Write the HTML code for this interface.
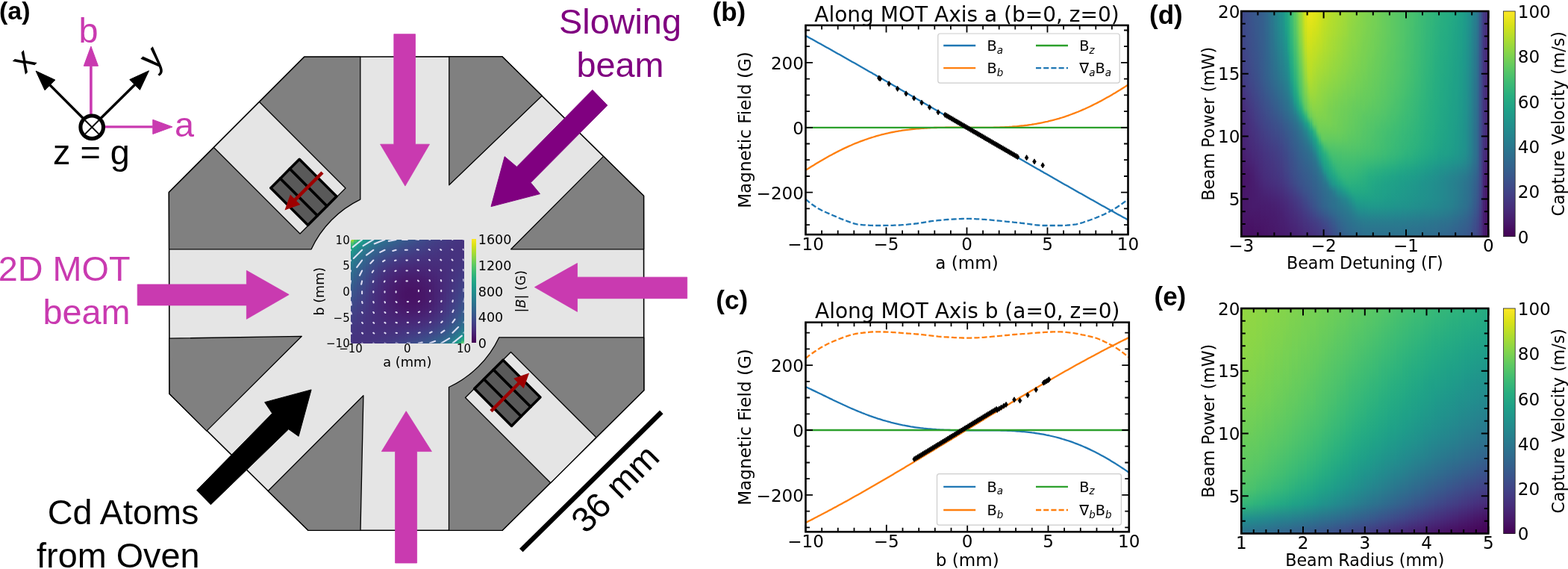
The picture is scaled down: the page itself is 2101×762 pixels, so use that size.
<!DOCTYPE html>
<html><head><meta charset="utf-8"><title>figure</title><style>
html,body{margin:0;padding:0;background:#fff;}
#w{position:relative;width:2101px;height:762px;overflow:hidden;background:#fff;}
svg.L{position:absolute;left:0;top:0;}
.hm{position:absolute;overflow:hidden;}
.hm i{position:absolute;top:0;height:100%;}
</style></head><body><div id="w">
<svg class="L" width="2101" height="762" viewBox="0 0 2101 762">
<polygon points="407.7,76.2 672.8,75.8 862.5,262.4 862.8,522.7 673.1,710.3 412.9,710.3 227.1,527.5 226.4,257.6" fill="#e5e5e5" stroke="#000" stroke-width="1.6" stroke-linejoin="round"/>
<path d="M226.4,257.6 L226.6,333.8 L417.1,333.8 A139.0,139.0 0 0 1 482.8,267.1 L482.8,76.1 L407.7,76.2 Z" fill="#808080" stroke="#000" stroke-width="1.3" stroke-linejoin="round"/>
<path d="M668.8,451.8 L862.7,451.8 L862.8,522.7 L673.1,710.3 L601.5,710.3 L601.5,518.5 A139.0,139.0 0 0 0 668.8,451.8 Z" fill="#808080" stroke="#000" stroke-width="1.3" stroke-linejoin="round"/>
<polygon points="601.8,75.8 672.8,75.8 726.2,128.2 601.8,247.8" fill="#808080" stroke="#000" stroke-width="1.3" stroke-linejoin="round"/>
<polygon points="808.6,209.4 862.5,262.4 862.6,333.8 684.6,333.8" fill="#808080" stroke="#000" stroke-width="1.3" stroke-linejoin="round"/>
<polygon points="226.8,453.2 404.3,450.3 276.9,577.1 227.1,527.5" fill="#808080" stroke="#000" stroke-width="1.3" stroke-linejoin="round"/>
<polygon points="486.9,529.8 483,710.3 412.9,710.3 359.2,657.5" fill="#808080" stroke="#000" stroke-width="1.3" stroke-linejoin="round"/>
<polygon points="347.5,136.5 463,252 402,313 286.5,197.5" fill="#e5e5e5" stroke="#000" stroke-width="1.3" stroke-linejoin="round"/>
<polygon points="798.8,585.8 684.5,471.5 623.5,532.5 737.8,646.8" fill="#e5e5e5" stroke="#000" stroke-width="1.3" stroke-linejoin="round"/>
<polygon points="362.8,251.7 412.6,301.5 425.4,288.7 375.6,238.9" fill="#595959" stroke="#000" stroke-width="3.5" stroke-linejoin="round"/>
<polygon points="375.6,238.9 425.4,288.7 438.2,275.9 388.4,226.1" fill="#595959" stroke="#000" stroke-width="3.5" stroke-linejoin="round"/>
<polygon points="388.4,226.1 438.2,275.9 451,263.1 401.2,213.3" fill="#595959" stroke="#000" stroke-width="3.5" stroke-linejoin="round"/>
<polygon points="635.7,520.6 685.5,570.4 698.3,557.6 648.5,507.8" fill="#595959" stroke="#000" stroke-width="3.5" stroke-linejoin="round"/>
<polygon points="648.5,507.8 698.3,557.6 711.1,544.8 661.3,495" fill="#595959" stroke="#000" stroke-width="3.5" stroke-linejoin="round"/>
<polygon points="661.3,495 711.1,544.8 723.9,532 674.1,482.2" fill="#595959" stroke="#000" stroke-width="3.5" stroke-linejoin="round"/>
<polygon points="430.4,229.4 394.1,265.8 388.9,260.6 381.5,281.5 402.4,274.1 397.2,268.9 433.6,232.6" fill="#9e0000"/>
<polygon points="659.5,552.2 696.5,515.1 701.7,520.3 709.1,499.4 688.2,506.8 693.4,512 656.3,549" fill="#9e0000"/>
<polygon points="527.8,45.7 556.5,45.7 556.5,193.2 575.5,193.2 542.9,249.1 509.6,193.2 527.8,193.2" fill="#c93ab0" stroke="#c93ab0" stroke-width="0.8" stroke-linejoin="round"/>
<polygon points="529.6,754 558.6,754 558.6,604.6 578.4,604.6 544.2,550.7 511.3,604.6 529.6,604.6" fill="#c93ab0" stroke="#c93ab0" stroke-width="0.8" stroke-linejoin="round"/>
<polygon points="184.2,380.9 330.4,380.9 330.4,362.3 387.2,394.5 330.4,427.3 330.4,408.9 184.2,408.9" fill="#c93ab0" stroke="#c93ab0" stroke-width="0.8" stroke-linejoin="round"/>
<polygon points="920.7,371.2 773.5,371.2 773.5,352.5 716.4,384.6 773.5,417.4 773.5,399.7 920.7,399.7" fill="#c93ab0" stroke="#c93ab0" stroke-width="0.8" stroke-linejoin="round"/>
<polygon points="793.9,120.4 813.8,141.1 711.1,244.6 723.5,259.6 658,276.6 676.2,209.7 692.4,223.4" fill="#800080" stroke="#800080" stroke-width="1" stroke-linejoin="round"/>
<polygon points="263.7,656.6 364.7,553.6 354.7,538.7 417.1,521.9 400.1,584.3 386.7,574.8 282.4,675.8" fill="#000" stroke="#000" stroke-width="1" stroke-linejoin="round"/>
<line x1="698.3" y1="737" x2="886.3" y2="551.9" stroke="#000" stroke-width="6.5"/>
<line x1="121.9" y1="155.3" x2="121.9" y2="88.3" stroke="#c93ab0" stroke-width="3.6"/><polygon points="131.5,88.3 121.9,62.1 112.3,88.3" fill="#c93ab0" stroke="#c93ab0" stroke-width="1" stroke-linejoin="round"/>
<line x1="138.2" y1="169.9" x2="204.8" y2="169.9" stroke="#c93ab0" stroke-width="3.4"/><polygon points="204.8,179.5 231,169.9 204.8,160.3" fill="#c93ab0" stroke="#c93ab0" stroke-width="1" stroke-linejoin="round"/>
<line x1="113.2" y1="160.3" x2="66.9" y2="113.9" stroke="#000" stroke-width="3.4"/><polygon points="73.8,107.1 48.1,95.1 60,120.8" fill="#000" stroke="#000" stroke-width="1" stroke-linejoin="round"/>
<line x1="133.2" y1="160.3" x2="180.6" y2="113.5" stroke="#000" stroke-width="3.4"/><polygon points="187.4,120.4 199.5,94.8 173.8,106.6" fill="#000" stroke="#000" stroke-width="1" stroke-linejoin="round"/>
<circle cx="123.2" cy="170.3" r="15.3" fill="#fff" stroke="#000" stroke-width="5.1"/>
<path d="M114.10000000000001,161.20000000000002 L132.3,179.4 M114.10000000000001,179.4 L132.3,161.20000000000002" stroke="#000" stroke-width="2"/>
<text x="-1" y="25.7" font-family="Liberation Sans, Arial, sans-serif" font-size="34" font-weight="bold">(a)</text>
<text x="118.5" y="57" font-family="Liberation Sans, Arial, sans-serif" font-size="46.8" fill="#c93ab0" text-anchor="middle">b</text>
<text x="247" y="183" font-family="Liberation Sans, Arial, sans-serif" font-size="46.8" fill="#c93ab0" text-anchor="middle">a</text>
<text x="122.5" y="220" font-family="Liberation Sans, Arial, sans-serif" font-size="46.8" text-anchor="middle">z = g</text>
<text transform="translate(33.3,83.6) rotate(-45)" font-family="Liberation Sans, Arial, sans-serif" font-size="46.8" text-anchor="middle" y="11.8">x</text>
<text transform="translate(209,83) rotate(-45)" font-family="Liberation Sans, Arial, sans-serif" font-size="46.8" text-anchor="middle" y="7">y</text>
<text font-family="Liberation Sans, Arial, sans-serif" font-size="46.8" fill="#800080" text-anchor="middle"><tspan x="831" y="44.9">Slowing</tspan><tspan x="831" y="103.1">beam</tspan></text>
<text font-family="Liberation Sans, Arial, sans-serif" font-size="46.8" fill="#c93ab0" text-anchor="end"><tspan x="174.5" y="375.7">2D MOT</tspan><tspan x="174.5" y="434">beam</tspan></text>
<text font-family="Liberation Sans, Arial, sans-serif" font-size="46.8" text-anchor="end"><tspan x="266.5" y="702.2">Cd Atoms</tspan><tspan x="267.5" y="760.2">from Oven</tspan></text>
<text transform="translate(835.5,665.5) rotate(-45)" font-family="Liberation Sans, Arial, sans-serif" font-size="46.8" text-anchor="middle">36 mm</text>
</svg>
<div class="hm" style="left:470px;top:320.9px;width:151.5px;height:138.7px">
<i style="left:0px;width:4.6px;background:linear-gradient(#a8db34 0%,#4ec36b 3.4%,#26ad81 6.9%,#1e9c89 10.3%,#21908d 13.8%,#25858e 17.2%,#277e8e 20.7%,#2a778e 24.1%,#2c718e 27.6%,#2e6d8e 31%,#31688e 34.5%,#32648e 37.9%,#34608d 41.4%,#365c8d 44.8%,#38588c 48.3%,#3a548c 51.7%,#3b518b 55.2%,#3d4e8a 58.6%,#3e4a89 62.1%,#3f4788 65.5%,#414487 69%,#424186 72.4%,#423f85 75.9%,#433d84 79.3%,#443a83 82.8%,#453882 86.2%,#453781 89.7%,#453581 93.1%,#463480 96.6%,#463480 100%)"></i>
<i style="left:4px;width:4.6px;background:linear-gradient(#5ec962 0%,#2cb17e 3.4%,#1f9f88 6.9%,#21918c 10.3%,#24868e 13.8%,#277e8e 17.2%,#2a768e 20.7%,#2d718e 24.1%,#2f6b8e 27.6%,#31668e 31%,#33628d 34.5%,#355e8d 37.9%,#375a8c 41.4%,#39568c 44.8%,#3a538b 48.3%,#3c508b 51.7%,#3d4d8a 55.2%,#3e4989 58.6%,#404688 62.1%,#414487 65.5%,#424186 69%,#423f85 72.4%,#433d84 75.9%,#443a83 79.3%,#453882 82.8%,#453781 86.2%,#453581 89.7%,#463480 93.1%,#463480 96.6%,#46337f 100%)"></i>
<i style="left:8px;width:4.6px;background:linear-gradient(#35b779 0%,#1fa287 3.4%,#20938c 6.9%,#24878e 10.3%,#277e8e 13.8%,#2a768e 17.2%,#2d708e 20.7%,#306a8e 24.1%,#32658e 27.6%,#34608d 31%,#365c8d 34.5%,#38598c 37.9%,#3a548c 41.4%,#3b518b 44.8%,#3d4e8a 48.3%,#3e4a89 51.7%,#3f4889 55.2%,#404588 58.6%,#414287 62.1%,#424086 65.5%,#433e85 69%,#443b84 72.4%,#443a83 75.9%,#453882 79.3%,#453781 82.8%,#453581 86.2%,#463480 89.7%,#463480 93.1%,#46337f 96.6%,#46337f 100%)"></i>
<i style="left:12px;width:4.6px;background:linear-gradient(#22a884 0%,#1f978b 3.4%,#238a8d 6.9%,#27808e 10.3%,#2a778e 13.8%,#2d708e 17.2%,#306a8e 20.7%,#32648e 24.1%,#355f8d 27.6%,#375b8d 31%,#39568c 34.5%,#3b528b 37.9%,#3c4f8a 41.4%,#3e4c8a 44.8%,#3e4989 48.3%,#404688 51.7%,#414487 55.2%,#424186 58.6%,#423f85 62.1%,#433d84 65.5%,#443b84 69%,#443983 72.4%,#453882 75.9%,#453781 79.3%,#453581 82.8%,#463480 86.2%,#46337f 89.7%,#46337f 93.1%,#46337f 96.6%,#46337f 100%)"></i>
<i style="left:15.9px;width:4.6px;background:linear-gradient(#1e9c89 0%,#218e8d 3.4%,#26828e 6.9%,#29798e 10.3%,#2d718e 13.8%,#306a8e 17.2%,#32648e 20.7%,#355e8d 24.1%,#38598c 27.6%,#3a548c 31%,#3c508b 34.5%,#3d4d8a 37.9%,#3e4989 41.4%,#3f4788 44.8%,#414487 48.3%,#424186 51.7%,#423f85 55.2%,#433e85 58.6%,#443b84 62.1%,#443a83 65.5%,#453882 69%,#453781 72.4%,#453581 75.9%,#463480 79.3%,#463480 82.8%,#46337f 86.2%,#46337f 89.7%,#46337f 93.1%,#46337f 96.6%,#46337f 100%)"></i>
<i style="left:19.9px;width:4.6px;background:linear-gradient(#20928c 0%,#25858e 3.4%,#287c8e 6.9%,#2c728e 10.3%,#2f6b8e 13.8%,#32648e 17.2%,#355e8d 20.7%,#38598c 24.1%,#3a538b 27.6%,#3c4f8a 31%,#3e4a89 34.5%,#3f4788 37.9%,#404588 41.4%,#424186 44.8%,#423f85 48.3%,#433d84 51.7%,#443b84 55.2%,#443983 58.6%,#453882 62.1%,#453781 65.5%,#453581 69%,#463480 72.4%,#46337f 75.9%,#46337f 79.3%,#46327e 82.8%,#46327e 86.2%,#46327e 89.7%,#46337f 93.1%,#46337f 96.6%,#463480 100%)"></i>
<i style="left:23.9px;width:4.6px;background:linear-gradient(#238a8d 0%,#277f8e 3.4%,#2b758e 6.9%,#2e6e8e 10.3%,#31668e 13.8%,#355f8d 17.2%,#38598c 20.7%,#3a538b 24.1%,#3d4e8a 27.6%,#3e4989 31%,#404688 34.5%,#414287 37.9%,#423f85 41.4%,#433d84 44.8%,#443a83 48.3%,#453882 51.7%,#453781 55.2%,#453581 58.6%,#463480 62.1%,#46337f 65.5%,#46337f 69%,#46327e 72.4%,#46327e 75.9%,#46327e 79.3%,#46327e 82.8%,#46327e 86.2%,#46327e 89.7%,#46337f 93.1%,#46337f 96.6%,#463480 100%)"></i>
<i style="left:27.9px;width:4.6px;background:linear-gradient(#25838e 0%,#29798e 3.4%,#2d718e 6.9%,#30698e 10.3%,#34618d 13.8%,#375a8c 17.2%,#3a538b 20.7%,#3d4e8a 24.1%,#3f4889 27.6%,#414487 31%,#424086 34.5%,#433d84 37.9%,#443a83 41.4%,#453882 44.8%,#453581 48.3%,#463480 51.7%,#46337f 55.2%,#46327e 58.6%,#46307e 62.1%,#46307e 65.5%,#46307e 69%,#472f7d 72.4%,#472f7d 75.9%,#472f7d 79.3%,#46307e 82.8%,#46307e 86.2%,#46327e 89.7%,#46337f 93.1%,#463480 96.6%,#453581 100%)"></i>
<i style="left:31.9px;width:4.6px;background:linear-gradient(#277e8e 0%,#2b748e 3.4%,#2f6c8e 6.9%,#32648e 10.3%,#365d8d 13.8%,#39558c 17.2%,#3c4f8a 20.7%,#3e4989 24.1%,#414487 27.6%,#423f85 31%,#443b84 34.5%,#453882 37.9%,#453581 41.4%,#46337f 44.8%,#46307e 48.3%,#472f7d 51.7%,#472e7c 55.2%,#472e7c 58.6%,#472e7c 62.1%,#472d7b 65.5%,#472d7b 69%,#472e7c 72.4%,#472e7c 75.9%,#472e7c 79.3%,#472f7d 82.8%,#46307e 86.2%,#46327e 89.7%,#46337f 93.1%,#463480 96.6%,#453781 100%)"></i>
<i style="left:35.9px;width:4.6px;background:linear-gradient(#29798e 0%,#2d718e 3.4%,#31688e 6.9%,#34608d 10.3%,#38598c 13.8%,#3b518b 17.2%,#3e4a89 20.7%,#404588 24.1%,#423f85 27.6%,#443a83 31%,#453781 34.5%,#46337f 37.9%,#46307e 41.4%,#472e7c 44.8%,#472d7b 48.3%,#472c7a 51.7%,#472a7a 55.2%,#472a7a 58.6%,#472a7a 62.1%,#472a7a 65.5%,#472c7a 69%,#472c7a 72.4%,#472d7b 75.9%,#472d7b 79.3%,#472e7c 82.8%,#46307e 86.2%,#46327e 89.7%,#46337f 93.1%,#453581 96.6%,#453882 100%)"></i>
<i style="left:39.9px;width:4.6px;background:linear-gradient(#2b748e 0%,#2f6c8e 3.4%,#32648e 6.9%,#365c8d 10.3%,#3a548c 13.8%,#3d4e8a 17.2%,#3f4788 20.7%,#424186 24.1%,#443b84 27.6%,#453781 31%,#46327e 34.5%,#472f7d 37.9%,#472c7a 41.4%,#472a7a 44.8%,#482979 48.3%,#482878 51.7%,#482677 55.2%,#482677 58.6%,#482878 62.1%,#482878 65.5%,#482979 69%,#482979 72.4%,#472a7a 75.9%,#472d7b 79.3%,#472e7c 82.8%,#472f7d 86.2%,#46327e 89.7%,#463480 93.1%,#453781 96.6%,#443983 100%)"></i>
<i style="left:43.9px;width:4.6px;background:linear-gradient(#2d718e 0%,#30698e 3.4%,#34618d 6.9%,#38598c 10.3%,#3b518b 13.8%,#3e4a89 17.2%,#414487 20.7%,#433d84 24.1%,#453882 27.6%,#46337f 31%,#472e7c 34.5%,#472a7a 37.9%,#482878 41.4%,#482677 44.8%,#482475 48.3%,#482475 51.7%,#482475 55.2%,#482475 58.6%,#482475 62.1%,#482576 65.5%,#482677 69%,#482878 72.4%,#482979 75.9%,#472c7a 79.3%,#472d7b 82.8%,#472f7d 86.2%,#46327e 89.7%,#463480 93.1%,#453781 96.6%,#443a83 100%)"></i>
<i style="left:47.8px;width:4.6px;background:linear-gradient(#2e6d8e 0%,#32658e 3.4%,#365d8d 6.9%,#39558c 10.3%,#3d4e8a 13.8%,#3f4788 17.2%,#424086 20.7%,#443a83 24.1%,#463480 27.6%,#472f7d 31%,#472a7a 34.5%,#482878 37.9%,#482475 41.4%,#482374 44.8%,#482173 48.3%,#482071 51.7%,#482071 55.2%,#482071 58.6%,#482173 62.1%,#482374 65.5%,#482475 69%,#482677 72.4%,#482878 75.9%,#472a7a 79.3%,#472d7b 82.8%,#472f7d 86.2%,#46327e 89.7%,#453581 93.1%,#453882 96.6%,#443b84 100%)"></i>
<i style="left:51.8px;width:4.6px;background:linear-gradient(#306a8e 0%,#33628d 3.4%,#375a8c 6.9%,#3b528b 10.3%,#3e4c8a 13.8%,#414487 17.2%,#433e85 20.7%,#453781 24.1%,#46327e 27.6%,#472c7a 31%,#482878 34.5%,#482475 37.9%,#482173 41.4%,#481f70 44.8%,#481d6f 48.3%,#481d6f 51.7%,#481d6f 55.2%,#481d6f 58.6%,#481f70 62.1%,#482071 65.5%,#482374 69%,#482475 72.4%,#482677 75.9%,#472a7a 79.3%,#472d7b 82.8%,#472f7d 86.2%,#46337f 89.7%,#453781 93.1%,#443983 96.6%,#433d84 100%)"></i>
<i style="left:55.8px;width:4.6px;background:linear-gradient(#31668e 0%,#355f8d 3.4%,#38588c 6.9%,#3c508b 10.3%,#3f4889 13.8%,#424186 17.2%,#443a83 20.7%,#463480 24.1%,#472f7d 27.6%,#482979 31%,#482576 34.5%,#482173 37.9%,#481f70 41.4%,#481c6e 44.8%,#481b6d 48.3%,#481b6d 51.7%,#481b6d 55.2%,#481b6d 58.6%,#481c6e 62.1%,#481f70 65.5%,#482071 69%,#482374 72.4%,#482677 75.9%,#482979 79.3%,#472d7b 82.8%,#472f7d 86.2%,#46337f 89.7%,#453781 93.1%,#443b84 96.6%,#423f85 100%)"></i>
<i style="left:59.8px;width:4.6px;background:linear-gradient(#33638d 0%,#365c8d 3.4%,#3a548c 6.9%,#3d4e8a 10.3%,#404688 13.8%,#423f85 17.2%,#443983 20.7%,#46327e 24.1%,#472d7b 27.6%,#482878 31%,#482374 34.5%,#481f70 37.9%,#481c6e 41.4%,#481a6c 44.8%,#48186a 48.3%,#48186a 51.7%,#48186a 55.2%,#481a6c 58.6%,#481b6d 62.1%,#481c6e 65.5%,#481f70 69%,#482173 72.4%,#482576 75.9%,#482979 79.3%,#472c7a 82.8%,#46307e 86.2%,#463480 89.7%,#453882 93.1%,#433d84 96.6%,#424086 100%)"></i>
<i style="left:63.8px;width:4.6px;background:linear-gradient(#34608d 0%,#38598c 3.4%,#3b528b 6.9%,#3e4a89 10.3%,#414487 13.8%,#433d84 17.2%,#453781 20.7%,#46307e 24.1%,#472a7a 27.6%,#482576 31%,#482173 34.5%,#481d6f 37.9%,#481b6d 41.4%,#48186a 44.8%,#481769 48.3%,#481668 51.7%,#481668 55.2%,#481769 58.6%,#48186a 62.1%,#481b6d 65.5%,#481d6f 69%,#482173 72.4%,#482475 75.9%,#482878 79.3%,#472c7a 82.8%,#46307e 86.2%,#463480 89.7%,#443983 93.1%,#433e85 96.6%,#414287 100%)"></i>
<i style="left:67.8px;width:4.6px;background:linear-gradient(#365d8d 0%,#39568c 3.4%,#3c4f8a 6.9%,#3f4889 10.3%,#414287 13.8%,#443b84 17.2%,#453581 20.7%,#472f7d 24.1%,#482979 27.6%,#482475 31%,#482071 34.5%,#481c6e 37.9%,#48186a 41.4%,#481769 44.8%,#481668 48.3%,#481467 51.7%,#481467 55.2%,#481668 58.6%,#481769 62.1%,#481a6c 65.5%,#481c6e 69%,#482071 72.4%,#482475 75.9%,#482878 79.3%,#472d7b 82.8%,#46307e 86.2%,#453581 89.7%,#443a83 93.1%,#423f85 96.6%,#404588 100%)"></i>
<i style="left:71.8px;width:4.6px;background:linear-gradient(#375a8c 0%,#3a538b 3.4%,#3d4d8a 6.9%,#3f4788 10.3%,#424086 13.8%,#443a83 17.2%,#463480 20.7%,#472e7c 24.1%,#482878 27.6%,#482475 31%,#481f70 34.5%,#481b6d 37.9%,#48186a 41.4%,#481668 44.8%,#481467 48.3%,#471365 51.7%,#471365 55.2%,#481467 58.6%,#481668 62.1%,#48186a 65.5%,#481c6e 69%,#481f70 72.4%,#482475 75.9%,#482878 79.3%,#472d7b 82.8%,#46327e 86.2%,#453781 89.7%,#443b84 93.1%,#424186 96.6%,#3f4788 100%)"></i>
<i style="left:75.8px;width:4.6px;background:linear-gradient(#38588c 0%,#3b518b 3.4%,#3e4a89 6.9%,#404588 10.3%,#423f85 13.8%,#453882 17.2%,#46337f 20.7%,#472d7b 24.1%,#482878 27.6%,#482374 31%,#481f70 34.5%,#481b6d 37.9%,#481769 41.4%,#481668 44.8%,#471365 48.3%,#471365 51.7%,#471365 55.2%,#481467 58.6%,#481668 62.1%,#48186a 65.5%,#481b6d 69%,#481f70 72.4%,#482374 75.9%,#482878 79.3%,#472d7b 82.8%,#46327e 86.2%,#453882 89.7%,#433e85 93.1%,#414487 96.6%,#3e4989 100%)"></i>
<i style="left:79.7px;width:4.6px;background:linear-gradient(#3a548c 0%,#3c4f8a 3.4%,#3f4889 6.9%,#414287 10.3%,#433d84 13.8%,#453781 17.2%,#46327e 20.7%,#472d7b 24.1%,#482878 27.6%,#482374 31%,#481f70 34.5%,#481b6d 37.9%,#481769 41.4%,#481668 44.8%,#471365 48.3%,#471365 51.7%,#471365 55.2%,#481467 58.6%,#481668 62.1%,#48186a 65.5%,#481b6d 69%,#481f70 72.4%,#482475 75.9%,#482878 79.3%,#472e7c 82.8%,#46337f 86.2%,#443983 89.7%,#423f85 93.1%,#404588 96.6%,#3e4c8a 100%)"></i>
<i style="left:83.7px;width:4.6px;background:linear-gradient(#3b518b 0%,#3e4c8a 3.4%,#404688 6.9%,#424186 10.3%,#443b84 13.8%,#453781 17.2%,#46307e 20.7%,#472c7a 24.1%,#482677 27.6%,#482374 31%,#481f70 34.5%,#481b6d 37.9%,#48186a 41.4%,#481668 44.8%,#481467 48.3%,#471365 51.7%,#471365 55.2%,#481467 58.6%,#481668 62.1%,#48186a 65.5%,#481b6d 69%,#482071 72.4%,#482475 75.9%,#482979 79.3%,#472e7c 82.8%,#463480 86.2%,#443a83 89.7%,#424086 93.1%,#3f4788 96.6%,#3d4e8a 100%)"></i>
<i style="left:87.7px;width:4.6px;background:linear-gradient(#3c4f8a 0%,#3e4989 3.4%,#404588 6.9%,#423f85 10.3%,#443a83 13.8%,#453581 17.2%,#46307e 20.7%,#472c7a 24.1%,#482677 27.6%,#482374 31%,#481f70 34.5%,#481c6e 37.9%,#48186a 41.4%,#481769 44.8%,#481467 48.3%,#481467 51.7%,#481467 55.2%,#481467 58.6%,#481769 62.1%,#481a6c 65.5%,#481c6e 69%,#482071 72.4%,#482576 75.9%,#472a7a 79.3%,#472f7d 82.8%,#453581 86.2%,#433d84 89.7%,#414287 93.1%,#3e4989 96.6%,#3c508b 100%)"></i>
<i style="left:91.7px;width:4.6px;background:linear-gradient(#3d4d8a 0%,#3f4788 3.4%,#414287 6.9%,#433e85 10.3%,#443983 13.8%,#463480 17.2%,#472f7d 20.7%,#472c7a 24.1%,#482878 27.6%,#482475 31%,#482071 34.5%,#481c6e 37.9%,#481a6c 41.4%,#48186a 44.8%,#481668 48.3%,#481668 51.7%,#481668 55.2%,#481668 58.6%,#48186a 62.1%,#481a6c 65.5%,#481d6f 69%,#482173 72.4%,#482677 75.9%,#472c7a 79.3%,#46307e 82.8%,#453882 86.2%,#433e85 89.7%,#404588 93.1%,#3e4c8a 96.6%,#3b528b 100%)"></i>
<i style="left:95.7px;width:4.6px;background:linear-gradient(#3e4989 0%,#404588 3.4%,#424086 6.9%,#433d84 10.3%,#453882 13.8%,#46337f 17.2%,#472f7d 20.7%,#472c7a 24.1%,#482878 27.6%,#482475 31%,#482173 34.5%,#481d6f 37.9%,#481b6d 41.4%,#481a6c 44.8%,#48186a 48.3%,#481769 51.7%,#481769 55.2%,#48186a 58.6%,#481a6c 62.1%,#481c6e 65.5%,#481f70 69%,#482374 72.4%,#482878 75.9%,#472d7b 79.3%,#46337f 82.8%,#443983 86.2%,#424086 89.7%,#3f4788 93.1%,#3d4e8a 96.6%,#39558c 100%)"></i>
<i style="left:99.7px;width:4.6px;background:linear-gradient(#3f4788 0%,#414287 3.4%,#423f85 6.9%,#443a83 10.3%,#453781 13.8%,#46337f 17.2%,#472f7d 20.7%,#472c7a 24.1%,#482878 27.6%,#482576 31%,#482374 34.5%,#481f70 37.9%,#481d6f 41.4%,#481b6d 44.8%,#481a6c 48.3%,#481a6c 51.7%,#481a6c 55.2%,#481a6c 58.6%,#481c6e 62.1%,#481d6f 65.5%,#482173 69%,#482576 72.4%,#482979 75.9%,#472f7d 79.3%,#453581 82.8%,#443b84 86.2%,#414287 89.7%,#3e4989 93.1%,#3b518b 96.6%,#38598c 100%)"></i>
<i style="left:103.7px;width:4.6px;background:linear-gradient(#404588 0%,#424186 3.4%,#433d84 6.9%,#443983 10.3%,#453581 13.8%,#46327e 17.2%,#472f7d 20.7%,#472c7a 24.1%,#482979 27.6%,#482677 31%,#482475 34.5%,#482173 37.9%,#481f70 41.4%,#481d6f 44.8%,#481c6e 48.3%,#481c6e 51.7%,#481c6e 55.2%,#481d6f 58.6%,#481f70 62.1%,#482071 65.5%,#482475 69%,#482878 72.4%,#472c7a 75.9%,#46327e 79.3%,#453882 82.8%,#433e85 86.2%,#404588 89.7%,#3e4c8a 93.1%,#3a538b 96.6%,#365c8d 100%)"></i>
<i style="left:107.6px;width:4.6px;background:linear-gradient(#414287 0%,#423f85 3.4%,#443b84 6.9%,#453882 10.3%,#453581 13.8%,#46327e 17.2%,#472f7d 20.7%,#472d7b 24.1%,#472a7a 27.6%,#482878 31%,#482576 34.5%,#482374 37.9%,#482173 41.4%,#482071 44.8%,#481f70 48.3%,#481f70 51.7%,#481f70 55.2%,#482071 58.6%,#482173 62.1%,#482475 65.5%,#482677 69%,#472a7a 72.4%,#472f7d 75.9%,#463480 79.3%,#443a83 82.8%,#424086 86.2%,#3f4788 89.7%,#3c4f8a 93.1%,#39568c 96.6%,#355f8d 100%)"></i>
<i style="left:111.6px;width:4.6px;background:linear-gradient(#424086 0%,#433d84 3.4%,#443a83 6.9%,#453781 10.3%,#463480 13.8%,#46327e 17.2%,#472f7d 20.7%,#472d7b 24.1%,#472a7a 27.6%,#482979 31%,#482677 34.5%,#482576 37.9%,#482475 41.4%,#482374 44.8%,#482374 48.3%,#482374 51.7%,#482374 55.2%,#482475 58.6%,#482576 62.1%,#482878 65.5%,#472a7a 69%,#472e7c 72.4%,#46327e 75.9%,#453882 79.3%,#433d84 82.8%,#414487 86.2%,#3e4a89 89.7%,#3b528b 93.1%,#375b8d 96.6%,#33638d 100%)"></i>
<i style="left:115.6px;width:4.6px;background:linear-gradient(#423f85 0%,#443b84 3.4%,#443983 6.9%,#453581 10.3%,#46337f 13.8%,#46327e 17.2%,#472f7d 20.7%,#472d7b 24.1%,#472c7a 27.6%,#472a7a 31%,#482979 34.5%,#482878 37.9%,#482677 41.4%,#482677 44.8%,#482576 48.3%,#482576 51.7%,#482677 55.2%,#482878 58.6%,#482979 62.1%,#472c7a 65.5%,#472e7c 69%,#46327e 72.4%,#453581 75.9%,#443b84 79.3%,#424186 82.8%,#3f4788 86.2%,#3d4e8a 89.7%,#39568c 93.1%,#355e8d 96.6%,#31678e 100%)"></i>
<i style="left:119.6px;width:4.6px;background:linear-gradient(#433d84 0%,#443a83 3.4%,#453882 6.9%,#453581 10.3%,#46337f 13.8%,#46327e 17.2%,#472f7d 20.7%,#472e7c 24.1%,#472d7b 27.6%,#472c7a 31%,#472a7a 34.5%,#472a7a 37.9%,#482979 41.4%,#482979 44.8%,#482979 48.3%,#482979 51.7%,#472a7a 55.2%,#472c7a 58.6%,#472d7b 62.1%,#472f7d 65.5%,#46327e 69%,#453581 72.4%,#443a83 75.9%,#423f85 79.3%,#404588 82.8%,#3e4c8a 86.2%,#3b528b 89.7%,#375a8c 93.1%,#33638d 96.6%,#2e6d8e 100%)"></i>
<i style="left:123.6px;width:4.6px;background:linear-gradient(#443b84 0%,#443983 3.4%,#453781 6.9%,#463480 10.3%,#46337f 13.8%,#46327e 17.2%,#46307e 20.7%,#472f7d 24.1%,#472e7c 27.6%,#472d7b 31%,#472d7b 34.5%,#472d7b 37.9%,#472d7b 41.4%,#472d7b 44.8%,#472d7b 48.3%,#472d7b 51.7%,#472e7c 55.2%,#472f7d 58.6%,#46327e 62.1%,#463480 65.5%,#453781 69%,#443a83 72.4%,#423f85 75.9%,#414487 79.3%,#3e4989 82.8%,#3c508b 86.2%,#39568c 89.7%,#355f8d 93.1%,#31688e 96.6%,#2c728e 100%)"></i>
<i style="left:127.6px;width:4.6px;background:linear-gradient(#443983 0%,#453781 3.4%,#453581 6.9%,#463480 10.3%,#46337f 13.8%,#46327e 17.2%,#46307e 20.7%,#472f7d 24.1%,#472f7d 27.6%,#472f7d 31%,#472f7d 34.5%,#472f7d 37.9%,#472f7d 41.4%,#472f7d 44.8%,#46307e 48.3%,#46327e 51.7%,#46337f 55.2%,#463480 58.6%,#453781 62.1%,#443983 65.5%,#443b84 69%,#423f85 72.4%,#414487 75.9%,#3f4889 79.3%,#3d4e8a 82.8%,#3a548c 86.2%,#365c8d 89.7%,#32648e 93.1%,#2e6e8e 96.6%,#29798e 100%)"></i>
<i style="left:131.6px;width:4.6px;background:linear-gradient(#453882 0%,#453781 3.4%,#463480 6.9%,#46337f 10.3%,#46327e 13.8%,#46327e 17.2%,#46307e 20.7%,#46307e 24.1%,#46307e 27.6%,#46307e 31%,#46327e 34.5%,#46327e 37.9%,#46327e 41.4%,#46337f 44.8%,#463480 48.3%,#453581 51.7%,#453781 55.2%,#443983 58.6%,#443b84 62.1%,#433e85 65.5%,#424186 69%,#404588 72.4%,#3f4889 75.9%,#3d4e8a 79.3%,#3a538b 82.8%,#375a8c 86.2%,#33628d 89.7%,#2f6b8e 93.1%,#2b758e 96.6%,#26828e 100%)"></i>
<i style="left:135.6px;width:4.6px;background:linear-gradient(#453781 0%,#453581 3.4%,#463480 6.9%,#46337f 10.3%,#46337f 13.8%,#46327e 17.2%,#46327e 20.7%,#46327e 24.1%,#46327e 27.6%,#46337f 31%,#46337f 34.5%,#463480 37.9%,#453581 41.4%,#453781 44.8%,#453882 48.3%,#443a83 51.7%,#443b84 55.2%,#433e85 58.6%,#424086 62.1%,#414287 65.5%,#404688 69%,#3e4a89 72.4%,#3d4e8a 75.9%,#3a538b 79.3%,#375a8c 82.8%,#34608d 86.2%,#31688e 89.7%,#2c718e 93.1%,#277e8e 96.6%,#218e8d 100%)"></i>
<i style="left:139.5px;width:4.6px;background:linear-gradient(#453581 0%,#463480 3.4%,#46337f 6.9%,#46337f 10.3%,#46337f 13.8%,#46337f 17.2%,#46337f 20.7%,#46337f 24.1%,#463480 27.6%,#453581 31%,#453581 34.5%,#453882 37.9%,#443983 41.4%,#443a83 44.8%,#433d84 48.3%,#433e85 51.7%,#424086 55.2%,#414287 58.6%,#404688 62.1%,#3f4889 65.5%,#3e4c8a 69%,#3c508b 72.4%,#3a548c 75.9%,#375a8c 79.3%,#34608d 82.8%,#31678e 86.2%,#2d708e 89.7%,#297a8e 93.1%,#23898e 96.6%,#1e9d89 100%)"></i>
<i style="left:143.5px;width:4.6px;background:linear-gradient(#453581 0%,#463480 3.4%,#46337f 6.9%,#46337f 10.3%,#46337f 13.8%,#46337f 17.2%,#463480 20.7%,#463480 24.1%,#453581 27.6%,#453781 31%,#443983 34.5%,#443a83 37.9%,#433d84 41.4%,#433e85 44.8%,#424086 48.3%,#414287 51.7%,#404588 55.2%,#3f4889 58.6%,#3e4a89 62.1%,#3d4e8a 65.5%,#3b518b 69%,#39558c 72.4%,#375b8d 75.9%,#34608d 79.3%,#31668e 82.8%,#2e6e8e 86.2%,#2a788e 89.7%,#25858e 93.1%,#1f978b 96.6%,#2cb17e 100%)"></i>
<i style="left:147.5px;width:4.6px;background:linear-gradient(#463480 0%,#46337f 3.4%,#46337f 6.9%,#46337f 10.3%,#46337f 13.8%,#463480 17.2%,#453581 20.7%,#453781 24.1%,#453882 27.6%,#443983 31%,#443b84 34.5%,#433d84 37.9%,#423f85 41.4%,#424186 44.8%,#404588 48.3%,#3f4788 51.7%,#3e4989 55.2%,#3d4d8a 58.6%,#3c508b 62.1%,#3a538b 65.5%,#38588c 69%,#365c8d 72.4%,#34618d 75.9%,#31678e 79.3%,#2e6e8e 82.8%,#2a778e 86.2%,#26828e 89.7%,#20928c 93.1%,#24aa83 96.6%,#5cc863 100%)"></i>
</div>
<div class="hm" style="left:631.6px;top:320.2px;width:6.7px;height:139.1px;background:linear-gradient(#fde725 0%,#d8e219 6.2%,#addc30 12.5%,#84d44b 18.8%,#5ec962 25%,#3fbc73 31.2%,#28ae80 37.5%,#1fa088 43.8%,#21918c 50%,#26828e 56.2%,#2c728e 62.5%,#33638d 68.8%,#3b528b 75%,#424086 81.2%,#472d7b 87.5%,#48186a 93.8%,#440154 100%)"></div>
<div class="hm" style="left:1663.3px;top:15px;width:331px;height:301.7px">
<i style="left:0px;width:3px;background:linear-gradient(#3f4788 0%,#3f4788 3.3%,#3f4788 6.7%,#404688 10%,#414487 13.3%,#414287 16.7%,#424086 20%,#423f85 23.3%,#433d84 26.7%,#443a83 30%,#453781 33.3%,#46327e 36.7%,#472e7c 40%,#472a7a 43.3%,#482979 46.7%,#482677 50%,#482576 53.3%,#482374 56.7%,#482071 60%,#481d6f 63.3%,#481b6d 66.7%,#481769 70%,#481467 73.3%,#481467 76.7%,#481668 80%,#481769 83.3%,#481769 86.7%,#481668 90%,#481467 93.3%,#471365 96.7%,#471063 100%)"></i>
<i style="left:2.4px;width:3px;background:linear-gradient(#3e4a89 0%,#3e4989 3.3%,#3e4989 6.7%,#3f4889 10%,#3f4788 13.3%,#404588 16.7%,#414487 20%,#424186 23.3%,#423f85 26.7%,#433d84 30%,#443983 33.3%,#453581 36.7%,#46307e 40%,#472e7c 43.3%,#472c7a 46.7%,#482979 50%,#482677 53.3%,#482475 56.7%,#482374 60%,#482071 63.3%,#481c6e 66.7%,#48186a 70%,#481668 73.3%,#481467 76.7%,#481668 80%,#481769 83.3%,#481769 86.7%,#481769 90%,#481467 93.3%,#471365 96.7%,#471063 100%)"></i>
<i style="left:4.7px;width:3px;background:linear-gradient(#3d4d8a 0%,#3d4d8a 3.3%,#3e4c8a 6.7%,#3e4a89 10%,#3e4989 13.3%,#3f4889 16.7%,#404688 20%,#404588 23.3%,#414287 26.7%,#424086 30%,#433d84 33.3%,#453882 36.7%,#463480 40%,#46307e 43.3%,#472e7c 46.7%,#472c7a 50%,#482979 53.3%,#482677 56.7%,#482475 60%,#482173 63.3%,#481d6f 66.7%,#481a6c 70%,#481668 73.3%,#481668 76.7%,#481769 80%,#48186a 83.3%,#48186a 86.7%,#481769 90%,#481467 93.3%,#471365 96.7%,#471063 100%)"></i>
<i style="left:7.1px;width:3px;background:linear-gradient(#3c4f8a 0%,#3c4f8a 3.3%,#3d4e8a 6.7%,#3d4d8a 10%,#3e4c8a 13.3%,#3e4a89 16.7%,#3f4889 20%,#3f4788 23.3%,#404588 26.7%,#414287 30%,#423f85 33.3%,#443b84 36.7%,#453781 40%,#46337f 43.3%,#46307e 46.7%,#472d7b 50%,#472a7a 53.3%,#482878 56.7%,#482677 60%,#482475 63.3%,#482071 66.7%,#481b6d 70%,#481769 73.3%,#481769 76.7%,#48186a 80%,#48186a 83.3%,#48186a 86.7%,#481769 90%,#481467 93.3%,#471164 96.7%,#471063 100%)"></i>
<i style="left:9.5px;width:3px;background:linear-gradient(#3b518b 0%,#3b518b 3.3%,#3c508b 6.7%,#3c4f8a 10%,#3d4e8a 13.3%,#3d4d8a 16.7%,#3e4c8a 20%,#3e4989 23.3%,#3f4788 26.7%,#404588 30%,#414287 33.3%,#433e85 36.7%,#443a83 40%,#453781 43.3%,#46337f 46.7%,#472f7d 50%,#472d7b 53.3%,#472a7a 56.7%,#482878 60%,#482576 63.3%,#482173 66.7%,#481c6e 70%,#48186a 73.3%,#48186a 76.7%,#48186a 80%,#481a6c 83.3%,#481a6c 86.7%,#481769 90%,#481467 93.3%,#471164 96.7%,#471063 100%)"></i>
<i style="left:11.8px;width:3px;background:linear-gradient(#3a538b 0%,#3a538b 3.3%,#3b528b 6.7%,#3b518b 10%,#3c508b 13.3%,#3c4f8a 16.7%,#3d4e8a 20%,#3e4c8a 23.3%,#3e4a89 26.7%,#3f4889 30%,#404588 33.3%,#424086 36.7%,#433d84 40%,#443983 43.3%,#453581 46.7%,#46327e 50%,#472f7d 53.3%,#472d7b 56.7%,#472a7a 60%,#482677 63.3%,#482374 66.7%,#481f70 70%,#481b6d 73.3%,#481a6c 76.7%,#481a6c 80%,#481a6c 83.3%,#481a6c 86.7%,#48186a 90%,#481467 93.3%,#471164 96.7%,#471063 100%)"></i>
<i style="left:14.2px;width:3px;background:linear-gradient(#39558c 0%,#39558c 3.3%,#3a548c 6.7%,#3a538b 10%,#3b528b 13.3%,#3b518b 16.7%,#3c508b 20%,#3d4e8a 23.3%,#3d4d8a 26.7%,#3e4a89 30%,#3f4788 33.3%,#414487 36.7%,#423f85 40%,#443b84 43.3%,#453882 46.7%,#463480 50%,#46327e 53.3%,#472e7c 56.7%,#472c7a 60%,#482979 63.3%,#482576 66.7%,#482071 70%,#481d6f 73.3%,#481c6e 76.7%,#481b6d 80%,#481b6d 83.3%,#481b6d 86.7%,#48186a 90%,#481467 93.3%,#471164 96.7%,#471063 100%)"></i>
<i style="left:16.6px;width:3px;background:linear-gradient(#38588c 0%,#38588c 3.3%,#39568c 6.7%,#39558c 10%,#3a548c 13.3%,#3a538b 16.7%,#3b528b 20%,#3b518b 23.3%,#3c4f8a 26.7%,#3d4d8a 30%,#3e4989 33.3%,#404688 36.7%,#414287 40%,#423f85 43.3%,#443b84 46.7%,#453781 50%,#46337f 53.3%,#46307e 56.7%,#472d7b 60%,#472a7a 63.3%,#482677 66.7%,#482374 70%,#482071 73.3%,#481d6f 76.7%,#481c6e 80%,#481b6d 83.3%,#481b6d 86.7%,#48186a 90%,#481668 93.3%,#471365 96.7%,#471063 100%)"></i>
<i style="left:18.9px;width:3px;background:linear-gradient(#38598c 0%,#38598c 3.3%,#38598c 6.7%,#38588c 10%,#39568c 13.3%,#39558c 16.7%,#3a548c 20%,#3a538b 23.3%,#3b518b 26.7%,#3c4f8a 30%,#3d4d8a 33.3%,#3f4889 36.7%,#404588 40%,#424186 43.3%,#433e85 46.7%,#443a83 50%,#453581 53.3%,#46337f 56.7%,#472f7d 60%,#472c7a 63.3%,#482979 66.7%,#482576 70%,#482374 73.3%,#482071 76.7%,#481d6f 80%,#481c6e 83.3%,#481b6d 86.7%,#48186a 90%,#481668 93.3%,#471365 96.7%,#471063 100%)"></i>
<i style="left:21.3px;width:3px;background:linear-gradient(#375b8d 0%,#375b8d 3.3%,#375a8c 6.7%,#375a8c 10%,#38598c 13.3%,#38588c 16.7%,#39568c 20%,#39558c 23.3%,#3a548c 26.7%,#3b528b 30%,#3c4f8a 33.3%,#3e4c8a 36.7%,#3f4788 40%,#414487 43.3%,#424086 46.7%,#433d84 50%,#453882 53.3%,#463480 56.7%,#46307e 60%,#472e7c 63.3%,#472a7a 66.7%,#482878 70%,#482576 73.3%,#482173 76.7%,#481f70 80%,#481d6f 83.3%,#481b6d 86.7%,#48186a 90%,#481668 93.3%,#471365 96.7%,#471063 100%)"></i>
<i style="left:23.6px;width:3px;background:linear-gradient(#365c8d 0%,#365c8d 3.3%,#365c8d 6.7%,#365c8d 10%,#375b8d 13.3%,#375a8c 16.7%,#38598c 20%,#38588c 23.3%,#39568c 26.7%,#3a548c 30%,#3b518b 33.3%,#3d4e8a 36.7%,#3e4a89 40%,#404688 43.3%,#414287 46.7%,#423f85 50%,#443a83 53.3%,#453781 56.7%,#46337f 60%,#472f7d 63.3%,#472d7b 66.7%,#472a7a 70%,#482677 73.3%,#482475 76.7%,#482071 80%,#481d6f 83.3%,#481b6d 86.7%,#48186a 90%,#481668 93.3%,#471365 96.7%,#471164 100%)"></i>
<i style="left:26px;width:3px;background:linear-gradient(#355e8d 0%,#355e8d 3.3%,#355e8d 6.7%,#355e8d 10%,#365d8d 13.3%,#365c8d 16.7%,#375b8d 20%,#375b8d 23.3%,#38598c 26.7%,#38588c 30%,#3a548c 33.3%,#3b518b 36.7%,#3d4d8a 40%,#3e4989 43.3%,#404588 46.7%,#424186 50%,#433d84 53.3%,#443983 56.7%,#463480 60%,#46307e 63.3%,#472e7c 66.7%,#472c7a 70%,#482979 73.3%,#482576 76.7%,#482173 80%,#481f70 83.3%,#481c6e 86.7%,#481a6c 90%,#481769 93.3%,#481467 96.7%,#471164 100%)"></i>
<i style="left:28.4px;width:3px;background:linear-gradient(#34618d 0%,#34618d 3.3%,#34608d 6.7%,#34608d 10%,#355f8d 13.3%,#355f8d 16.7%,#355e8d 20%,#365d8d 23.3%,#365c8d 26.7%,#375b8d 30%,#38588c 33.3%,#3a538b 36.7%,#3c4f8a 40%,#3e4c8a 43.3%,#3f4788 46.7%,#414487 50%,#423f85 53.3%,#443a83 56.7%,#453781 60%,#46337f 63.3%,#46307e 66.7%,#472e7c 70%,#472c7a 73.3%,#482878 76.7%,#482374 80%,#481f70 83.3%,#481c6e 86.7%,#481a6c 90%,#481769 93.3%,#481467 96.7%,#471365 100%)"></i>
<i style="left:30.7px;width:3px;background:linear-gradient(#32648e 0%,#32648e 3.3%,#32648e 6.7%,#33638d 10%,#33628d 13.3%,#34618d 16.7%,#34618d 20%,#34608d 23.3%,#355f8d 26.7%,#365d8d 30%,#375a8c 33.3%,#39568c 36.7%,#3b528b 40%,#3d4e8a 43.3%,#3e4989 46.7%,#404588 50%,#424186 53.3%,#433d84 56.7%,#453882 60%,#463480 63.3%,#46327e 66.7%,#472f7d 70%,#472d7b 73.3%,#482979 76.7%,#482475 80%,#482071 83.3%,#481c6e 86.7%,#481a6c 90%,#481769 93.3%,#481668 96.7%,#471365 100%)"></i>
<i style="left:33.1px;width:3px;background:linear-gradient(#31688e 0%,#31688e 3.3%,#31688e 6.7%,#31678e 10%,#31668e 13.3%,#32658e 16.7%,#32648e 20%,#33638d 23.3%,#33628d 26.7%,#34608d 30%,#365d8d 33.3%,#38598c 36.7%,#3a548c 40%,#3c508b 43.3%,#3e4c8a 46.7%,#3f4788 50%,#414287 53.3%,#433e85 56.7%,#443983 60%,#453581 63.3%,#46337f 66.7%,#46307e 70%,#472e7c 73.3%,#472a7a 76.7%,#482576 80%,#482071 83.3%,#481d6f 86.7%,#481b6d 90%,#48186a 93.3%,#481668 96.7%,#471365 100%)"></i>
<i style="left:35.5px;width:3px;background:linear-gradient(#2e6d8e 0%,#2e6d8e 3.3%,#2f6c8e 6.7%,#2f6b8e 10%,#306a8e 13.3%,#30698e 16.7%,#31678e 20%,#31668e 23.3%,#32658e 26.7%,#33638d 30%,#34608d 33.3%,#375b8d 36.7%,#39568c 40%,#3b528b 43.3%,#3d4e8a 46.7%,#3e4989 50%,#404588 53.3%,#424086 56.7%,#443b84 60%,#453781 63.3%,#463480 66.7%,#46327e 70%,#472f7d 73.3%,#472c7a 76.7%,#482677 80%,#482173 83.3%,#481d6f 86.7%,#481b6d 90%,#48186a 93.3%,#481769 96.7%,#481467 100%)"></i>
<i style="left:37.8px;width:3px;background:linear-gradient(#2c718e 0%,#2d718e 3.3%,#2d718e 6.7%,#2d708e 10%,#2e6e8e 13.3%,#2e6d8e 16.7%,#2f6b8e 20%,#30698e 23.3%,#31688e 26.7%,#31668e 30%,#33628d 33.3%,#355e8d 36.7%,#38598c 40%,#3a548c 43.3%,#3c508b 46.7%,#3e4a89 50%,#404688 53.3%,#424186 56.7%,#433d84 60%,#443983 63.3%,#453581 66.7%,#46337f 70%,#46307e 73.3%,#472d7b 76.7%,#482677 80%,#482173 83.3%,#481d6f 86.7%,#481b6d 90%,#481a6c 93.3%,#481769 96.7%,#481668 100%)"></i>
<i style="left:40.2px;width:3px;background:linear-gradient(#2a768e 0%,#2a768e 3.3%,#2b758e 6.7%,#2c738e 10%,#2c728e 13.3%,#2d718e 16.7%,#2e6f8e 20%,#2e6d8e 23.3%,#2f6b8e 26.7%,#30698e 30%,#32658e 33.3%,#34608d 36.7%,#365c8d 40%,#39568c 43.3%,#3b528b 46.7%,#3d4d8a 50%,#3f4889 53.3%,#414487 56.7%,#433e85 60%,#443a83 63.3%,#453781 66.7%,#463480 70%,#46327e 73.3%,#472e7c 76.7%,#482878 80%,#482374 83.3%,#481f70 86.7%,#481c6e 90%,#481a6c 93.3%,#48186a 96.7%,#481668 100%)"></i>
<i style="left:42.6px;width:3px;background:linear-gradient(#287c8e 0%,#297b8e 3.3%,#297a8e 6.7%,#2a788e 10%,#2a768e 13.3%,#2b748e 16.7%,#2c728e 20%,#2d718e 23.3%,#2e6f8e 26.7%,#2f6c8e 30%,#31688e 33.3%,#33638d 36.7%,#355e8d 40%,#375a8c 43.3%,#3a548c 46.7%,#3c4f8a 50%,#3e4989 53.3%,#404588 56.7%,#424086 60%,#443b84 63.3%,#453882 66.7%,#453581 70%,#46337f 73.3%,#472f7d 76.7%,#482979 80%,#482374 83.3%,#481f70 86.7%,#481c6e 90%,#481b6d 93.3%,#48186a 96.7%,#481769 100%)"></i>
<i style="left:44.9px;width:3px;background:linear-gradient(#26828e 0%,#26818e 3.3%,#27808e 6.7%,#277e8e 10%,#287c8e 13.3%,#29798e 16.7%,#2a768e 20%,#2b748e 23.3%,#2c718e 26.7%,#2e6f8e 30%,#2f6b8e 33.3%,#31668e 36.7%,#34618d 40%,#365c8d 43.3%,#39568c 46.7%,#3c508b 50%,#3e4c8a 53.3%,#404688 56.7%,#424186 60%,#433d84 63.3%,#443a83 66.7%,#453781 70%,#463480 73.3%,#46307e 76.7%,#472a7a 80%,#482475 83.3%,#482071 86.7%,#481d6f 90%,#481b6d 93.3%,#481a6c 96.7%,#481769 100%)"></i>
<i style="left:47.3px;width:3px;background:linear-gradient(#24878e 0%,#24868e 3.3%,#25858e 6.7%,#26828e 10%,#26818e 13.3%,#277e8e 16.7%,#297b8e 20%,#2a788e 23.3%,#2b758e 26.7%,#2c728e 30%,#2e6e8e 33.3%,#30698e 36.7%,#33638d 40%,#355e8d 43.3%,#38598c 46.7%,#3b528b 50%,#3d4d8a 53.3%,#3f4889 56.7%,#414287 60%,#423f85 63.3%,#443b84 66.7%,#443983 70%,#453581 73.3%,#46327e 76.7%,#472c7a 80%,#482576 83.3%,#482173 86.7%,#481f70 90%,#481c6e 93.3%,#481a6c 96.7%,#48186a 100%)"></i>
<i style="left:49.6px;width:3px;background:linear-gradient(#228c8d 0%,#228b8d 3.3%,#23898e 6.7%,#24878e 10%,#25848e 13.3%,#26828e 16.7%,#277f8e 20%,#287c8e 23.3%,#29798e 26.7%,#2b758e 30%,#2d718e 33.3%,#2f6c8e 36.7%,#31668e 40%,#34618d 43.3%,#375b8d 46.7%,#3a548c 50%,#3c4f8a 53.3%,#3e4989 56.7%,#404588 60%,#424086 63.3%,#433d84 66.7%,#443a83 70%,#453781 73.3%,#46337f 76.7%,#472d7b 80%,#482677 83.3%,#482173 86.7%,#481f70 90%,#481d6f 93.3%,#481b6d 96.7%,#48186a 100%)"></i>
<i style="left:52px;width:3px;background:linear-gradient(#21918c 0%,#218f8d 3.3%,#228d8d 6.7%,#228b8d 10%,#23888e 13.3%,#25858e 16.7%,#26828e 20%,#27808e 23.3%,#287c8e 26.7%,#29798e 30%,#2c738e 33.3%,#2e6e8e 36.7%,#30698e 40%,#32648e 43.3%,#365d8d 46.7%,#39568c 50%,#3b518b 53.3%,#3e4c8a 56.7%,#404688 60%,#414287 63.3%,#423f85 66.7%,#443b84 70%,#443983 73.3%,#463480 76.7%,#472e7c 80%,#482878 83.3%,#482475 86.7%,#482071 90%,#481f70 93.3%,#481c6e 96.7%,#481a6c 100%)"></i>
<i style="left:54.4px;width:3px;background:linear-gradient(#1f958b 0%,#20938c 3.3%,#20928c 6.7%,#218f8d 10%,#228d8d 13.3%,#23898e 16.7%,#24868e 20%,#26828e 23.3%,#27808e 26.7%,#287c8e 30%,#2a768e 33.3%,#2d718e 36.7%,#2f6c8e 40%,#31678e 43.3%,#34608d 46.7%,#38598c 50%,#3a538b 53.3%,#3d4e8a 56.7%,#3f4889 60%,#404588 63.3%,#424186 66.7%,#433e85 70%,#443a83 73.3%,#453781 76.7%,#472f7d 80%,#482979 83.3%,#482576 86.7%,#482173 90%,#481f70 93.3%,#481d6f 96.7%,#481a6c 100%)"></i>
<i style="left:56.7px;width:3px;background:linear-gradient(#1e9c89 0%,#1f9a8a 3.3%,#1f978b 6.7%,#1f948c 10%,#20928c 13.3%,#218e8d 16.7%,#228b8d 20%,#24878e 23.3%,#25838e 26.7%,#277f8e 30%,#297a8e 33.3%,#2b748e 36.7%,#2e6f8e 40%,#306a8e 43.3%,#33638d 46.7%,#365c8d 50%,#39558c 53.3%,#3c508b 56.7%,#3e4c8a 60%,#3f4788 63.3%,#414487 66.7%,#424186 70%,#433e85 73.3%,#453882 76.7%,#46327e 80%,#472c7a 83.3%,#482677 86.7%,#482374 90%,#482071 93.3%,#481d6f 96.7%,#481b6d 100%)"></i>
<i style="left:59.1px;width:3px;background:linear-gradient(#20a486 0%,#20a386 3.3%,#1fa287 6.7%,#1e9d89 10%,#1f978b 13.3%,#20938c 16.7%,#21908d 20%,#228c8d 23.3%,#23888e 26.7%,#25838e 30%,#277e8e 33.3%,#2a788e 36.7%,#2c728e 40%,#2e6d8e 43.3%,#31668e 46.7%,#355e8d 50%,#38598c 53.3%,#3a538b 56.7%,#3d4e8a 60%,#3e4989 63.3%,#404688 66.7%,#414487 70%,#424086 73.3%,#443b84 76.7%,#463480 80%,#472d7b 83.3%,#482878 86.7%,#482576 90%,#482173 93.3%,#481f70 96.7%,#481c6e 100%)"></i>
<i style="left:61.5px;width:3px;background:linear-gradient(#24aa83 0%,#24aa83 3.3%,#22a884 6.7%,#21a685 10%,#20a486 13.3%,#1fa187 16.7%,#1f988b 20%,#20928c 23.3%,#218f8d 26.7%,#238a8d 30%,#25838e 33.3%,#287d8e 36.7%,#2a768e 40%,#2d718e 43.3%,#30698e 46.7%,#34618d 50%,#375b8d 53.3%,#39558c 56.7%,#3b518b 60%,#3d4d8a 63.3%,#3e4989 66.7%,#404688 70%,#414287 73.3%,#433e85 76.7%,#453781 80%,#472f7d 83.3%,#472a7a 86.7%,#482677 90%,#482374 93.3%,#482071 96.7%,#481d6f 100%)"></i>
<i style="left:63.8px;width:3px;background:linear-gradient(#2db27d 0%,#2cb17e 3.3%,#2ab07f 6.7%,#28ae80 10%,#25ac82 13.3%,#23a983 16.7%,#21a585 20%,#1fa187 23.3%,#1f988b 26.7%,#20928c 30%,#228c8d 33.3%,#25838e 36.7%,#287c8e 40%,#2b758e 43.3%,#2e6d8e 46.7%,#32648e 50%,#355e8d 53.3%,#38598c 56.7%,#3a548c 60%,#3c508b 63.3%,#3d4d8a 66.7%,#3e4989 70%,#404688 73.3%,#424186 76.7%,#443983 80%,#46327e 83.3%,#472d7b 86.7%,#482878 90%,#482576 93.3%,#482173 96.7%,#481d6f 100%)"></i>
<i style="left:66.2px;width:3px;background:linear-gradient(#3bbb75 0%,#3aba76 3.3%,#37b878 6.7%,#34b679 10%,#2fb47c 13.3%,#2cb17e 16.7%,#27ad81 20%,#24aa83 23.3%,#21a685 26.7%,#1fa187 30%,#1f978b 33.3%,#218e8d 36.7%,#25838e 40%,#297a8e 43.3%,#2d718e 46.7%,#31688e 50%,#34618d 53.3%,#365c8d 56.7%,#38588c 60%,#3a538b 63.3%,#3c4f8a 66.7%,#3d4d8a 70%,#3e4989 73.3%,#414487 76.7%,#443b84 80%,#463480 83.3%,#472e7c 86.7%,#472a7a 90%,#482677 93.3%,#482374 96.7%,#481f70 100%)"></i>
<i style="left:68.6px;width:3px;background:linear-gradient(#4cc26c 0%,#4ac16d 3.3%,#46c06f 6.7%,#42be71 10%,#3dbc74 13.3%,#38b977 16.7%,#32b67a 20%,#2db27d 23.3%,#28ae80 26.7%,#24aa83 30%,#20a486 33.3%,#1e9c89 36.7%,#218f8d 40%,#26828e 43.3%,#2b758e 46.7%,#2f6c8e 50%,#32648e 53.3%,#355f8d 56.7%,#375b8d 60%,#39558c 63.3%,#3b528b 66.7%,#3c4f8a 70%,#3d4d8a 73.3%,#3f4788 76.7%,#423f85 80%,#453781 83.3%,#46307e 86.7%,#472c7a 90%,#482878 93.3%,#482475 96.7%,#482071 100%)"></i>
<i style="left:70.9px;width:3px;background:linear-gradient(#5cc863 0%,#5ac864 3.3%,#56c667 6.7%,#52c569 10%,#4cc26c 13.3%,#46c06f 16.7%,#40bd72 20%,#3aba76 23.3%,#34b679 26.7%,#2db27d 30%,#26ad81 33.3%,#21a585 36.7%,#1e9d89 40%,#228b8d 43.3%,#297a8e 46.7%,#2d708e 50%,#31678e 53.3%,#33628d 56.7%,#355e8d 60%,#38598c 63.3%,#39558c 66.7%,#3b528b 70%,#3c4f8a 73.3%,#3e4a89 76.7%,#424186 80%,#443983 83.3%,#46337f 86.7%,#472e7c 90%,#482979 93.3%,#482576 96.7%,#482173 100%)"></i>
<i style="left:73.3px;width:3px;background:linear-gradient(#6ece58 0%,#6ccd5a 3.3%,#69cd5b 6.7%,#63cb5f 10%,#5cc863 13.3%,#56c667 16.7%,#50c46a 20%,#48c16e 23.3%,#40bd72 26.7%,#3aba76 30%,#31b57b 33.3%,#27ad81 36.7%,#21a585 40%,#1f988b 43.3%,#26828e 46.7%,#2c738e 50%,#2f6b8e 53.3%,#32658e 56.7%,#34608d 60%,#365c8d 63.3%,#38588c 66.7%,#3a548c 70%,#3b518b 73.3%,#3d4d8a 76.7%,#404588 80%,#443b84 83.3%,#453581 86.7%,#472f7d 90%,#472a7a 93.3%,#482677 96.7%,#482374 100%)"></i>
<i style="left:75.7px;width:3px;background:linear-gradient(#84d44b 0%,#81d34d 3.3%,#7cd250 6.7%,#77d153 10%,#70cf57 13.3%,#69cd5b 16.7%,#60ca60 20%,#58c765 23.3%,#50c46a 26.7%,#4ac16d 30%,#40bd72 33.3%,#35b779 36.7%,#27ad81 40%,#1fa287 43.3%,#238a8d 46.7%,#29798e 50%,#2e6f8e 53.3%,#31688e 56.7%,#33638d 60%,#355f8d 63.3%,#375b8d 66.7%,#38588c 70%,#3a538b 73.3%,#3c508b 76.7%,#3f4788 80%,#433e85 83.3%,#453882 86.7%,#46327e 90%,#472d7b 93.3%,#482878 96.7%,#482475 100%)"></i>
<i style="left:78px;width:3px;background:linear-gradient(#95d840 0%,#95d840 3.3%,#90d743 6.7%,#8bd646 10%,#86d549 13.3%,#7cd250 16.7%,#75d054 20%,#6ccd5a 23.3%,#63cb5f 26.7%,#5ac864 30%,#52c569 33.3%,#48c16e 36.7%,#37b878 40%,#24aa83 43.3%,#1f958b 46.7%,#277f8e 50%,#2c738e 53.3%,#2f6c8e 56.7%,#31668e 60%,#33628d 63.3%,#365d8d 66.7%,#38598c 70%,#39558c 73.3%,#3b528b 76.7%,#3e4a89 80%,#424086 83.3%,#443983 86.7%,#46337f 90%,#472e7c 93.3%,#482979 96.7%,#482576 100%)"></i>
<i style="left:80.4px;width:3px;background:linear-gradient(#aadc32 0%,#a8db34 3.3%,#a5db36 6.7%,#a0da39 10%,#98d83e 13.3%,#90d743 16.7%,#89d548 20%,#7fd34e 23.3%,#75d054 26.7%,#6ccd5a 30%,#63cb5f 33.3%,#5ac864 36.7%,#4cc26c 40%,#31b57b 43.3%,#1fa187 46.7%,#24868e 50%,#2a788e 53.3%,#2e6f8e 56.7%,#31688e 60%,#32648e 63.3%,#355f8d 66.7%,#375b8d 70%,#38588c 73.3%,#3a538b 76.7%,#3d4d8a 80%,#414487 83.3%,#433d84 86.7%,#453581 90%,#472f7d 93.3%,#472a7a 96.7%,#482677 100%)"></i>
<i style="left:82.8px;width:3px;background:linear-gradient(#c0df25 0%,#c0df25 3.3%,#bade28 6.7%,#b5de2b 10%,#addc30 13.3%,#a5db36 16.7%,#9bd93c 20%,#93d741 23.3%,#89d548 26.7%,#7fd34e 30%,#75d054 33.3%,#69cd5b 36.7%,#5ec962 40%,#46c06f 43.3%,#22a884 46.7%,#21908d 50%,#277e8e 53.3%,#2c738e 56.7%,#2f6b8e 60%,#31668e 63.3%,#34618d 66.7%,#365d8d 70%,#38598c 73.3%,#39558c 76.7%,#3c508b 80%,#3f4788 83.3%,#423f85 86.7%,#453882 90%,#46327e 93.3%,#472d7b 96.7%,#482878 100%)"></i>
<i style="left:85.1px;width:3px;background:linear-gradient(#d5e21a 0%,#d5e21a 3.3%,#d0e11c 6.7%,#c8e020 10%,#c2df23 13.3%,#bade28 16.7%,#b0dd2f 20%,#a5db36 23.3%,#9dd93b 26.7%,#93d741 30%,#86d549 33.3%,#7ad151 36.7%,#6ccd5a 40%,#5cc863 43.3%,#2fb47c 46.7%,#1e9b8a 50%,#25848e 53.3%,#2a788e 56.7%,#2e6f8e 60%,#31688e 63.3%,#32648e 66.7%,#355f8d 70%,#375b8d 73.3%,#38588c 76.7%,#3b528b 80%,#3e4989 83.3%,#414287 86.7%,#443a83 90%,#46337f 93.3%,#472e7c 96.7%,#482979 100%)"></i>
<i style="left:87.5px;width:3px;background:linear-gradient(#e7e419 0%,#e2e418 3.3%,#dae319 6.7%,#d5e21a 10%,#d0e11c 13.3%,#c8e020 16.7%,#c0df25 20%,#b8de29 23.3%,#b0dd2f 26.7%,#a5db36 30%,#95d840 33.3%,#89d548 36.7%,#7ad151 40%,#6ccd5a 43.3%,#46c06f 46.7%,#1fa287 50%,#228d8d 53.3%,#277e8e 56.7%,#2c728e 60%,#2f6b8e 63.3%,#31668e 66.7%,#34618d 70%,#365d8d 73.3%,#375a8c 76.7%,#3a548c 80%,#3d4d8a 83.3%,#404588 86.7%,#433d84 90%,#453581 93.3%,#472f7d 96.7%,#472a7a 100%)"></i>
<i style="left:89.8px;width:3px;background:linear-gradient(#ece51b 0%,#e5e419 3.3%,#dfe318 6.7%,#d8e219 10%,#d2e21b 13.3%,#cae11f 16.7%,#c5e021 20%,#bddf26 23.3%,#b8de29 26.7%,#b2dd2d 30%,#a5db36 33.3%,#95d840 36.7%,#86d549 40%,#77d153 43.3%,#5ec962 46.7%,#26ad81 50%,#1f978b 53.3%,#25858e 56.7%,#2a768e 60%,#2e6e8e 63.3%,#31688e 66.7%,#33638d 70%,#355f8d 73.3%,#375b8d 76.7%,#39568c 80%,#3c508b 83.3%,#3f4889 86.7%,#423f85 90%,#453781 93.3%,#46307e 96.7%,#472c7a 100%)"></i>
<i style="left:92.2px;width:3px;background:linear-gradient(#eae51a 0%,#e5e419 3.3%,#dde318 6.7%,#d8e219 10%,#d0e11c 13.3%,#cae11f 16.7%,#c2df23 20%,#bddf26 23.3%,#b8de29 26.7%,#b0dd2f 30%,#a8db34 33.3%,#9dd93b 36.7%,#90d743 40%,#81d34d 43.3%,#6ccd5a 46.7%,#3aba76 50%,#1fa188 53.3%,#218e8d 56.7%,#277e8e 60%,#2c718e 63.3%,#2f6b8e 66.7%,#31668e 70%,#34618d 73.3%,#365d8d 76.7%,#38598c 80%,#3a538b 83.3%,#3e4c8a 86.7%,#414287 90%,#443983 93.3%,#46337f 96.7%,#472e7c 100%)"></i>
<i style="left:94.6px;width:3px;background:linear-gradient(#e7e419 0%,#e2e418 3.3%,#dae319 6.7%,#d2e21b 10%,#cde11d 13.3%,#c5e021 16.7%,#c0df25 20%,#bade28 23.3%,#b2dd2d 26.7%,#addc30 30%,#a5db36 33.3%,#9dd93b 36.7%,#93d741 40%,#89d548 43.3%,#75d054 46.7%,#54c568 50%,#23a983 53.3%,#1f988b 56.7%,#24878e 60%,#2a778e 63.3%,#2e6f8e 66.7%,#31688e 70%,#32648e 73.3%,#34608d 76.7%,#365c8d 80%,#39558c 83.3%,#3c508b 86.7%,#404588 90%,#443b84 93.3%,#463480 96.7%,#472f7d 100%)"></i>
<i style="left:96.9px;width:3px;background:linear-gradient(#e5e419 0%,#dde318 3.3%,#d8e219 6.7%,#d0e11c 10%,#cae11f 13.3%,#c2df23 16.7%,#bddf26 20%,#b5de2b 23.3%,#b0dd2f 26.7%,#a8db34 30%,#a2da37 33.3%,#9bd93c 36.7%,#93d741 40%,#89d548 43.3%,#7cd250 46.7%,#69cd5b 50%,#32b67a 53.3%,#1fa187 56.7%,#21918c 60%,#277f8e 63.3%,#2c728e 66.7%,#2f6c8e 70%,#31668e 73.3%,#33628d 76.7%,#355e8d 80%,#38598c 83.3%,#3a538b 86.7%,#3f4889 90%,#433d84 93.3%,#453781 96.7%,#46307e 100%)"></i>
<i style="left:99.3px;width:3px;background:linear-gradient(#dfe318 0%,#dae319 3.3%,#d2e21b 6.7%,#cde11d 10%,#c5e021 13.3%,#c0df25 16.7%,#bade28 20%,#b2dd2d 23.3%,#aadc32 26.7%,#a5db36 30%,#a0da39 33.3%,#98d83e 36.7%,#90d743 40%,#89d548 43.3%,#81d34d 46.7%,#6ece58 50%,#4ec36b 53.3%,#24aa83 56.7%,#1e9c89 60%,#238a8d 63.3%,#29798e 66.7%,#2e6f8e 70%,#30698e 73.3%,#32648e 76.7%,#34608d 80%,#365c8d 83.3%,#39568c 86.7%,#3e4c8a 90%,#423f85 93.3%,#453882 96.7%,#46337f 100%)"></i>
<i style="left:101.7px;width:3px;background:linear-gradient(#dde318 0%,#d5e21a 3.3%,#d0e11c 6.7%,#cae11f 10%,#c2df23 13.3%,#bddf26 16.7%,#b5de2b 20%,#b0dd2f 23.3%,#a8db34 26.7%,#a2da37 30%,#9bd93c 33.3%,#95d840 36.7%,#8ed645 40%,#89d548 43.3%,#81d34d 46.7%,#75d054 50%,#65cb5e 53.3%,#32b67a 56.7%,#20a386 60%,#1f958b 63.3%,#26828e 66.7%,#2b748e 70%,#2e6d8e 73.3%,#31678e 76.7%,#33638d 80%,#355f8d 83.3%,#375a8c 86.7%,#3c4f8a 90%,#424186 93.3%,#443a83 96.7%,#463480 100%)"></i>
<i style="left:104px;width:3px;background:linear-gradient(#d5e21a 0%,#d0e11c 3.3%,#cae11f 6.7%,#c5e021 10%,#c0df25 13.3%,#bade28 16.7%,#b2dd2d 20%,#addc30 23.3%,#a5db36 26.7%,#a0da39 30%,#98d83e 33.3%,#93d741 36.7%,#8ed645 40%,#86d549 43.3%,#81d34d 46.7%,#77d153 50%,#6ece58 53.3%,#48c16e 56.7%,#25ab82 60%,#1fa088 63.3%,#218e8d 66.7%,#297b8e 70%,#2d718e 73.3%,#306a8e 76.7%,#32658e 80%,#34618d 83.3%,#365d8d 86.7%,#3b518b 90%,#414487 93.3%,#443b84 96.7%,#453781 100%)"></i>
<i style="left:106.4px;width:3px;background:linear-gradient(#d0e11c 0%,#cae11f 3.3%,#c5e021 6.7%,#c0df25 10%,#bddf26 13.3%,#b8de29 16.7%,#b0dd2f 20%,#aadc32 23.3%,#a5db36 26.7%,#9dd93b 30%,#95d840 33.3%,#90d743 36.7%,#8bd646 40%,#86d549 43.3%,#7fd34e 46.7%,#77d153 50%,#6ece58 53.3%,#5cc863 56.7%,#2eb37c 60%,#21a585 63.3%,#1f998a 66.7%,#25848e 70%,#2b748e 73.3%,#2e6d8e 76.7%,#31678e 80%,#32648e 83.3%,#34608d 86.7%,#3a548c 90%,#404688 93.3%,#433e85 96.7%,#453882 100%)"></i>
<i style="left:108.8px;width:3px;background:linear-gradient(#c8e020 0%,#c5e021 3.3%,#c0df25 6.7%,#bddf26 10%,#b8de29 13.3%,#b2dd2d 16.7%,#addc30 20%,#a8db34 23.3%,#a2da37 26.7%,#9bd93c 30%,#95d840 33.3%,#8ed645 36.7%,#89d548 40%,#84d44b 43.3%,#7fd34e 46.7%,#77d153 50%,#6ece58 53.3%,#63cb5f 56.7%,#3bbb75 60%,#25ab82 63.3%,#1fa187 66.7%,#21918c 70%,#297b8e 73.3%,#2d718e 76.7%,#306a8e 80%,#31668e 83.3%,#33638d 86.7%,#39568c 90%,#3f4889 93.3%,#424086 96.7%,#443a83 100%)"></i>
<i style="left:111.1px;width:3px;background:linear-gradient(#c2df23 0%,#c0df25 3.3%,#bddf26 6.7%,#b8de29 10%,#b5de2b 13.3%,#b0dd2f 16.7%,#aadc32 20%,#a5db36 23.3%,#a0da39 26.7%,#98d83e 30%,#93d741 33.3%,#8bd646 36.7%,#86d549 40%,#81d34d 43.3%,#7fd34e 46.7%,#77d153 50%,#6ece58 53.3%,#63cb5f 56.7%,#48c16e 60%,#2ab07f 63.3%,#21a685 66.7%,#1e9c89 70%,#25848e 73.3%,#2b748e 76.7%,#2f6c8e 80%,#30698e 83.3%,#32658e 86.7%,#375a8c 90%,#3e4c8a 93.3%,#414287 96.7%,#433d84 100%)"></i>
<i style="left:113.5px;width:3px;background:linear-gradient(#c0df25 0%,#bddf26 3.3%,#b8de29 6.7%,#b5de2b 10%,#b0dd2f 13.3%,#addc30 16.7%,#a8db34 20%,#a2da37 23.3%,#9dd93b 26.7%,#98d83e 30%,#90d743 33.3%,#89d548 36.7%,#84d44b 40%,#7fd34e 43.3%,#7cd250 46.7%,#77d153 50%,#6ece58 53.3%,#63cb5f 56.7%,#4ec36b 60%,#32b67a 63.3%,#24aa83 66.7%,#1fa188 70%,#21918c 73.3%,#29798e 76.7%,#2e6f8e 80%,#2f6b8e 83.3%,#31678e 86.7%,#365c8d 90%,#3d4e8a 93.3%,#404688 96.7%,#423f85 100%)"></i>
<i style="left:115.8px;width:3px;background:linear-gradient(#bade28 0%,#b8de29 3.3%,#b5de2b 6.7%,#b2dd2d 10%,#addc30 13.3%,#aadc32 16.7%,#a5db36 20%,#a0da39 23.3%,#9bd93c 26.7%,#95d840 30%,#8ed645 33.3%,#86d549 36.7%,#81d34d 40%,#7cd250 43.3%,#7ad151 46.7%,#77d153 50%,#6ece58 53.3%,#63cb5f 56.7%,#52c569 60%,#3aba76 63.3%,#28ae80 66.7%,#20a486 70%,#1f998a 73.3%,#26818e 76.7%,#2c718e 80%,#2e6d8e 83.3%,#306a8e 86.7%,#355f8d 90%,#3b518b 93.3%,#3f4889 96.7%,#414287 100%)"></i>
<i style="left:118.2px;width:3px;background:linear-gradient(#b8de29 0%,#b5de2b 3.3%,#b2dd2d 6.7%,#b0dd2f 10%,#aadc32 13.3%,#a8db34 16.7%,#a2da37 20%,#9dd93b 23.3%,#98d83e 26.7%,#93d741 30%,#8bd646 33.3%,#86d549 36.7%,#7fd34e 40%,#7ad151 43.3%,#7ad151 46.7%,#77d153 50%,#6ece58 53.3%,#63cb5f 56.7%,#54c568 60%,#42be71 63.3%,#2eb37c 66.7%,#23a983 70%,#1f9e89 73.3%,#228b8d 76.7%,#2b748e 80%,#2e6f8e 83.3%,#2f6c8e 86.7%,#33628d 90%,#3a548c 93.3%,#3e4c8a 96.7%,#404688 100%)"></i>
<i style="left:120.6px;width:3px;background:linear-gradient(#b5de2b 0%,#b2dd2d 3.3%,#b0dd2f 6.7%,#addc30 10%,#a8db34 13.3%,#a5db36 16.7%,#a0da39 20%,#9bd93c 23.3%,#95d840 26.7%,#90d743 30%,#8bd646 33.3%,#84d44b 36.7%,#7fd34e 40%,#7ad151 43.3%,#77d153 46.7%,#75d054 50%,#6ece58 53.3%,#63cb5f 56.7%,#54c568 60%,#46c06f 63.3%,#35b779 66.7%,#27ad81 70%,#1fa287 73.3%,#20938c 76.7%,#2a788e 80%,#2d718e 83.3%,#2e6e8e 86.7%,#32648e 90%,#38588c 93.3%,#3c4f8a 96.7%,#3e4989 100%)"></i>
<i style="left:122.9px;width:3px;background:linear-gradient(#b2dd2d 0%,#b0dd2f 3.3%,#addc30 6.7%,#aadc32 10%,#a5db36 13.3%,#a2da37 16.7%,#9dd93b 20%,#98d83e 23.3%,#95d840 26.7%,#8ed645 30%,#89d548 33.3%,#81d34d 36.7%,#7cd250 40%,#77d153 43.3%,#75d054 46.7%,#73d056 50%,#6ece58 53.3%,#63cb5f 56.7%,#54c568 60%,#48c16e 63.3%,#3bbb75 66.7%,#2cb17e 70%,#21a685 73.3%,#1f988b 76.7%,#277e8e 80%,#2c728e 83.3%,#2d708e 86.7%,#31678e 90%,#375b8d 93.3%,#3a538b 96.7%,#3d4d8a 100%)"></i>
<i style="left:125.3px;width:3px;background:linear-gradient(#b0dd2f 0%,#addc30 3.3%,#aadc32 6.7%,#a8db34 10%,#a2da37 13.3%,#a0da39 16.7%,#9bd93c 20%,#95d840 23.3%,#93d741 26.7%,#8ed645 30%,#86d549 33.3%,#81d34d 36.7%,#7ad151 40%,#75d054 43.3%,#73d056 46.7%,#73d056 50%,#6ece58 53.3%,#63cb5f 56.7%,#56c667 60%,#48c16e 63.3%,#3dbc74 66.7%,#31b57b 70%,#24aa83 73.3%,#1e9c89 76.7%,#25848e 80%,#2b758e 83.3%,#2c718e 86.7%,#30698e 90%,#355f8d 93.3%,#39568c 96.7%,#3c508b 100%)"></i>
<i style="left:127.7px;width:3px;background:linear-gradient(#addc30 0%,#aadc32 3.3%,#a8db34 6.7%,#a5db36 10%,#a0da39 13.3%,#9dd93b 16.7%,#98d83e 20%,#95d840 23.3%,#90d743 26.7%,#8bd646 30%,#86d549 33.3%,#7fd34e 36.7%,#7ad151 40%,#75d054 43.3%,#73d056 46.7%,#70cf57 50%,#6ccd5a 53.3%,#63cb5f 56.7%,#56c667 60%,#4ac16d 63.3%,#3fbc73 66.7%,#35b779 70%,#27ad81 73.3%,#1fa088 76.7%,#228b8d 80%,#2a788e 83.3%,#2c738e 86.7%,#2f6c8e 90%,#33628d 93.3%,#375a8c 96.7%,#3a538b 100%)"></i>
<i style="left:130px;width:3px;background:linear-gradient(#aadc32 0%,#a8db34 3.3%,#a5db36 6.7%,#a2da37 10%,#9dd93b 13.3%,#9bd93c 16.7%,#95d840 20%,#93d741 23.3%,#8ed645 26.7%,#89d548 30%,#84d44b 33.3%,#7cd250 36.7%,#77d153 40%,#73d056 43.3%,#70cf57 46.7%,#6ece58 50%,#6ccd5a 53.3%,#63cb5f 56.7%,#56c667 60%,#4ac16d 63.3%,#40bd72 66.7%,#37b878 70%,#2cb17e 73.3%,#20a386 76.7%,#218f8d 80%,#287c8e 83.3%,#2b758e 86.7%,#2e6e8e 90%,#32658e 93.3%,#355e8d 96.7%,#39568c 100%)"></i>
<i style="left:132.4px;width:3px;background:linear-gradient(#a8db34 0%,#a5db36 3.3%,#a2da37 6.7%,#a0da39 10%,#9bd93c 13.3%,#98d83e 16.7%,#95d840 20%,#90d743 23.3%,#8bd646 26.7%,#86d549 30%,#81d34d 33.3%,#7cd250 36.7%,#75d054 40%,#70cf57 43.3%,#6ece58 46.7%,#6ece58 50%,#69cd5b 53.3%,#63cb5f 56.7%,#56c667 60%,#4ac16d 63.3%,#40bd72 66.7%,#3aba76 70%,#2eb37c 73.3%,#22a785 76.7%,#20928c 80%,#27808e 83.3%,#2a778e 86.7%,#2d708e 90%,#31688e 93.3%,#34618d 96.7%,#375a8c 100%)"></i>
<i style="left:134.8px;width:3px;background:linear-gradient(#a5db36 0%,#a2da37 3.3%,#a0da39 6.7%,#9dd93b 10%,#98d83e 13.3%,#95d840 16.7%,#93d741 20%,#8ed645 23.3%,#89d548 26.7%,#86d549 30%,#7fd34e 33.3%,#7ad151 36.7%,#75d054 40%,#70cf57 43.3%,#6ece58 46.7%,#6ccd5a 50%,#69cd5b 53.3%,#60ca60 56.7%,#56c667 60%,#4cc26c 63.3%,#42be71 66.7%,#3aba76 70%,#31b57b 73.3%,#24aa83 76.7%,#1f968b 80%,#25838e 83.3%,#2a788e 86.7%,#2c718e 90%,#306a8e 93.3%,#33638d 96.7%,#365c8d 100%)"></i>
<i style="left:137.1px;width:3px;background:linear-gradient(#a0da39 0%,#a0da39 3.3%,#9dd93b 6.7%,#9bd93c 10%,#95d840 13.3%,#93d741 16.7%,#90d743 20%,#8bd646 23.3%,#89d548 26.7%,#84d44b 30%,#7fd34e 33.3%,#77d153 36.7%,#73d056 40%,#6ece58 43.3%,#6ccd5a 46.7%,#69cd5b 50%,#67cc5c 53.3%,#60ca60 56.7%,#56c667 60%,#4cc26c 63.3%,#42be71 66.7%,#3aba76 70%,#32b67a 73.3%,#27ad81 76.7%,#1f9a8a 80%,#25858e 83.3%,#297b8e 86.7%,#2c738e 90%,#2f6c8e 93.3%,#31668e 96.7%,#355f8d 100%)"></i>
<i style="left:139.5px;width:3px;background:linear-gradient(#9dd93b 0%,#9bd93c 3.3%,#9bd93c 6.7%,#98d83e 10%,#93d741 13.3%,#90d743 16.7%,#8ed645 20%,#89d548 23.3%,#86d549 26.7%,#81d34d 30%,#7cd250 33.3%,#77d153 36.7%,#73d056 40%,#6ece58 43.3%,#6ccd5a 46.7%,#69cd5b 50%,#65cb5e 53.3%,#60ca60 56.7%,#56c667 60%,#4cc26c 63.3%,#42be71 66.7%,#3aba76 70%,#34b679 73.3%,#29af7f 76.7%,#1f9f88 80%,#23888e 83.3%,#287d8e 86.7%,#2b758e 90%,#2e6e8e 93.3%,#31688e 96.7%,#34618d 100%)"></i>
<i style="left:141.9px;width:3px;background:linear-gradient(#9bd93c 0%,#98d83e 3.3%,#95d840 6.7%,#95d840 10%,#90d743 13.3%,#8ed645 16.7%,#8bd646 20%,#89d548 23.3%,#84d44b 26.7%,#7fd34e 30%,#7ad151 33.3%,#75d054 36.7%,#70cf57 40%,#6ccd5a 43.3%,#69cd5b 46.7%,#67cc5c 50%,#63cb5f 53.3%,#5ec962 56.7%,#56c667 60%,#4cc26c 63.3%,#42be71 66.7%,#3aba76 70%,#34b679 73.3%,#2ab07f 76.7%,#1fa287 80%,#228c8d 83.3%,#277f8e 86.7%,#2a768e 90%,#2d708e 93.3%,#306a8e 96.7%,#33638d 100%)"></i>
<i style="left:144.2px;width:3px;background:linear-gradient(#98d83e 0%,#95d840 3.3%,#93d741 6.7%,#90d743 10%,#8ed645 13.3%,#8bd646 16.7%,#89d548 20%,#86d549 23.3%,#81d34d 26.7%,#7fd34e 30%,#7ad151 33.3%,#75d054 36.7%,#6ece58 40%,#6ccd5a 43.3%,#67cc5c 46.7%,#65cb5e 50%,#63cb5f 53.3%,#5cc863 56.7%,#56c667 60%,#4cc26c 63.3%,#42be71 66.7%,#3aba76 70%,#32b67a 73.3%,#2cb17e 76.7%,#21a585 80%,#21918c 83.3%,#26828e 86.7%,#2a788e 90%,#2c718e 93.3%,#2f6b8e 96.7%,#32648e 100%)"></i>
<i style="left:146.6px;width:3px;background:linear-gradient(#95d840 0%,#93d741 3.3%,#90d743 6.7%,#8ed645 10%,#8bd646 13.3%,#89d548 16.7%,#86d549 20%,#84d44b 23.3%,#81d34d 26.7%,#7cd250 30%,#77d153 33.3%,#73d056 36.7%,#6ece58 40%,#69cd5b 43.3%,#67cc5c 46.7%,#65cb5e 50%,#60ca60 53.3%,#5cc863 56.7%,#54c568 60%,#4cc26c 63.3%,#42be71 66.7%,#3aba76 70%,#32b67a 73.3%,#2ab07f 76.7%,#22a884 80%,#1f958b 83.3%,#25858e 86.7%,#297a8e 90%,#2c728e 93.3%,#2f6c8e 96.7%,#31668e 100%)"></i>
<i style="left:148.9px;width:3px;background:linear-gradient(#90d743 0%,#90d743 3.3%,#8ed645 6.7%,#8bd646 10%,#8bd646 13.3%,#86d549 16.7%,#84d44b 20%,#81d34d 23.3%,#7fd34e 26.7%,#7ad151 30%,#77d153 33.3%,#73d056 36.7%,#6ccd5a 40%,#67cc5c 43.3%,#65cb5e 46.7%,#63cb5f 50%,#60ca60 53.3%,#5ac864 56.7%,#54c568 60%,#4cc26c 63.3%,#42be71 66.7%,#3aba76 70%,#32b67a 73.3%,#2ab07f 76.7%,#23a983 80%,#1f9a8a 83.3%,#238a8d 86.7%,#287d8e 90%,#2b748e 93.3%,#2e6e8e 96.7%,#31678e 100%)"></i>
<i style="left:151.3px;width:3px;background:linear-gradient(#8ed645 0%,#8ed645 3.3%,#8bd646 6.7%,#89d548 10%,#89d548 13.3%,#86d549 16.7%,#84d44b 20%,#7fd34e 23.3%,#7cd250 26.7%,#7ad151 30%,#75d054 33.3%,#70cf57 36.7%,#6ccd5a 40%,#67cc5c 43.3%,#63cb5f 46.7%,#60ca60 50%,#5ec962 53.3%,#5ac864 56.7%,#54c568 60%,#4cc26c 63.3%,#42be71 66.7%,#38b977 70%,#31b57b 73.3%,#2ab07f 76.7%,#23a983 80%,#1f9e89 83.3%,#218e8d 86.7%,#27808e 90%,#2b758e 93.3%,#2e6f8e 96.7%,#30698e 100%)"></i>
<i style="left:153.7px;width:3px;background:linear-gradient(#8bd646 0%,#8bd646 3.3%,#89d548 6.7%,#86d549 10%,#86d549 13.3%,#84d44b 16.7%,#81d34d 20%,#7fd34e 23.3%,#7ad151 26.7%,#77d153 30%,#73d056 33.3%,#6ece58 36.7%,#69cd5b 40%,#65cb5e 43.3%,#63cb5f 46.7%,#60ca60 50%,#5cc863 53.3%,#58c765 56.7%,#52c569 60%,#4ac16d 63.3%,#40bd72 66.7%,#38b977 70%,#31b57b 73.3%,#29af7f 76.7%,#23a983 80%,#1fa088 83.3%,#20928c 86.7%,#26828e 90%,#2a778e 93.3%,#2d708e 96.7%,#306a8e 100%)"></i>
<i style="left:156px;width:3px;background:linear-gradient(#89d548 0%,#89d548 3.3%,#86d549 6.7%,#86d549 10%,#84d44b 13.3%,#81d34d 16.7%,#7fd34e 20%,#7cd250 23.3%,#7ad151 26.7%,#75d054 30%,#73d056 33.3%,#6ece58 36.7%,#69cd5b 40%,#65cb5e 43.3%,#60ca60 46.7%,#5ec962 50%,#5cc863 53.3%,#58c765 56.7%,#52c569 60%,#4ac16d 63.3%,#40bd72 66.7%,#37b878 70%,#2fb47c 73.3%,#29af7f 76.7%,#23a983 80%,#1fa088 83.3%,#1f948c 86.7%,#25858e 90%,#2a788e 93.3%,#2d718e 96.7%,#2f6c8e 100%)"></i>
<i style="left:158.4px;width:3px;background:linear-gradient(#86d549 0%,#86d549 3.3%,#84d44b 6.7%,#84d44b 10%,#81d34d 13.3%,#7fd34e 16.7%,#7cd250 20%,#7ad151 23.3%,#77d153 26.7%,#75d054 30%,#70cf57 33.3%,#6ccd5a 36.7%,#67cc5c 40%,#63cb5f 43.3%,#60ca60 46.7%,#5cc863 50%,#5ac864 53.3%,#56c667 56.7%,#50c46a 60%,#4ac16d 63.3%,#3fbc73 66.7%,#37b878 70%,#2eb37c 73.3%,#28ae80 76.7%,#23a983 80%,#1fa188 83.3%,#1f958b 86.7%,#24878e 90%,#29798e 93.3%,#2c718e 96.7%,#2e6d8e 100%)"></i>
<i style="left:160.8px;width:3px;background:linear-gradient(#84d44b 0%,#84d44b 3.3%,#84d44b 6.7%,#81d34d 10%,#7fd34e 13.3%,#7cd250 16.7%,#7ad151 20%,#77d153 23.3%,#75d054 26.7%,#73d056 30%,#70cf57 33.3%,#6ccd5a 36.7%,#67cc5c 40%,#63cb5f 43.3%,#5ec962 46.7%,#5cc863 50%,#58c765 53.3%,#54c568 56.7%,#50c46a 60%,#48c16e 63.3%,#3fbc73 66.7%,#35b779 70%,#2db27d 73.3%,#28ae80 76.7%,#23a983 80%,#1fa188 83.3%,#1f968b 86.7%,#23888e 90%,#297a8e 93.3%,#2c728e 96.7%,#2e6e8e 100%)"></i>
<i style="left:163.1px;width:3px;background:linear-gradient(#84d44b 0%,#81d34d 3.3%,#81d34d 6.7%,#7fd34e 10%,#7cd250 13.3%,#7ad151 16.7%,#7ad151 20%,#77d153 23.3%,#75d054 26.7%,#70cf57 30%,#6ece58 33.3%,#69cd5b 36.7%,#67cc5c 40%,#63cb5f 43.3%,#5cc863 46.7%,#5ac864 50%,#56c667 53.3%,#54c568 56.7%,#4ec36b 60%,#48c16e 63.3%,#3dbc74 66.7%,#34b679 70%,#2cb17e 73.3%,#27ad81 76.7%,#23a983 80%,#1fa187 83.3%,#1f968b 86.7%,#23888e 90%,#297b8e 93.3%,#2c738e 96.7%,#2e6f8e 100%)"></i>
<i style="left:165.5px;width:3px;background:linear-gradient(#81d34d 0%,#7fd34e 3.3%,#7fd34e 6.7%,#7cd250 10%,#7ad151 13.3%,#7ad151 16.7%,#77d153 20%,#75d054 23.3%,#73d056 26.7%,#70cf57 30%,#6ccd5a 33.3%,#69cd5b 36.7%,#65cb5e 40%,#60ca60 43.3%,#5cc863 46.7%,#58c765 50%,#56c667 53.3%,#52c569 56.7%,#4ec36b 60%,#46c06f 63.3%,#3dbc74 66.7%,#32b67a 70%,#2ab07f 73.3%,#26ad81 76.7%,#22a884 80%,#1fa187 83.3%,#1f978b 86.7%,#23898e 90%,#287c8e 93.3%,#2b748e 96.7%,#2d708e 100%)"></i>
<i style="left:167.9px;width:3px;background:linear-gradient(#7fd34e 0%,#7cd250 3.3%,#7cd250 6.7%,#7ad151 10%,#7ad151 13.3%,#77d153 16.7%,#75d054 20%,#73d056 23.3%,#70cf57 26.7%,#6ece58 30%,#6ccd5a 33.3%,#67cc5c 36.7%,#65cb5e 40%,#60ca60 43.3%,#5ac864 46.7%,#56c667 50%,#54c568 53.3%,#50c46a 56.7%,#4cc26c 60%,#46c06f 63.3%,#3bbb75 66.7%,#31b57b 70%,#29af7f 73.3%,#25ab82 76.7%,#22a884 80%,#1fa187 83.3%,#1f978b 86.7%,#23898e 90%,#287c8e 93.3%,#2b748e 96.7%,#2d718e 100%)"></i>
<i style="left:170.2px;width:3px;background:linear-gradient(#7cd250 0%,#7cd250 3.3%,#7ad151 6.7%,#7ad151 10%,#77d153 13.3%,#75d054 16.7%,#73d056 20%,#70cf57 23.3%,#6ece58 26.7%,#6ccd5a 30%,#69cd5b 33.3%,#67cc5c 36.7%,#63cb5f 40%,#5ec962 43.3%,#5ac864 46.7%,#56c667 50%,#52c569 53.3%,#50c46a 56.7%,#4cc26c 60%,#46c06f 63.3%,#3bbb75 66.7%,#2fb47c 70%,#27ad81 73.3%,#24aa83 76.7%,#22a785 80%,#1fa187 83.3%,#1f988b 86.7%,#238a8d 90%,#287c8e 93.3%,#2b748e 96.7%,#2d718e 100%)"></i>
<i style="left:172.6px;width:3px;background:linear-gradient(#7ad151 0%,#7ad151 3.3%,#77d153 6.7%,#77d153 10%,#75d054 13.3%,#73d056 16.7%,#73d056 20%,#70cf57 23.3%,#6ece58 26.7%,#6ccd5a 30%,#69cd5b 33.3%,#65cb5e 36.7%,#63cb5f 40%,#5ec962 43.3%,#58c765 46.7%,#54c568 50%,#50c46a 53.3%,#4ec36b 56.7%,#4ac16d 60%,#44bf70 63.3%,#3aba76 66.7%,#2eb37c 70%,#26ad81 73.3%,#23a983 76.7%,#21a685 80%,#1fa187 83.3%,#1f988b 86.7%,#238a8d 90%,#287d8e 93.3%,#2b758e 96.7%,#2d718e 100%)"></i>
<i style="left:175px;width:3px;background:linear-gradient(#77d153 0%,#77d153 3.3%,#75d054 6.7%,#75d054 10%,#73d056 13.3%,#73d056 16.7%,#70cf57 20%,#6ece58 23.3%,#6ccd5a 26.7%,#69cd5b 30%,#67cc5c 33.3%,#65cb5e 36.7%,#60ca60 40%,#5cc863 43.3%,#58c765 46.7%,#54c568 50%,#50c46a 53.3%,#4cc26c 56.7%,#4ac16d 60%,#44bf70 63.3%,#3aba76 66.7%,#2eb37c 70%,#26ad81 73.3%,#22a884 76.7%,#21a585 80%,#1fa188 83.3%,#1f988b 86.7%,#238a8d 90%,#287d8e 93.3%,#2b758e 96.7%,#2d718e 100%)"></i>
<i style="left:177.3px;width:3px;background:linear-gradient(#75d054 0%,#75d054 3.3%,#75d054 6.7%,#73d056 10%,#70cf57 13.3%,#70cf57 16.7%,#6ece58 20%,#6ccd5a 23.3%,#69cd5b 26.7%,#67cc5c 30%,#65cb5e 33.3%,#63cb5f 36.7%,#60ca60 40%,#5cc863 43.3%,#56c667 46.7%,#52c569 50%,#4ec36b 53.3%,#4ac16d 56.7%,#48c16e 60%,#42be71 63.3%,#38b977 66.7%,#2db27d 70%,#25ac82 73.3%,#22a785 76.7%,#20a486 80%,#1fa188 83.3%,#1f988b 86.7%,#238a8d 90%,#287d8e 93.3%,#2b758e 96.7%,#2d718e 100%)"></i>
<i style="left:179.7px;width:3px;background:linear-gradient(#73d056 0%,#73d056 3.3%,#73d056 6.7%,#70cf57 10%,#70cf57 13.3%,#6ece58 16.7%,#6ccd5a 20%,#69cd5b 23.3%,#69cd5b 26.7%,#67cc5c 30%,#65cb5e 33.3%,#60ca60 36.7%,#5ec962 40%,#5ac864 43.3%,#56c667 46.7%,#50c46a 50%,#4cc26c 53.3%,#4ac16d 56.7%,#46c06f 60%,#42be71 63.3%,#38b977 66.7%,#2cb17e 70%,#25ab82 73.3%,#21a685 76.7%,#20a386 80%,#1fa088 83.3%,#1f988b 86.7%,#238a8d 90%,#287d8e 93.3%,#2b758e 96.7%,#2d718e 100%)"></i>
<i style="left:182.1px;width:3px;background:linear-gradient(#70cf57 0%,#70cf57 3.3%,#70cf57 6.7%,#6ece58 10%,#6ece58 13.3%,#6ccd5a 16.7%,#69cd5b 20%,#69cd5b 23.3%,#67cc5c 26.7%,#65cb5e 30%,#63cb5f 33.3%,#60ca60 36.7%,#5cc863 40%,#5ac864 43.3%,#54c568 46.7%,#50c46a 50%,#4ac16d 53.3%,#48c16e 56.7%,#46c06f 60%,#40bd72 63.3%,#37b878 66.7%,#2cb17e 70%,#24aa83 73.3%,#21a585 76.7%,#20a386 80%,#1fa088 83.3%,#1f988b 86.7%,#238a8d 90%,#287d8e 93.3%,#2b758e 96.7%,#2d718e 100%)"></i>
<i style="left:184.4px;width:3px;background:linear-gradient(#6ece58 0%,#6ece58 3.3%,#6ece58 6.7%,#6ccd5a 10%,#6ccd5a 13.3%,#69cd5b 16.7%,#69cd5b 20%,#67cc5c 23.3%,#65cb5e 26.7%,#63cb5f 30%,#60ca60 33.3%,#5ec962 36.7%,#5cc863 40%,#58c765 43.3%,#54c568 46.7%,#4ec36b 50%,#4ac16d 53.3%,#46c06f 56.7%,#44bf70 60%,#40bd72 63.3%,#37b878 66.7%,#2ab07f 70%,#24aa83 73.3%,#21a585 76.7%,#1fa287 80%,#1f9f88 83.3%,#1f978b 86.7%,#238a8d 90%,#287d8e 93.3%,#2b758e 96.7%,#2d718e 100%)"></i>
<i style="left:186.8px;width:3px;background:linear-gradient(#6ccd5a 0%,#6ccd5a 3.3%,#6ccd5a 6.7%,#6ccd5a 10%,#69cd5b 13.3%,#67cc5c 16.7%,#67cc5c 20%,#65cb5e 23.3%,#63cb5f 26.7%,#60ca60 30%,#5ec962 33.3%,#5cc863 36.7%,#5ac864 40%,#56c667 43.3%,#52c569 46.7%,#4cc26c 50%,#48c16e 53.3%,#46c06f 56.7%,#42be71 60%,#3fbc73 63.3%,#35b779 66.7%,#2ab07f 70%,#23a983 73.3%,#20a486 76.7%,#1fa187 80%,#1f9f88 83.3%,#1f978b 86.7%,#238a8d 90%,#287d8e 93.3%,#2b758e 96.7%,#2d718e 100%)"></i>
<i style="left:189.1px;width:3px;background:linear-gradient(#69cd5b 0%,#69cd5b 3.3%,#69cd5b 6.7%,#69cd5b 10%,#67cc5c 13.3%,#67cc5c 16.7%,#65cb5e 20%,#63cb5f 23.3%,#60ca60 26.7%,#60ca60 30%,#5ec962 33.3%,#5cc863 36.7%,#58c765 40%,#56c667 43.3%,#50c46a 46.7%,#4cc26c 50%,#46c06f 53.3%,#44bf70 56.7%,#42be71 60%,#3dbc74 63.3%,#34b679 66.7%,#29af7f 70%,#22a884 73.3%,#20a386 76.7%,#1fa188 80%,#1f9e89 83.3%,#1f978b 86.7%,#238a8d 90%,#287d8e 93.3%,#2b758e 96.7%,#2d718e 100%)"></i>
<i style="left:191.5px;width:3px;background:linear-gradient(#67cc5c 0%,#67cc5c 3.3%,#67cc5c 6.7%,#67cc5c 10%,#65cb5e 13.3%,#65cb5e 16.7%,#63cb5f 20%,#60ca60 23.3%,#60ca60 26.7%,#5ec962 30%,#5cc863 33.3%,#5ac864 36.7%,#56c667 40%,#54c568 43.3%,#50c46a 46.7%,#4ac16d 50%,#46c06f 53.3%,#42be71 56.7%,#40bd72 60%,#3dbc74 63.3%,#34b679 66.7%,#28ae80 70%,#22a785 73.3%,#1fa287 76.7%,#1fa188 80%,#1e9d89 83.3%,#1f968b 86.7%,#238a8d 90%,#287d8e 93.3%,#2b758e 96.7%,#2d718e 100%)"></i>
<i style="left:193.9px;width:3px;background:linear-gradient(#65cb5e 0%,#65cb5e 3.3%,#65cb5e 6.7%,#65cb5e 10%,#63cb5f 13.3%,#63cb5f 16.7%,#60ca60 20%,#60ca60 23.3%,#5ec962 26.7%,#5cc863 30%,#5ac864 33.3%,#58c765 36.7%,#56c667 40%,#52c569 43.3%,#4ec36b 46.7%,#48c16e 50%,#44bf70 53.3%,#40bd72 56.7%,#3fbc73 60%,#3bbb75 63.3%,#32b67a 66.7%,#28ae80 70%,#22a785 73.3%,#1fa287 76.7%,#1fa088 80%,#1e9d89 83.3%,#1f968b 86.7%,#238a8d 90%,#287d8e 93.3%,#2b758e 96.7%,#2d718e 100%)"></i>
<i style="left:196.2px;width:3px;background:linear-gradient(#63cb5f 0%,#63cb5f 3.3%,#63cb5f 6.7%,#63cb5f 10%,#60ca60 13.3%,#60ca60 16.7%,#5ec962 20%,#5ec962 23.3%,#5cc863 26.7%,#5ac864 30%,#58c765 33.3%,#56c667 36.7%,#54c568 40%,#50c46a 43.3%,#4cc26c 46.7%,#48c16e 50%,#42be71 53.3%,#40bd72 56.7%,#3dbc74 60%,#3aba76 63.3%,#31b57b 66.7%,#27ad81 70%,#21a685 73.3%,#1fa187 76.7%,#1f9f88 80%,#1e9c89 83.3%,#1f968b 86.7%,#23898e 90%,#287d8e 93.3%,#2b758e 96.7%,#2d718e 100%)"></i>
<i style="left:198.6px;width:3px;background:linear-gradient(#60ca60 0%,#60ca60 3.3%,#60ca60 6.7%,#60ca60 10%,#60ca60 13.3%,#5ec962 16.7%,#5cc863 20%,#5cc863 23.3%,#5ac864 26.7%,#58c765 30%,#56c667 33.3%,#54c568 36.7%,#52c569 40%,#4ec36b 43.3%,#4ac16d 46.7%,#46c06f 50%,#42be71 53.3%,#3fbc73 56.7%,#3dbc74 60%,#38b977 63.3%,#2fb47c 66.7%,#26ad81 70%,#21a585 73.3%,#1fa188 76.7%,#1f9f88 80%,#1e9c89 83.3%,#1f958b 86.7%,#23898e 90%,#287d8e 93.3%,#2b758e 96.7%,#2d718e 100%)"></i>
<i style="left:201px;width:3px;background:linear-gradient(#5ec962 0%,#5ec962 3.3%,#5ec962 6.7%,#5ec962 10%,#5ec962 13.3%,#5cc863 16.7%,#5cc863 20%,#5ac864 23.3%,#58c765 26.7%,#58c765 30%,#56c667 33.3%,#52c569 36.7%,#50c46a 40%,#4cc26c 43.3%,#48c16e 46.7%,#44bf70 50%,#40bd72 53.3%,#3dbc74 56.7%,#3bbb75 60%,#37b878 63.3%,#2fb47c 66.7%,#25ac82 70%,#20a486 73.3%,#1fa188 76.7%,#1f9e89 80%,#1e9b8a 83.3%,#1f958b 86.7%,#23898e 90%,#287d8e 93.3%,#2b758e 96.7%,#2d718e 100%)"></i>
<i style="left:203.3px;width:3px;background:linear-gradient(#5cc863 0%,#5cc863 3.3%,#5cc863 6.7%,#5cc863 10%,#5cc863 13.3%,#5ac864 16.7%,#5ac864 20%,#58c765 23.3%,#56c667 26.7%,#56c667 30%,#54c568 33.3%,#50c46a 36.7%,#4ec36b 40%,#4ac16d 43.3%,#48c16e 46.7%,#42be71 50%,#3fbc73 53.3%,#3dbc74 56.7%,#3aba76 60%,#37b878 63.3%,#2eb37c 66.7%,#25ab82 70%,#20a486 73.3%,#1fa088 76.7%,#1f9e89 80%,#1e9b8a 83.3%,#1f948c 86.7%,#23898e 90%,#287c8e 93.3%,#2b758e 96.7%,#2d718e 100%)"></i>
<i style="left:205.7px;width:3px;background:linear-gradient(#5ac864 0%,#5ac864 3.3%,#5ac864 6.7%,#5ac864 10%,#5ac864 13.3%,#58c765 16.7%,#58c765 20%,#56c667 23.3%,#56c667 26.7%,#54c568 30%,#52c569 33.3%,#4ec36b 36.7%,#4cc26c 40%,#4ac16d 43.3%,#46c06f 46.7%,#42be71 50%,#3dbc74 53.3%,#3bbb75 56.7%,#38b977 60%,#35b779 63.3%,#2db27d 66.7%,#25ab82 70%,#20a386 73.3%,#1f9f88 76.7%,#1e9d89 80%,#1f9a8a 83.3%,#1f948c 86.7%,#23888e 90%,#287c8e 93.3%,#2b758e 96.7%,#2d718e 100%)"></i>
<i style="left:208.1px;width:3px;background:linear-gradient(#58c765 0%,#58c765 3.3%,#58c765 6.7%,#58c765 10%,#58c765 13.3%,#56c667 16.7%,#56c667 20%,#54c568 23.3%,#54c568 26.7%,#52c569 30%,#50c46a 33.3%,#4ec36b 36.7%,#4ac16d 40%,#48c16e 43.3%,#44bf70 46.7%,#40bd72 50%,#3dbc74 53.3%,#3aba76 56.7%,#38b977 60%,#34b679 63.3%,#2cb17e 66.7%,#24aa83 70%,#1fa287 73.3%,#1f9f88 76.7%,#1e9c89 80%,#1f9a8a 83.3%,#20938c 86.7%,#23888e 90%,#287c8e 93.3%,#2b758e 96.7%,#2d718e 100%)"></i>
<i style="left:210.4px;width:3px;background:linear-gradient(#56c667 0%,#56c667 3.3%,#56c667 6.7%,#56c667 10%,#56c667 13.3%,#54c568 16.7%,#54c568 20%,#52c569 23.3%,#52c569 26.7%,#50c46a 30%,#4ec36b 33.3%,#4cc26c 36.7%,#48c16e 40%,#46c06f 43.3%,#42be71 46.7%,#3fbc73 50%,#3bbb75 53.3%,#38b977 56.7%,#37b878 60%,#32b67a 63.3%,#2ab07f 66.7%,#23a983 70%,#1fa187 73.3%,#1f9e89 76.7%,#1e9c89 80%,#1f998a 83.3%,#20938c 86.7%,#23888e 90%,#287c8e 93.3%,#2b758e 96.7%,#2d718e 100%)"></i>
<i style="left:212.8px;width:3px;background:linear-gradient(#54c568 0%,#54c568 3.3%,#54c568 6.7%,#54c568 10%,#54c568 13.3%,#52c569 16.7%,#52c569 20%,#50c46a 23.3%,#50c46a 26.7%,#4ec36b 30%,#4cc26c 33.3%,#4ac16d 36.7%,#46c06f 40%,#44bf70 43.3%,#40bd72 46.7%,#3dbc74 50%,#3aba76 53.3%,#38b977 56.7%,#35b779 60%,#32b67a 63.3%,#2ab07f 66.7%,#22a884 70%,#1fa187 73.3%,#1e9d89 76.7%,#1e9b8a 80%,#1f988b 83.3%,#20938c 86.7%,#23888e 90%,#287c8e 93.3%,#2b758e 96.7%,#2d718e 100%)"></i>
<i style="left:215.2px;width:3px;background:linear-gradient(#52c569 0%,#52c569 3.3%,#52c569 6.7%,#52c569 10%,#52c569 13.3%,#50c46a 16.7%,#50c46a 20%,#4ec36b 23.3%,#4ec36b 26.7%,#4cc26c 30%,#4ac16d 33.3%,#48c16e 36.7%,#44bf70 40%,#42be71 43.3%,#3fbc73 46.7%,#3bbb75 50%,#38b977 53.3%,#37b878 56.7%,#34b679 60%,#31b57b 63.3%,#29af7f 66.7%,#22a884 70%,#1fa188 73.3%,#1e9d89 76.7%,#1f9a8a 80%,#1f988b 83.3%,#20928c 86.7%,#24878e 90%,#287c8e 93.3%,#2b748e 96.7%,#2d718e 100%)"></i>
<i style="left:217.5px;width:3px;background:linear-gradient(#50c46a 0%,#50c46a 3.3%,#50c46a 6.7%,#50c46a 10%,#50c46a 13.3%,#4ec36b 16.7%,#4ec36b 20%,#4cc26c 23.3%,#4cc26c 26.7%,#4ac16d 30%,#48c16e 33.3%,#46c06f 36.7%,#42be71 40%,#40bd72 43.3%,#3dbc74 46.7%,#3bbb75 50%,#38b977 53.3%,#35b779 56.7%,#34b679 60%,#2fb47c 63.3%,#28ae80 66.7%,#22a785 70%,#1fa088 73.3%,#1e9c89 76.7%,#1f9a8a 80%,#1f978b 83.3%,#20928c 86.7%,#24878e 90%,#287c8e 93.3%,#2b748e 96.7%,#2d718e 100%)"></i>
<i style="left:219.9px;width:3px;background:linear-gradient(#4ec36b 0%,#4ec36b 3.3%,#4ec36b 6.7%,#4ec36b 10%,#4cc26c 13.3%,#4cc26c 16.7%,#4cc26c 20%,#4ac16d 23.3%,#4ac16d 26.7%,#48c16e 30%,#46c06f 33.3%,#44bf70 36.7%,#40bd72 40%,#3fbc73 43.3%,#3bbb75 46.7%,#3aba76 50%,#37b878 53.3%,#34b679 56.7%,#32b67a 60%,#2eb37c 63.3%,#27ad81 66.7%,#21a685 70%,#1fa088 73.3%,#1e9b8a 76.7%,#1f998a 80%,#1f978b 83.3%,#20928c 86.7%,#24878e 90%,#287c8e 93.3%,#2b748e 96.7%,#2d718e 100%)"></i>
<i style="left:222.2px;width:3px;background:linear-gradient(#4cc26c 0%,#4cc26c 3.3%,#4cc26c 6.7%,#4cc26c 10%,#4ac16d 13.3%,#4ac16d 16.7%,#4ac16d 20%,#48c16e 23.3%,#48c16e 26.7%,#46c06f 30%,#44bf70 33.3%,#42be71 36.7%,#3fbc73 40%,#3dbc74 43.3%,#3aba76 46.7%,#38b977 50%,#35b779 53.3%,#34b679 56.7%,#31b57b 60%,#2db27d 63.3%,#27ad81 66.7%,#21a585 70%,#1f9f88 73.3%,#1e9b8a 76.7%,#1f988b 80%,#1f968b 83.3%,#20928c 86.7%,#24868e 90%,#297b8e 93.3%,#2b748e 96.7%,#2d708e 100%)"></i>
<i style="left:224.6px;width:3px;background:linear-gradient(#4ac16d 0%,#4ac16d 3.3%,#4ac16d 6.7%,#4ac16d 10%,#48c16e 13.3%,#48c16e 16.7%,#48c16e 20%,#46c06f 23.3%,#46c06f 26.7%,#44bf70 30%,#42be71 33.3%,#40bd72 36.7%,#3dbc74 40%,#3bbb75 43.3%,#3aba76 46.7%,#37b878 50%,#34b679 53.3%,#32b67a 56.7%,#2fb47c 60%,#2db27d 63.3%,#26ad81 66.7%,#21a585 70%,#1f9e89 73.3%,#1f9a8a 76.7%,#1f988b 80%,#1f958b 83.3%,#21918c 86.7%,#24868e 90%,#297b8e 93.3%,#2b748e 96.7%,#2d708e 100%)"></i>
<i style="left:227px;width:3px;background:linear-gradient(#48c16e 0%,#48c16e 3.3%,#48c16e 6.7%,#46c06f 10%,#46c06f 13.3%,#46c06f 16.7%,#44bf70 20%,#44bf70 23.3%,#42be71 26.7%,#42be71 30%,#40bd72 33.3%,#3dbc74 36.7%,#3bbb75 40%,#3aba76 43.3%,#38b977 46.7%,#35b779 50%,#34b679 53.3%,#31b57b 56.7%,#2eb37c 60%,#2cb17e 63.3%,#25ac82 66.7%,#20a486 70%,#1e9d89 73.3%,#1f998a 76.7%,#1f978b 80%,#1f958b 83.3%,#21908d 86.7%,#24868e 90%,#297b8e 93.3%,#2c738e 96.7%,#2d708e 100%)"></i>
<i style="left:229.3px;width:3px;background:linear-gradient(#46c06f 0%,#46c06f 3.3%,#46c06f 6.7%,#44bf70 10%,#44bf70 13.3%,#44bf70 16.7%,#42be71 20%,#42be71 23.3%,#40bd72 26.7%,#40bd72 30%,#3fbc73 33.3%,#3bbb75 36.7%,#3aba76 40%,#38b977 43.3%,#37b878 46.7%,#34b679 50%,#32b67a 53.3%,#2fb47c 56.7%,#2eb37c 60%,#2ab07f 63.3%,#25ab82 66.7%,#20a386 70%,#1e9d89 73.3%,#1f988b 76.7%,#1f968b 80%,#1f948c 83.3%,#21908d 86.7%,#25858e 90%,#297a8e 93.3%,#2c738e 96.7%,#2d708e 100%)"></i>
<i style="left:231.7px;width:3px;background:linear-gradient(#44bf70 0%,#44bf70 3.3%,#42be71 6.7%,#42be71 10%,#42be71 13.3%,#40bd72 16.7%,#40bd72 20%,#40bd72 23.3%,#3fbc73 26.7%,#3dbc74 30%,#3bbb75 33.3%,#3aba76 36.7%,#38b977 40%,#37b878 43.3%,#35b779 46.7%,#32b67a 50%,#31b57b 53.3%,#2eb37c 56.7%,#2db27d 60%,#29af7f 63.3%,#24aa83 66.7%,#1fa287 70%,#1e9c89 73.3%,#1f988b 76.7%,#1f968b 80%,#20938c 83.3%,#218f8d 86.7%,#25858e 90%,#297a8e 93.3%,#2c738e 96.7%,#2e6f8e 100%)"></i>
<i style="left:234.1px;width:3px;background:linear-gradient(#42be71 0%,#42be71 3.3%,#40bd72 6.7%,#40bd72 10%,#40bd72 13.3%,#3fbc73 16.7%,#3fbc73 20%,#3dbc74 23.3%,#3dbc74 26.7%,#3bbb75 30%,#3aba76 33.3%,#38b977 36.7%,#37b878 40%,#35b779 43.3%,#34b679 46.7%,#31b57b 50%,#2fb47c 53.3%,#2eb37c 56.7%,#2cb17e 60%,#28ae80 63.3%,#23a983 66.7%,#1fa187 70%,#1e9b8a 73.3%,#1f978b 76.7%,#1f958b 80%,#20938c 83.3%,#218f8d 86.7%,#25848e 90%,#297a8e 93.3%,#2c738e 96.7%,#2e6f8e 100%)"></i>
<i style="left:236.4px;width:3px;background:linear-gradient(#3fbc73 0%,#3fbc73 3.3%,#3fbc73 6.7%,#3fbc73 10%,#3fbc73 13.3%,#3dbc74 16.7%,#3dbc74 20%,#3bbb75 23.3%,#3aba76 26.7%,#3aba76 30%,#38b977 33.3%,#37b878 36.7%,#35b779 40%,#32b67a 43.3%,#32b67a 46.7%,#2fb47c 50%,#2eb37c 53.3%,#2db27d 56.7%,#2ab07f 60%,#27ad81 63.3%,#22a884 66.7%,#1fa188 70%,#1f9a8a 73.3%,#1f968b 76.7%,#1f948c 80%,#20928c 83.3%,#218e8d 86.7%,#25848e 90%,#297a8e 93.3%,#2c728e 96.7%,#2e6f8e 100%)"></i>
<i style="left:238.8px;width:3px;background:linear-gradient(#3dbc74 0%,#3dbc74 3.3%,#3dbc74 6.7%,#3dbc74 10%,#3bbb75 13.3%,#3bbb75 16.7%,#3aba76 20%,#3aba76 23.3%,#38b977 26.7%,#38b977 30%,#37b878 33.3%,#35b779 36.7%,#32b67a 40%,#31b57b 43.3%,#2fb47c 46.7%,#2eb37c 50%,#2db27d 53.3%,#2cb17e 56.7%,#29af7f 60%,#26ad81 63.3%,#22a785 66.7%,#1fa088 70%,#1f998a 73.3%,#1f958b 76.7%,#20938c 80%,#20928c 83.3%,#218e8d 86.7%,#25838e 90%,#29798e 93.3%,#2c728e 96.7%,#2e6e8e 100%)"></i>
<i style="left:241.2px;width:3px;background:linear-gradient(#3bbb75 0%,#3bbb75 3.3%,#3bbb75 6.7%,#3aba76 10%,#3aba76 13.3%,#38b977 16.7%,#38b977 20%,#37b878 23.3%,#37b878 26.7%,#35b779 30%,#34b679 33.3%,#32b67a 36.7%,#31b57b 40%,#2fb47c 43.3%,#2eb37c 46.7%,#2db27d 50%,#2cb17e 53.3%,#2ab07f 56.7%,#28ae80 60%,#25ac82 63.3%,#21a685 66.7%,#1f9f88 70%,#1f988b 73.3%,#1f948c 76.7%,#20938c 80%,#20928c 83.3%,#228d8d 86.7%,#25838e 90%,#29798e 93.3%,#2c728e 96.7%,#2e6e8e 100%)"></i>
<i style="left:243.5px;width:3px;background:linear-gradient(#3aba76 0%,#3aba76 3.3%,#38b977 6.7%,#38b977 10%,#38b977 13.3%,#37b878 16.7%,#37b878 20%,#35b779 23.3%,#34b679 26.7%,#34b679 30%,#32b67a 33.3%,#31b57b 36.7%,#2fb47c 40%,#2eb37c 43.3%,#2db27d 46.7%,#2cb17e 50%,#2ab07f 53.3%,#29af7f 56.7%,#27ad81 60%,#25ab82 63.3%,#21a585 66.7%,#1f9e89 70%,#1f978b 73.3%,#20938c 76.7%,#20928c 80%,#21918c 83.3%,#228c8d 86.7%,#26828e 90%,#2a788e 93.3%,#2c718e 96.7%,#2e6e8e 100%)"></i>
<i style="left:245.9px;width:3px;background:linear-gradient(#38b977 0%,#38b977 3.3%,#37b878 6.7%,#37b878 10%,#35b779 13.3%,#35b779 16.7%,#34b679 20%,#34b679 23.3%,#32b67a 26.7%,#31b57b 30%,#31b57b 33.3%,#2fb47c 36.7%,#2eb37c 40%,#2db27d 43.3%,#2cb17e 46.7%,#2ab07f 50%,#29af7f 53.3%,#28ae80 56.7%,#26ad81 60%,#24aa83 63.3%,#20a486 66.7%,#1e9d89 70%,#1f968b 73.3%,#20928c 76.7%,#20928c 80%,#21908d 83.3%,#228c8d 86.7%,#26828e 90%,#2a788e 93.3%,#2c718e 96.7%,#2e6d8e 100%)"></i>
<i style="left:248.2px;width:3px;background:linear-gradient(#37b878 0%,#35b779 3.3%,#35b779 6.7%,#34b679 10%,#34b679 13.3%,#32b67a 16.7%,#32b67a 20%,#31b57b 23.3%,#31b57b 26.7%,#2fb47c 30%,#2eb37c 33.3%,#2db27d 36.7%,#2db27d 40%,#2cb17e 43.3%,#2ab07f 46.7%,#29af7f 50%,#28ae80 53.3%,#27ad81 56.7%,#25ac82 60%,#23a983 63.3%,#20a386 66.7%,#1e9c89 70%,#1f958b 73.3%,#20928c 76.7%,#21918c 80%,#21908d 83.3%,#228b8d 86.7%,#26828e 90%,#2a788e 93.3%,#2d718e 96.7%,#2e6d8e 100%)"></i>
<i style="left:250.6px;width:3px;background:linear-gradient(#35b779 0%,#34b679 3.3%,#34b679 6.7%,#32b67a 10%,#32b67a 13.3%,#31b57b 16.7%,#31b57b 20%,#2fb47c 23.3%,#2eb37c 26.7%,#2eb37c 30%,#2db27d 33.3%,#2cb17e 36.7%,#2ab07f 40%,#2ab07f 43.3%,#29af7f 46.7%,#28ae80 50%,#27ad81 53.3%,#26ad81 56.7%,#25ab82 60%,#22a884 63.3%,#1fa287 66.7%,#1e9b8a 70%,#1f948c 73.3%,#21918c 76.7%,#21908d 80%,#218f8d 83.3%,#228b8d 86.7%,#26828e 90%,#2a778e 93.3%,#2d718e 96.7%,#2f6c8e 100%)"></i>
<i style="left:253px;width:3px;background:linear-gradient(#32b67a 0%,#32b67a 3.3%,#31b57b 6.7%,#31b57b 10%,#2fb47c 13.3%,#2fb47c 16.7%,#2eb37c 20%,#2eb37c 23.3%,#2db27d 26.7%,#2cb17e 30%,#2cb17e 33.3%,#2ab07f 36.7%,#29af7f 40%,#28ae80 43.3%,#28ae80 46.7%,#27ad81 50%,#26ad81 53.3%,#25ab82 56.7%,#24aa83 60%,#22a785 63.3%,#1fa187 66.7%,#1f9a8a 70%,#20938c 73.3%,#21908d 76.7%,#218f8d 80%,#218e8d 83.3%,#238a8d 86.7%,#26818e 90%,#2a768e 93.3%,#2d708e 96.7%,#2f6c8e 100%)"></i>
<i style="left:255.3px;width:3px;background:linear-gradient(#31b57b 0%,#31b57b 3.3%,#2fb47c 6.7%,#2eb37c 10%,#2eb37c 13.3%,#2db27d 16.7%,#2db27d 20%,#2cb17e 23.3%,#2cb17e 26.7%,#2ab07f 30%,#29af7f 33.3%,#29af7f 36.7%,#28ae80 40%,#27ad81 43.3%,#26ad81 46.7%,#26ad81 50%,#25ac82 53.3%,#24aa83 56.7%,#23a983 60%,#21a685 63.3%,#1fa188 66.7%,#1f988b 70%,#20928c 73.3%,#218f8d 76.7%,#218e8d 80%,#228d8d 83.3%,#23898e 86.7%,#26818e 90%,#2a768e 93.3%,#2d708e 96.7%,#2f6b8e 100%)"></i>
<i style="left:257.7px;width:3px;background:linear-gradient(#2fb47c 0%,#2eb37c 3.3%,#2eb37c 6.7%,#2db27d 10%,#2db27d 13.3%,#2cb17e 16.7%,#2ab07f 20%,#2ab07f 23.3%,#29af7f 26.7%,#29af7f 30%,#28ae80 33.3%,#27ad81 36.7%,#27ad81 40%,#26ad81 43.3%,#25ac82 46.7%,#25ac82 50%,#25ab82 53.3%,#23a983 56.7%,#22a785 60%,#21a585 63.3%,#1f9f88 66.7%,#1f978b 70%,#21918c 73.3%,#218e8d 76.7%,#228d8d 80%,#228c8d 83.3%,#23898e 86.7%,#27808e 90%,#2b758e 93.3%,#2e6f8e 96.7%,#306a8e 100%)"></i>
<i style="left:260.1px;width:3px;background:linear-gradient(#2eb37c 0%,#2db27d 3.3%,#2cb17e 6.7%,#2cb17e 10%,#2ab07f 13.3%,#2ab07f 16.7%,#29af7f 20%,#28ae80 23.3%,#28ae80 26.7%,#27ad81 30%,#27ad81 33.3%,#26ad81 36.7%,#25ac82 40%,#25ac82 43.3%,#25ab82 46.7%,#24aa83 50%,#23a983 53.3%,#22a884 56.7%,#21a685 60%,#20a486 63.3%,#1f9e89 66.7%,#1f968b 70%,#21908d 73.3%,#228d8d 76.7%,#228c8d 80%,#228c8d 83.3%,#23888e 86.7%,#277f8e 90%,#2b758e 93.3%,#2e6f8e 96.7%,#306a8e 100%)"></i>
<i style="left:262.4px;width:3px;background:linear-gradient(#2cb17e 0%,#2cb17e 3.3%,#2ab07f 6.7%,#2ab07f 10%,#29af7f 13.3%,#28ae80 16.7%,#28ae80 20%,#27ad81 23.3%,#26ad81 26.7%,#26ad81 30%,#25ac82 33.3%,#25ac82 36.7%,#25ab82 40%,#24aa83 43.3%,#24aa83 46.7%,#23a983 50%,#22a884 53.3%,#22a785 56.7%,#21a585 60%,#1fa287 63.3%,#1e9d89 66.7%,#1f958b 70%,#218f8d 73.3%,#228c8d 76.7%,#228b8d 80%,#228b8d 83.3%,#24878e 86.7%,#277f8e 90%,#2b748e 93.3%,#2e6e8e 96.7%,#30698e 100%)"></i>
<i style="left:264.8px;width:3px;background:linear-gradient(#2ab07f 0%,#2ab07f 3.3%,#29af7f 6.7%,#28ae80 10%,#28ae80 13.3%,#27ad81 16.7%,#26ad81 20%,#26ad81 23.3%,#25ac82 26.7%,#25ac82 30%,#25ab82 33.3%,#24aa83 36.7%,#24aa83 40%,#23a983 43.3%,#23a983 46.7%,#22a884 50%,#22a785 53.3%,#21a685 56.7%,#20a486 60%,#1fa187 63.3%,#1e9c89 66.7%,#20938c 70%,#228d8d 73.3%,#228b8d 76.7%,#238a8d 80%,#238a8d 83.3%,#24868e 86.7%,#277e8e 90%,#2c738e 93.3%,#2e6d8e 96.7%,#31688e 100%)"></i>
<i style="left:267.2px;width:3px;background:linear-gradient(#29af7f 0%,#28ae80 3.3%,#28ae80 6.7%,#27ad81 10%,#26ad81 13.3%,#26ad81 16.7%,#25ac82 20%,#25ac82 23.3%,#25ab82 26.7%,#24aa83 30%,#24aa83 33.3%,#23a983 36.7%,#23a983 40%,#22a884 43.3%,#22a785 46.7%,#22a785 50%,#21a685 53.3%,#21a585 56.7%,#20a386 60%,#1fa188 63.3%,#1e9b8a 66.7%,#20928c 70%,#228c8d 73.3%,#23898e 76.7%,#23898e 80%,#23898e 83.3%,#25858e 86.7%,#287d8e 90%,#2c728e 93.3%,#2f6c8e 96.7%,#31688e 100%)"></i>
<i style="left:269.5px;width:3px;background:linear-gradient(#28ae80 0%,#27ad81 3.3%,#27ad81 6.7%,#26ad81 10%,#25ac82 13.3%,#25ac82 16.7%,#25ab82 20%,#24aa83 23.3%,#24aa83 26.7%,#23a983 30%,#23a983 33.3%,#22a884 36.7%,#22a884 40%,#22a785 43.3%,#21a685 46.7%,#21a685 50%,#21a585 53.3%,#20a486 56.7%,#1fa287 60%,#1fa088 63.3%,#1f9a8a 66.7%,#20928c 70%,#228b8d 73.3%,#23888e 76.7%,#23888e 80%,#24878e 83.3%,#25848e 86.7%,#287c8e 90%,#2c728e 93.3%,#2f6c8e 96.7%,#31678e 100%)"></i>
<i style="left:271.9px;width:3px;background:linear-gradient(#27ad81 0%,#26ad81 3.3%,#26ad81 6.7%,#25ac82 10%,#25ab82 13.3%,#25ab82 16.7%,#24aa83 20%,#23a983 23.3%,#23a983 26.7%,#22a884 30%,#22a884 33.3%,#22a785 36.7%,#22a785 40%,#21a685 43.3%,#21a585 46.7%,#21a585 50%,#20a486 53.3%,#20a386 56.7%,#1fa187 60%,#1fa088 63.3%,#1f998a 66.7%,#21918c 70%,#23898e 73.3%,#24878e 76.7%,#24878e 80%,#24868e 83.3%,#25838e 86.7%,#297b8e 90%,#2c718e 93.3%,#2f6b8e 96.7%,#31668e 100%)"></i>
<i style="left:274.3px;width:3px;background:linear-gradient(#26ad81 0%,#25ac82 3.3%,#25ab82 6.7%,#25ab82 10%,#24aa83 13.3%,#24aa83 16.7%,#23a983 20%,#22a884 23.3%,#22a884 26.7%,#22a785 30%,#22a785 33.3%,#21a685 36.7%,#21a585 40%,#21a585 43.3%,#20a486 46.7%,#20a486 50%,#20a386 53.3%,#1fa287 56.7%,#1fa188 60%,#1f9f88 63.3%,#1f988b 66.7%,#21908d 70%,#23888e 73.3%,#25858e 76.7%,#25858e 80%,#25858e 83.3%,#26828e 86.7%,#297a8e 90%,#2d718e 93.3%,#306a8e 96.7%,#32658e 100%)"></i>
<i style="left:276.6px;width:3px;background:linear-gradient(#25ac82 0%,#25ab82 3.3%,#24aa83 6.7%,#24aa83 10%,#23a983 13.3%,#22a884 16.7%,#22a884 20%,#22a785 23.3%,#22a785 26.7%,#21a685 30%,#21a585 33.3%,#21a585 36.7%,#20a486 40%,#20a486 43.3%,#20a386 46.7%,#1fa287 50%,#1fa287 53.3%,#1fa188 56.7%,#1fa088 60%,#1f9e89 63.3%,#1f978b 66.7%,#218f8d 70%,#24878e 73.3%,#25848e 76.7%,#25848e 80%,#25848e 83.3%,#26828e 86.7%,#29798e 90%,#2d708e 93.3%,#30698e 96.7%,#32658e 100%)"></i>
<i style="left:279px;width:3px;background:linear-gradient(#24aa83 0%,#24aa83 3.3%,#23a983 6.7%,#23a983 10%,#22a884 13.3%,#22a785 16.7%,#22a785 20%,#21a685 23.3%,#21a585 26.7%,#21a585 30%,#20a486 33.3%,#20a486 36.7%,#20a386 40%,#1fa287 43.3%,#1fa287 46.7%,#1fa187 50%,#1fa188 53.3%,#1fa088 56.7%,#1f9f88 60%,#1e9d89 63.3%,#1f968b 66.7%,#228d8d 70%,#25858e 73.3%,#25838e 76.7%,#26828e 80%,#26828e 83.3%,#27808e 86.7%,#2a788e 90%,#2e6f8e 93.3%,#31688e 96.7%,#32648e 100%)"></i>
<i style="left:281.4px;width:3px;background:linear-gradient(#23a983 0%,#23a983 3.3%,#22a884 6.7%,#22a785 10%,#22a785 13.3%,#21a685 16.7%,#21a585 20%,#21a585 23.3%,#20a486 26.7%,#20a486 30%,#20a386 33.3%,#1fa287 36.7%,#1fa287 40%,#1fa187 43.3%,#1fa187 46.7%,#1fa188 50%,#1fa088 53.3%,#1f9f88 56.7%,#1f9e89 60%,#1e9c89 63.3%,#1f958b 66.7%,#228c8d 70%,#25848e 73.3%,#26828e 76.7%,#26828e 80%,#26828e 83.3%,#277f8e 86.7%,#2a778e 90%,#2e6e8e 93.3%,#31678e 96.7%,#33638d 100%)"></i>
<i style="left:283.7px;width:3px;background:linear-gradient(#22a884 0%,#22a785 3.3%,#22a785 6.7%,#21a685 10%,#21a585 13.3%,#21a585 16.7%,#20a486 20%,#20a386 23.3%,#20a386 26.7%,#1fa287 30%,#1fa287 33.3%,#1fa187 36.7%,#1fa187 40%,#1fa188 43.3%,#1fa088 46.7%,#1f9f88 50%,#1f9f88 53.3%,#1f9e89 56.7%,#1e9d89 60%,#1e9b8a 63.3%,#1f948c 66.7%,#228b8d 70%,#25838e 73.3%,#26818e 76.7%,#27808e 80%,#27808e 83.3%,#287d8e 86.7%,#2b758e 90%,#2f6c8e 93.3%,#31668e 96.7%,#33628d 100%)"></i>
<i style="left:286.1px;width:3px;background:linear-gradient(#21a685 0%,#21a685 3.3%,#21a585 6.7%,#20a486 10%,#20a486 13.3%,#20a386 16.7%,#20a386 20%,#1fa287 23.3%,#1fa187 26.7%,#1fa187 30%,#1fa188 33.3%,#1fa188 36.7%,#1fa088 40%,#1f9f88 43.3%,#1f9f88 46.7%,#1f9e89 50%,#1e9d89 53.3%,#1e9c89 56.7%,#1e9b8a 60%,#1f998a 63.3%,#20938c 66.7%,#238a8d 70%,#26828e 73.3%,#277f8e 76.7%,#277f8e 80%,#277e8e 83.3%,#297b8e 86.7%,#2b748e 90%,#2f6b8e 93.3%,#32658e 96.7%,#34618d 100%)"></i>
<i style="left:288.4px;width:3px;background:linear-gradient(#21a585 0%,#20a486 3.3%,#20a386 6.7%,#20a386 10%,#1fa287 13.3%,#1fa287 16.7%,#1fa187 20%,#1fa188 23.3%,#1fa188 26.7%,#1fa088 30%,#1fa088 33.3%,#1f9f88 36.7%,#1f9e89 40%,#1f9e89 43.3%,#1e9d89 46.7%,#1e9c89 50%,#1e9b8a 53.3%,#1e9b8a 56.7%,#1f9a8a 60%,#1f988b 63.3%,#20928c 66.7%,#23888e 70%,#26818e 73.3%,#287d8e 76.7%,#287d8e 80%,#287c8e 83.3%,#297a8e 86.7%,#2c728e 90%,#306a8e 93.3%,#32648e 96.7%,#34608d 100%)"></i>
<i style="left:290.8px;width:3px;background:linear-gradient(#20a386 0%,#1fa287 3.3%,#1fa287 6.7%,#1fa187 10%,#1fa188 13.3%,#1fa188 16.7%,#1fa088 20%,#1f9f88 23.3%,#1f9f88 26.7%,#1f9e89 30%,#1f9e89 33.3%,#1e9d89 36.7%,#1e9c89 40%,#1e9c89 43.3%,#1e9b8a 46.7%,#1f9a8a 50%,#1f9a8a 53.3%,#1f998a 56.7%,#1f988b 60%,#1f968b 63.3%,#21918c 66.7%,#24878e 70%,#277f8e 73.3%,#287c8e 76.7%,#297b8e 80%,#297a8e 83.3%,#2a778e 86.7%,#2d718e 90%,#31688e 93.3%,#33628d 96.7%,#355f8d 100%)"></i>
<i style="left:293.2px;width:3px;background:linear-gradient(#1fa187 0%,#1fa188 3.3%,#1fa088 6.7%,#1fa088 10%,#1f9f88 13.3%,#1f9f88 16.7%,#1f9e89 20%,#1e9d89 23.3%,#1e9d89 26.7%,#1e9c89 30%,#1e9c89 33.3%,#1e9b8a 36.7%,#1f9a8a 40%,#1f9a8a 43.3%,#1f998a 46.7%,#1f988b 50%,#1f978b 53.3%,#1f978b 56.7%,#1f968b 60%,#1f948c 63.3%,#218f8d 66.7%,#25858e 70%,#287d8e 73.3%,#297a8e 76.7%,#29798e 80%,#2a788e 83.3%,#2b758e 86.7%,#2e6f8e 90%,#31668e 93.3%,#34618d 96.7%,#365d8d 100%)"></i>
<i style="left:295.5px;width:3px;background:linear-gradient(#1f9f88 0%,#1f9f88 3.3%,#1f9e89 6.7%,#1e9d89 10%,#1e9d89 13.3%,#1e9c89 16.7%,#1e9b8a 20%,#1e9b8a 23.3%,#1f9a8a 26.7%,#1f9a8a 30%,#1f998a 33.3%,#1f988b 36.7%,#1f988b 40%,#1f978b 43.3%,#1f968b 46.7%,#1f968b 50%,#1f958b 53.3%,#1f948c 56.7%,#1f948c 60%,#20928c 63.3%,#228d8d 66.7%,#25838e 70%,#297b8e 73.3%,#2a788e 76.7%,#2a778e 80%,#2a768e 83.3%,#2c738e 86.7%,#2e6d8e 90%,#32658e 93.3%,#355f8d 96.7%,#365c8d 100%)"></i>
<i style="left:297.9px;width:3px;background:linear-gradient(#1e9c89 0%,#1e9b8a 3.3%,#1e9b8a 6.7%,#1f9a8a 10%,#1f9a8a 13.3%,#1f998a 16.7%,#1f988b 20%,#1f988b 23.3%,#1f978b 26.7%,#1f968b 30%,#1f968b 33.3%,#1f958b 36.7%,#1f948c 40%,#1f948c 43.3%,#20938c 46.7%,#20928c 50%,#20928c 53.3%,#20928c 56.7%,#20928c 60%,#21908d 63.3%,#238a8d 66.7%,#26828e 70%,#29798e 73.3%,#2b758e 76.7%,#2b748e 80%,#2c738e 83.3%,#2d718e 86.7%,#306a8e 90%,#33638d 93.3%,#355e8d 96.7%,#375a8c 100%)"></i>
<i style="left:300.3px;width:3px;background:linear-gradient(#1f988b 0%,#1f988b 3.3%,#1f978b 6.7%,#1f968b 10%,#1f968b 13.3%,#1f958b 16.7%,#1f948c 20%,#1f948c 23.3%,#20938c 26.7%,#20928c 30%,#20928c 33.3%,#20928c 36.7%,#21918c 40%,#21918c 43.3%,#21908d 46.7%,#218f8d 50%,#218e8d 53.3%,#218e8d 56.7%,#218e8d 60%,#228c8d 63.3%,#24878e 66.7%,#277f8e 70%,#2a778e 73.3%,#2c738e 76.7%,#2c728e 80%,#2c718e 83.3%,#2e6f8e 86.7%,#31688e 90%,#34618d 93.3%,#365c8d 96.7%,#38598c 100%)"></i>
<i style="left:302.6px;width:3px;background:linear-gradient(#1f948c 0%,#20938c 3.3%,#20938c 6.7%,#20928c 10%,#20928c 13.3%,#21918c 16.7%,#21918c 20%,#21908d 23.3%,#218f8d 26.7%,#218f8d 30%,#218e8d 33.3%,#228d8d 36.7%,#228d8d 40%,#228c8d 43.3%,#228b8d 46.7%,#238a8d 50%,#238a8d 53.3%,#238a8d 56.7%,#23898e 60%,#23888e 63.3%,#25838e 66.7%,#287c8e 70%,#2b748e 73.3%,#2d718e 76.7%,#2d708e 80%,#2e6f8e 83.3%,#2f6c8e 86.7%,#32658e 90%,#355f8d 93.3%,#375a8c 96.7%,#39568c 100%)"></i>
<i style="left:305px;width:3px;background:linear-gradient(#21908d 0%,#218f8d 3.3%,#218f8d 6.7%,#218e8d 10%,#228d8d 13.3%,#228c8d 16.7%,#228c8d 20%,#228b8d 23.3%,#238a8d 26.7%,#23898e 30%,#23898e 33.3%,#23888e 36.7%,#23888e 40%,#24878e 43.3%,#24868e 46.7%,#25858e 50%,#25848e 53.3%,#25848e 56.7%,#25848e 60%,#25838e 63.3%,#27808e 66.7%,#2a788e 70%,#2c718e 73.3%,#2e6e8e 76.7%,#2e6d8e 80%,#2f6c8e 83.3%,#31688e 86.7%,#33628d 90%,#365c8d 93.3%,#38588c 96.7%,#3a548c 100%)"></i>
<i style="left:307.4px;width:3px;background:linear-gradient(#228b8d 0%,#238a8d 3.3%,#23898e 6.7%,#23888e 10%,#24878e 13.3%,#24878e 16.7%,#24868e 20%,#25858e 23.3%,#25848e 26.7%,#25848e 30%,#25838e 33.3%,#26828e 36.7%,#26828e 40%,#26828e 43.3%,#26818e 46.7%,#27808e 50%,#27808e 53.3%,#277f8e 56.7%,#277f8e 60%,#277f8e 63.3%,#297b8e 66.7%,#2b748e 70%,#2e6f8e 73.3%,#2f6b8e 76.7%,#30698e 80%,#31688e 83.3%,#32658e 86.7%,#355f8d 90%,#38598c 93.3%,#3a548c 96.7%,#3b518b 100%)"></i>
<i style="left:309.7px;width:3px;background:linear-gradient(#25858e 0%,#25848e 3.3%,#25838e 6.7%,#26828e 10%,#26828e 13.3%,#26818e 16.7%,#27808e 20%,#27808e 23.3%,#277f8e 26.7%,#277e8e 30%,#287d8e 33.3%,#287d8e 36.7%,#287c8e 40%,#297b8e 43.3%,#297b8e 46.7%,#297a8e 50%,#29798e 53.3%,#29798e 56.7%,#29798e 60%,#2a788e 63.3%,#2b758e 66.7%,#2d708e 70%,#306a8e 73.3%,#31678e 76.7%,#32658e 80%,#33638d 83.3%,#34608d 86.7%,#375b8d 90%,#3a548c 93.3%,#3c508b 96.7%,#3d4e8a 100%)"></i>
<i style="left:312.1px;width:3px;background:linear-gradient(#277f8e 0%,#277e8e 3.3%,#287d8e 6.7%,#287c8e 10%,#297b8e 13.3%,#297a8e 16.7%,#29798e 20%,#29798e 23.3%,#2a788e 26.7%,#2a778e 30%,#2a768e 33.3%,#2a768e 36.7%,#2b758e 40%,#2b748e 43.3%,#2b748e 46.7%,#2c738e 50%,#2c728e 53.3%,#2c728e 56.7%,#2c728e 60%,#2c728e 63.3%,#2d708e 66.7%,#2f6b8e 70%,#31668e 73.3%,#33628d 76.7%,#34608d 80%,#355e8d 83.3%,#375b8d 86.7%,#39558c 90%,#3c508b 93.3%,#3e4c8a 96.7%,#3e4989 100%)"></i>
<i style="left:314.4px;width:3px;background:linear-gradient(#2a788e 0%,#2a778e 3.3%,#2a768e 6.7%,#2b758e 10%,#2b748e 13.3%,#2c738e 16.7%,#2c728e 20%,#2c718e 23.3%,#2d718e 26.7%,#2d708e 30%,#2d708e 33.3%,#2e6f8e 36.7%,#2e6f8e 40%,#2e6e8e 43.3%,#2e6d8e 46.7%,#2f6c8e 50%,#2f6c8e 53.3%,#2f6c8e 56.7%,#2f6c8e 60%,#2f6c8e 63.3%,#30698e 66.7%,#32658e 70%,#34608d 73.3%,#365d8d 76.7%,#375a8c 80%,#38588c 83.3%,#3a548c 86.7%,#3c508b 90%,#3e4a89 93.3%,#3f4788 96.7%,#404588 100%)"></i>
<i style="left:316.8px;width:3px;background:linear-gradient(#2e6d8e 0%,#2f6c8e 3.3%,#2f6b8e 6.7%,#306a8e 10%,#30698e 13.3%,#31688e 16.7%,#31678e 20%,#31678e 23.3%,#31668e 26.7%,#32658e 30%,#32658e 33.3%,#32648e 36.7%,#32648e 40%,#33638d 43.3%,#33638d 46.7%,#33628d 50%,#34618d 53.3%,#34618d 56.7%,#34618d 60%,#34618d 63.3%,#355f8d 66.7%,#365c8d 70%,#38598c 73.3%,#39558c 76.7%,#3a538b 80%,#3b518b 83.3%,#3d4e8a 86.7%,#3e4989 90%,#404588 93.3%,#424186 96.7%,#423f85 100%)"></i>
<i style="left:319.2px;width:3px;background:linear-gradient(#365d8d 0%,#365c8d 3.3%,#375b8d 6.7%,#375a8c 10%,#38598c 13.3%,#38588c 16.7%,#38588c 20%,#39568c 23.3%,#39558c 26.7%,#39558c 30%,#39558c 33.3%,#3a548c 36.7%,#3a548c 40%,#3a548c 43.3%,#3a538b 46.7%,#3a538b 50%,#3b528b 53.3%,#3b528b 56.7%,#3b518b 60%,#3c508b 63.3%,#3c508b 66.7%,#3c4f8a 70%,#3d4e8a 73.3%,#3e4c8a 76.7%,#3e4989 80%,#3f4788 83.3%,#414487 86.7%,#423f85 90%,#443b84 93.3%,#443983 96.7%,#453882 100%)"></i>
<i style="left:321.5px;width:3px;background:linear-gradient(#3e4a89 0%,#3e4989 3.3%,#3f4889 6.7%,#3f4788 10%,#3f4788 13.3%,#404688 16.7%,#404588 20%,#404588 23.3%,#414487 26.7%,#414487 30%,#414487 33.3%,#414487 36.7%,#414487 40%,#414287 43.3%,#414287 46.7%,#414287 50%,#414287 53.3%,#424186 56.7%,#424086 60%,#423f85 63.3%,#433d84 66.7%,#443b84 70%,#443a83 73.3%,#443983 76.7%,#453882 80%,#453581 83.3%,#46337f 86.7%,#472f7d 90%,#472d7b 93.3%,#472c7a 96.7%,#472a7a 100%)"></i>
<i style="left:323.9px;width:3px;background:linear-gradient(#443a83 0%,#443983 3.3%,#453882 6.7%,#453882 10%,#453781 13.3%,#453581 16.7%,#453581 20%,#463480 23.3%,#463480 26.7%,#463480 30%,#463480 33.3%,#463480 36.7%,#463480 40%,#463480 43.3%,#463480 46.7%,#463480 50%,#463480 53.3%,#46337f 56.7%,#46327e 60%,#472f7d 63.3%,#472d7b 66.7%,#482979 70%,#482576 73.3%,#482475 76.7%,#482475 80%,#482475 83.3%,#482374 86.7%,#482071 90%,#481d6f 93.3%,#481d6f 96.7%,#481d6f 100%)"></i>
<i style="left:326.3px;width:3px;background:linear-gradient(#46327e 0%,#46307e 3.3%,#472f7d 6.7%,#472e7c 10%,#472d7b 13.3%,#472d7b 16.7%,#472c7a 20%,#472c7a 23.3%,#472c7a 26.7%,#472c7a 30%,#472c7a 33.3%,#472c7a 36.7%,#472c7a 40%,#472c7a 43.3%,#472c7a 46.7%,#472c7a 50%,#472c7a 53.3%,#472a7a 56.7%,#472a7a 60%,#482878 63.3%,#482475 66.7%,#481f70 70%,#481a6c 73.3%,#481a6c 76.7%,#481a6c 80%,#481a6c 83.3%,#48186a 86.7%,#481769 90%,#481769 93.3%,#481668 96.7%,#481668 100%)"></i>
<i style="left:328.6px;width:3px;background:linear-gradient(#472c7a 0%,#472a7a 3.3%,#482979 6.7%,#482979 10%,#482878 13.3%,#482677 16.7%,#482677 20%,#482576 23.3%,#482576 26.7%,#482576 30%,#482576 33.3%,#482576 36.7%,#482576 40%,#482576 43.3%,#482576 46.7%,#482576 50%,#482576 53.3%,#482576 56.7%,#482576 60%,#482475 63.3%,#482071 66.7%,#481a6c 70%,#481668 73.3%,#481467 76.7%,#481467 80%,#481467 83.3%,#481467 86.7%,#481467 90%,#481467 93.3%,#481467 96.7%,#481467 100%)"></i>
</div>
<div class="hm" style="left:1663.3px;top:413px;width:331px;height:301.5px">
<i style="left:0px;width:4.6px;background:linear-gradient(#93d741 0%,#93d741 6.7%,#8ed645 13.3%,#8bd646 20%,#86d549 26.7%,#84d44b 33.3%,#7cd250 40%,#77d153 46.7%,#70cf57 53.3%,#69cd5b 60%,#63cb5f 66.7%,#5ac864 73.3%,#50c46a 80%,#35b779 86.7%,#21918c 93.3%,#2e6e8e 100%)"></i>
<i style="left:4px;width:4.6px;background:linear-gradient(#93d741 0%,#90d743 6.7%,#8ed645 13.3%,#8bd646 20%,#86d549 26.7%,#81d34d 33.3%,#7cd250 40%,#75d054 46.7%,#70cf57 53.3%,#67cc5c 60%,#60ca60 66.7%,#5ac864 73.3%,#4ec36b 80%,#34b679 86.7%,#21908d 93.3%,#2e6d8e 100%)"></i>
<i style="left:8px;width:4.6px;background:linear-gradient(#90d743 0%,#90d743 6.7%,#8ed645 13.3%,#89d548 20%,#86d549 26.7%,#81d34d 33.3%,#7cd250 40%,#75d054 46.7%,#6ece58 53.3%,#67cc5c 60%,#60ca60 66.7%,#58c765 73.3%,#4cc26c 80%,#32b67a 86.7%,#218f8d 93.3%,#2e6d8e 100%)"></i>
<i style="left:12px;width:4.6px;background:linear-gradient(#90d743 0%,#8ed645 6.7%,#8bd646 13.3%,#89d548 20%,#84d44b 26.7%,#7fd34e 33.3%,#7ad151 40%,#73d056 46.7%,#6ece58 53.3%,#65cb5e 60%,#5ec962 66.7%,#56c667 73.3%,#4ac16d 80%,#31b57b 86.7%,#218e8d 93.3%,#2f6c8e 100%)"></i>
<i style="left:15.9px;width:4.6px;background:linear-gradient(#90d743 0%,#8ed645 6.7%,#8bd646 13.3%,#86d549 20%,#84d44b 26.7%,#7fd34e 33.3%,#7ad151 40%,#73d056 46.7%,#6ccd5a 53.3%,#65cb5e 60%,#5cc863 66.7%,#54c568 73.3%,#48c16e 80%,#2eb37c 86.7%,#228d8d 93.3%,#2f6b8e 100%)"></i>
<i style="left:19.9px;width:4.6px;background:linear-gradient(#8ed645 0%,#8bd646 6.7%,#89d548 13.3%,#86d549 20%,#81d34d 26.7%,#7cd250 33.3%,#77d153 40%,#70cf57 46.7%,#69cd5b 53.3%,#63cb5f 60%,#5cc863 66.7%,#52c569 73.3%,#44bf70 80%,#2db27d 86.7%,#228c8d 93.3%,#306a8e 100%)"></i>
<i style="left:23.9px;width:4.6px;background:linear-gradient(#8ed645 0%,#8bd646 6.7%,#89d548 13.3%,#84d44b 20%,#7fd34e 26.7%,#7cd250 33.3%,#75d054 40%,#70cf57 46.7%,#69cd5b 53.3%,#60ca60 60%,#5ac864 66.7%,#50c46a 73.3%,#42be71 80%,#2cb17e 86.7%,#228b8d 93.3%,#30698e 100%)"></i>
<i style="left:27.9px;width:4.6px;background:linear-gradient(#8bd646 0%,#89d548 6.7%,#86d549 13.3%,#84d44b 20%,#7fd34e 26.7%,#7ad151 33.3%,#75d054 40%,#6ece58 46.7%,#67cc5c 53.3%,#60ca60 60%,#58c765 66.7%,#4ec36b 73.3%,#40bd72 80%,#2ab07f 86.7%,#238a8d 93.3%,#31688e 100%)"></i>
<i style="left:31.9px;width:4.6px;background:linear-gradient(#8bd646 0%,#89d548 6.7%,#84d44b 13.3%,#81d34d 20%,#7cd250 26.7%,#77d153 33.3%,#73d056 40%,#6ccd5a 46.7%,#65cb5e 53.3%,#5ec962 60%,#56c667 66.7%,#4cc26c 73.3%,#3fbc73 80%,#28ae80 86.7%,#23898e 93.3%,#31678e 100%)"></i>
<i style="left:35.9px;width:4.6px;background:linear-gradient(#89d548 0%,#86d549 6.7%,#84d44b 13.3%,#7fd34e 20%,#7cd250 26.7%,#77d153 33.3%,#73d056 40%,#6ccd5a 46.7%,#65cb5e 53.3%,#5cc863 60%,#54c568 66.7%,#4ac16d 73.3%,#3dbc74 80%,#27ad81 86.7%,#23888e 93.3%,#31668e 100%)"></i>
<i style="left:39.9px;width:4.6px;background:linear-gradient(#89d548 0%,#86d549 6.7%,#81d34d 13.3%,#7fd34e 20%,#7ad151 26.7%,#75d054 33.3%,#70cf57 40%,#69cd5b 46.7%,#63cb5f 53.3%,#5ac864 60%,#52c569 66.7%,#48c16e 73.3%,#3aba76 80%,#26ad81 86.7%,#24878e 93.3%,#32658e 100%)"></i>
<i style="left:43.9px;width:4.6px;background:linear-gradient(#86d549 0%,#84d44b 6.7%,#81d34d 13.3%,#7cd250 20%,#77d153 26.7%,#73d056 33.3%,#6ece58 40%,#67cc5c 46.7%,#60ca60 53.3%,#5ac864 60%,#50c46a 66.7%,#46c06f 73.3%,#38b977 80%,#25ab82 86.7%,#25858e 93.3%,#32648e 100%)"></i>
<i style="left:47.9px;width:4.6px;background:linear-gradient(#86d549 0%,#84d44b 6.7%,#7fd34e 13.3%,#7cd250 20%,#77d153 26.7%,#73d056 33.3%,#6ccd5a 40%,#67cc5c 46.7%,#5ec962 53.3%,#58c765 60%,#4ec36b 66.7%,#44bf70 73.3%,#37b878 80%,#24aa83 86.7%,#25848e 93.3%,#33638d 100%)"></i>
<i style="left:51.8px;width:4.6px;background:linear-gradient(#84d44b 0%,#81d34d 6.7%,#7fd34e 13.3%,#7ad151 20%,#75d054 26.7%,#70cf57 33.3%,#6ccd5a 40%,#65cb5e 46.7%,#5ec962 53.3%,#56c667 60%,#4cc26c 66.7%,#42be71 73.3%,#35b779 80%,#22a884 86.7%,#25838e 93.3%,#33628d 100%)"></i>
<i style="left:55.8px;width:4.6px;background:linear-gradient(#84d44b 0%,#81d34d 6.7%,#7cd250 13.3%,#77d153 20%,#73d056 26.7%,#6ece58 33.3%,#69cd5b 40%,#63cb5f 46.7%,#5cc863 53.3%,#54c568 60%,#4ac16d 66.7%,#40bd72 73.3%,#32b67a 80%,#22a785 86.7%,#26828e 93.3%,#34618d 100%)"></i>
<i style="left:59.8px;width:4.6px;background:linear-gradient(#81d34d 0%,#7fd34e 6.7%,#7ad151 13.3%,#77d153 20%,#73d056 26.7%,#6ece58 33.3%,#67cc5c 40%,#60ca60 46.7%,#5ac864 53.3%,#52c569 60%,#48c16e 66.7%,#3dbc74 73.3%,#31b57b 80%,#21a585 86.7%,#26828e 93.3%,#34608d 100%)"></i>
<i style="left:63.8px;width:4.6px;background:linear-gradient(#81d34d 0%,#7cd250 6.7%,#7ad151 13.3%,#75d054 20%,#70cf57 26.7%,#6ccd5a 33.3%,#65cb5e 40%,#60ca60 46.7%,#58c765 53.3%,#50c46a 60%,#46c06f 66.7%,#3bbb75 73.3%,#2eb37c 80%,#20a486 86.7%,#26818e 93.3%,#355f8d 100%)"></i>
<i style="left:67.8px;width:4.6px;background:linear-gradient(#7fd34e 0%,#7cd250 6.7%,#77d153 13.3%,#73d056 20%,#6ece58 26.7%,#69cd5b 33.3%,#65cb5e 40%,#5ec962 46.7%,#56c667 53.3%,#4ec36b 60%,#44bf70 66.7%,#3aba76 73.3%,#2db27d 80%,#1fa287 86.7%,#277f8e 93.3%,#355e8d 100%)"></i>
<i style="left:71.8px;width:4.6px;background:linear-gradient(#7fd34e 0%,#7ad151 6.7%,#77d153 13.3%,#73d056 20%,#6ece58 26.7%,#67cc5c 33.3%,#63cb5f 40%,#5cc863 46.7%,#54c568 53.3%,#4cc26c 60%,#42be71 66.7%,#38b977 73.3%,#2ab07f 80%,#1fa187 86.7%,#277e8e 93.3%,#365d8d 100%)"></i>
<i style="left:75.8px;width:4.6px;background:linear-gradient(#7cd250 0%,#7ad151 6.7%,#75d054 13.3%,#70cf57 20%,#6ccd5a 26.7%,#67cc5c 33.3%,#60ca60 40%,#5ac864 46.7%,#52c569 53.3%,#4ac16d 60%,#40bd72 66.7%,#35b779 73.3%,#29af7f 80%,#1fa088 86.7%,#287d8e 93.3%,#365c8d 100%)"></i>
<i style="left:79.8px;width:4.6px;background:linear-gradient(#7ad151 0%,#77d153 6.7%,#73d056 13.3%,#6ece58 20%,#69cd5b 26.7%,#65cb5e 33.3%,#5ec962 40%,#58c765 46.7%,#50c46a 53.3%,#48c16e 60%,#3fbc73 66.7%,#34b679 73.3%,#27ad81 80%,#1f9f88 86.7%,#287c8e 93.3%,#375a8c 100%)"></i>
<i style="left:83.8px;width:4.6px;background:linear-gradient(#7ad151 0%,#75d054 6.7%,#73d056 13.3%,#6ece58 20%,#67cc5c 26.7%,#63cb5f 33.3%,#5cc863 40%,#56c667 46.7%,#4ec36b 53.3%,#46c06f 60%,#3dbc74 66.7%,#32b67a 73.3%,#26ad81 80%,#1e9d89 86.7%,#297a8e 93.3%,#38598c 100%)"></i>
<i style="left:87.7px;width:4.6px;background:linear-gradient(#77d153 0%,#75d054 6.7%,#70cf57 13.3%,#6ccd5a 20%,#67cc5c 26.7%,#60ca60 33.3%,#5ac864 40%,#54c568 46.7%,#4cc26c 53.3%,#44bf70 60%,#3aba76 66.7%,#2fb47c 73.3%,#25ab82 80%,#1e9b8a 86.7%,#29798e 93.3%,#38588c 100%)"></i>
<i style="left:91.7px;width:4.6px;background:linear-gradient(#77d153 0%,#73d056 6.7%,#6ece58 13.3%,#69cd5b 20%,#65cb5e 26.7%,#5ec962 33.3%,#5ac864 40%,#52c569 46.7%,#4ac16d 53.3%,#42be71 60%,#38b977 66.7%,#2eb37c 73.3%,#24aa83 80%,#1f9a8a 86.7%,#2a788e 93.3%,#39568c 100%)"></i>
<i style="left:95.7px;width:4.6px;background:linear-gradient(#75d054 0%,#73d056 6.7%,#6ece58 13.3%,#67cc5c 20%,#63cb5f 26.7%,#5cc863 33.3%,#58c765 40%,#50c46a 46.7%,#48c16e 53.3%,#3fbc73 60%,#37b878 66.7%,#2cb17e 73.3%,#22a884 80%,#1f988b 86.7%,#2a768e 93.3%,#39558c 100%)"></i>
<i style="left:99.7px;width:4.6px;background:linear-gradient(#75d054 0%,#70cf57 6.7%,#6ccd5a 13.3%,#67cc5c 20%,#60ca60 26.7%,#5ac864 33.3%,#54c568 40%,#4ec36b 46.7%,#46c06f 53.3%,#3dbc74 60%,#34b679 66.7%,#2ab07f 73.3%,#21a685 80%,#1f968b 86.7%,#2b758e 93.3%,#3a538b 100%)"></i>
<i style="left:103.7px;width:4.6px;background:linear-gradient(#73d056 0%,#6ece58 6.7%,#69cd5b 13.3%,#65cb5e 20%,#5ec962 26.7%,#58c765 33.3%,#52c569 40%,#4cc26c 46.7%,#44bf70 53.3%,#3bbb75 60%,#32b67a 66.7%,#28ae80 73.3%,#20a486 80%,#1f948c 86.7%,#2c738e 93.3%,#3b528b 100%)"></i>
<i style="left:107.7px;width:4.6px;background:linear-gradient(#70cf57 0%,#6ece58 6.7%,#67cc5c 13.3%,#63cb5f 20%,#5cc863 26.7%,#56c667 33.3%,#50c46a 40%,#4ac16d 46.7%,#42be71 53.3%,#38b977 60%,#2fb47c 66.7%,#26ad81 73.3%,#20a386 80%,#20928c 86.7%,#2c728e 93.3%,#3b518b 100%)"></i>
<i style="left:111.7px;width:4.6px;background:linear-gradient(#70cf57 0%,#6ccd5a 6.7%,#67cc5c 13.3%,#60ca60 20%,#5ac864 26.7%,#54c568 33.3%,#4ec36b 40%,#48c16e 46.7%,#3fbc73 53.3%,#37b878 60%,#2eb37c 66.7%,#25ab82 73.3%,#1fa187 80%,#21918c 86.7%,#2d718e 93.3%,#3c4f8a 100%)"></i>
<i style="left:115.7px;width:4.6px;background:linear-gradient(#6ece58 0%,#69cd5b 6.7%,#65cb5e 13.3%,#5ec962 20%,#58c765 26.7%,#52c569 33.3%,#4cc26c 40%,#44bf70 46.7%,#3dbc74 53.3%,#34b679 60%,#2cb17e 66.7%,#24aa83 73.3%,#1fa088 80%,#218f8d 86.7%,#2d708e 93.3%,#3d4e8a 100%)"></i>
<i style="left:119.6px;width:4.6px;background:linear-gradient(#6ece58 0%,#69cd5b 6.7%,#63cb5f 13.3%,#5cc863 20%,#56c667 26.7%,#50c46a 33.3%,#4ac16d 40%,#42be71 46.7%,#3aba76 53.3%,#32b67a 60%,#29af7f 66.7%,#22a884 73.3%,#1f9e89 80%,#228d8d 86.7%,#2e6e8e 93.3%,#3d4d8a 100%)"></i>
<i style="left:123.6px;width:4.6px;background:linear-gradient(#6ccd5a 0%,#67cc5c 6.7%,#60ca60 13.3%,#5ac864 20%,#54c568 26.7%,#4ec36b 33.3%,#48c16e 40%,#40bd72 46.7%,#38b977 53.3%,#2fb47c 60%,#28ae80 66.7%,#21a685 73.3%,#1e9c89 80%,#228b8d 86.7%,#2e6d8e 93.3%,#3e4a89 100%)"></i>
<i style="left:127.6px;width:4.6px;background:linear-gradient(#6ccd5a 0%,#65cb5e 6.7%,#5ec962 13.3%,#58c765 20%,#52c569 26.7%,#4cc26c 33.3%,#44bf70 40%,#3dbc74 46.7%,#37b878 53.3%,#2eb37c 60%,#26ad81 66.7%,#20a486 73.3%,#1f9a8a 80%,#23898e 86.7%,#2f6b8e 93.3%,#3e4989 100%)"></i>
<i style="left:131.6px;width:4.6px;background:linear-gradient(#69cd5b 0%,#63cb5f 6.7%,#5ec962 13.3%,#58c765 20%,#50c46a 26.7%,#4ac16d 33.3%,#42be71 40%,#3bbb75 46.7%,#34b679 53.3%,#2cb17e 60%,#25ab82 66.7%,#1fa287 73.3%,#1f988b 80%,#24878e 86.7%,#30698e 93.3%,#3f4788 100%)"></i>
<i style="left:135.6px;width:4.6px;background:linear-gradient(#67cc5c 0%,#63cb5f 6.7%,#5cc863 13.3%,#56c667 20%,#4ec36b 26.7%,#48c16e 33.3%,#40bd72 40%,#3aba76 46.7%,#32b67a 53.3%,#2ab07f 60%,#23a983 66.7%,#1fa188 73.3%,#1f968b 80%,#25858e 86.7%,#31688e 93.3%,#404688 100%)"></i>
<i style="left:139.6px;width:4.6px;background:linear-gradient(#67cc5c 0%,#60ca60 6.7%,#5ac864 13.3%,#54c568 20%,#4cc26c 26.7%,#44bf70 33.3%,#3fbc73 40%,#37b878 46.7%,#2fb47c 53.3%,#28ae80 60%,#22a884 66.7%,#1f9f88 73.3%,#1f948c 80%,#25838e 86.7%,#31668e 93.3%,#414487 100%)"></i>
<i style="left:143.6px;width:4.6px;background:linear-gradient(#65cb5e 0%,#5ec962 6.7%,#58c765 13.3%,#52c569 20%,#4ac16d 26.7%,#42be71 33.3%,#3bbb75 40%,#35b779 46.7%,#2eb37c 53.3%,#27ad81 60%,#21a685 66.7%,#1f9e89 73.3%,#20928c 80%,#26828e 86.7%,#32658e 93.3%,#414287 100%)"></i>
<i style="left:147.6px;width:4.6px;background:linear-gradient(#63cb5f 0%,#5cc863 6.7%,#56c667 13.3%,#50c46a 20%,#48c16e 26.7%,#40bd72 33.3%,#3aba76 40%,#34b679 46.7%,#2cb17e 53.3%,#25ac82 60%,#20a486 66.7%,#1e9c89 73.3%,#21918c 80%,#27808e 86.7%,#33638d 93.3%,#424186 100%)"></i>
<i style="left:151.5px;width:4.6px;background:linear-gradient(#63cb5f 0%,#5cc863 6.7%,#54c568 13.3%,#4ec36b 20%,#46c06f 26.7%,#3fbc73 33.3%,#38b977 40%,#31b57b 46.7%,#2ab07f 53.3%,#24aa83 60%,#20a386 66.7%,#1f9a8a 73.3%,#218f8d 80%,#277e8e 86.7%,#34618d 93.3%,#423f85 100%)"></i>
<i style="left:155.5px;width:4.6px;background:linear-gradient(#60ca60 0%,#5ac864 6.7%,#52c569 13.3%,#4cc26c 20%,#44bf70 26.7%,#3dbc74 33.3%,#37b878 40%,#2fb47c 46.7%,#29af7f 53.3%,#23a983 60%,#1fa187 66.7%,#1f988b 73.3%,#228d8d 80%,#287c8e 86.7%,#34608d 93.3%,#433e85 100%)"></i>
<i style="left:159.5px;width:4.6px;background:linear-gradient(#5ec962 0%,#58c765 6.7%,#52c569 13.3%,#4ac16d 20%,#42be71 26.7%,#3bbb75 33.3%,#35b779 40%,#2eb37c 46.7%,#27ad81 53.3%,#22a785 60%,#1fa088 66.7%,#1f968b 73.3%,#228b8d 80%,#297a8e 86.7%,#355e8d 93.3%,#443b84 100%)"></i>
<i style="left:163.5px;width:4.6px;background:linear-gradient(#5ec962 0%,#56c667 6.7%,#50c46a 13.3%,#48c16e 20%,#40bd72 26.7%,#3aba76 33.3%,#32b67a 40%,#2db27d 46.7%,#26ad81 53.3%,#21a685 60%,#1f9f88 66.7%,#1f948c 73.3%,#23898e 80%,#2a788e 86.7%,#365d8d 93.3%,#443a83 100%)"></i>
<i style="left:167.5px;width:4.6px;background:linear-gradient(#5cc863 0%,#54c568 6.7%,#4ec36b 13.3%,#46c06f 20%,#3fbc73 26.7%,#38b977 33.3%,#31b57b 40%,#2ab07f 46.7%,#25ab82 53.3%,#21a585 60%,#1e9d89 66.7%,#20938c 73.3%,#24878e 80%,#2a768e 86.7%,#375b8d 93.3%,#443983 100%)"></i>
<i style="left:171.5px;width:4.6px;background:linear-gradient(#5ac864 0%,#54c568 6.7%,#4cc26c 13.3%,#44bf70 20%,#3dbc74 26.7%,#35b779 33.3%,#2fb47c 40%,#29af7f 46.7%,#24aa83 53.3%,#20a386 60%,#1e9b8a 66.7%,#20928c 73.3%,#25858e 80%,#2b748e 86.7%,#38598c 93.3%,#453781 100%)"></i>
<i style="left:175.5px;width:4.6px;background:linear-gradient(#58c765 0%,#52c569 6.7%,#4ac16d 13.3%,#42be71 20%,#3bbb75 26.7%,#34b679 33.3%,#2eb37c 40%,#28ae80 46.7%,#23a983 53.3%,#1fa287 60%,#1f9a8a 66.7%,#21908d 73.3%,#25838e 80%,#2c728e 86.7%,#38588c 93.3%,#453581 100%)"></i>
<i style="left:179.5px;width:4.6px;background:linear-gradient(#56c667 0%,#50c46a 6.7%,#48c16e 13.3%,#40bd72 20%,#3aba76 26.7%,#32b67a 33.3%,#2db27d 40%,#26ad81 46.7%,#22a884 53.3%,#1fa188 60%,#1f988b 66.7%,#218e8d 73.3%,#26828e 80%,#2d718e 86.7%,#39558c 93.3%,#46337f 100%)"></i>
<i style="left:183.4px;width:4.6px;background:linear-gradient(#56c667 0%,#4ec36b 6.7%,#46c06f 13.3%,#3fbc73 20%,#37b878 26.7%,#31b57b 33.3%,#2ab07f 40%,#25ac82 46.7%,#21a685 53.3%,#1fa088 60%,#1f978b 66.7%,#228c8d 73.3%,#27808e 80%,#2e6f8e 86.7%,#3a538b 93.3%,#46327e 100%)"></i>
<i style="left:187.4px;width:4.6px;background:linear-gradient(#54c568 0%,#4cc26c 6.7%,#44bf70 13.3%,#3dbc74 20%,#35b779 26.7%,#2fb47c 33.3%,#29af7f 40%,#25ab82 46.7%,#21a585 53.3%,#1f9e89 60%,#1f958b 66.7%,#228b8d 73.3%,#277e8e 80%,#2e6d8e 86.7%,#3b528b 93.3%,#472f7d 100%)"></i>
<i style="left:191.4px;width:4.6px;background:linear-gradient(#52c569 0%,#4ac16d 6.7%,#42be71 13.3%,#3bbb75 20%,#34b679 26.7%,#2eb37c 33.3%,#28ae80 40%,#24aa83 46.7%,#20a486 53.3%,#1e9d89 60%,#20938c 66.7%,#23898e 73.3%,#287c8e 80%,#2f6b8e 86.7%,#3c508b 93.3%,#472e7c 100%)"></i>
<i style="left:195.4px;width:4.6px;background:linear-gradient(#50c46a 0%,#48c16e 6.7%,#40bd72 13.3%,#3aba76 20%,#32b67a 26.7%,#2cb17e 33.3%,#27ad81 40%,#22a884 46.7%,#1fa287 53.3%,#1e9b8a 60%,#20928c 66.7%,#24878e 73.3%,#297a8e 80%,#30698e 86.7%,#3d4e8a 93.3%,#472c7a 100%)"></i>
<i style="left:199.4px;width:4.6px;background:linear-gradient(#4ec36b 0%,#46c06f 6.7%,#3fbc73 13.3%,#38b977 20%,#31b57b 26.7%,#2ab07f 33.3%,#25ac82 40%,#22a785 46.7%,#1fa187 53.3%,#1f9a8a 60%,#21918c 66.7%,#25858e 73.3%,#2a788e 80%,#31678e 86.7%,#3e4c8a 93.3%,#472a7a 100%)"></i>
<i style="left:203.4px;width:4.6px;background:linear-gradient(#4cc26c 0%,#44bf70 6.7%,#3dbc74 13.3%,#37b878 20%,#2fb47c 26.7%,#29af7f 33.3%,#25ab82 40%,#21a685 46.7%,#1fa188 53.3%,#1f998a 60%,#21908d 66.7%,#25838e 73.3%,#2a768e 80%,#32658e 86.7%,#3e4a89 93.3%,#482878 100%)"></i>
<i style="left:207.4px;width:4.6px;background:linear-gradient(#4ac16d 0%,#42be71 6.7%,#3bbb75 13.3%,#34b679 20%,#2eb37c 26.7%,#28ae80 33.3%,#24aa83 40%,#21a585 46.7%,#1f9f88 53.3%,#1f978b 60%,#218e8d 66.7%,#26828e 73.3%,#2b748e 80%,#33638d 86.7%,#3f4889 93.3%,#482677 100%)"></i>
<i style="left:211.4px;width:4.6px;background:linear-gradient(#48c16e 0%,#40bd72 6.7%,#3aba76 13.3%,#32b67a 20%,#2db27d 26.7%,#27ad81 33.3%,#23a983 40%,#20a386 46.7%,#1f9e89 53.3%,#1f968b 60%,#228c8d 66.7%,#26818e 73.3%,#2c728e 80%,#34618d 86.7%,#404688 93.3%,#482576 100%)"></i>
<i style="left:215.3px;width:4.6px;background:linear-gradient(#46c06f 0%,#3fbc73 6.7%,#38b977 13.3%,#31b57b 20%,#2ab07f 26.7%,#26ad81 33.3%,#22a884 40%,#1fa287 46.7%,#1e9d89 53.3%,#1f948c 60%,#228b8d 66.7%,#277f8e 73.3%,#2d718e 80%,#355f8d 86.7%,#404588 93.3%,#482374 100%)"></i>
<i style="left:219.3px;width:4.6px;background:linear-gradient(#44bf70 0%,#3dbc74 6.7%,#37b878 13.3%,#2fb47c 20%,#29af7f 26.7%,#25ab82 33.3%,#21a685 40%,#1fa187 46.7%,#1e9b8a 53.3%,#20938c 60%,#23898e 66.7%,#287d8e 73.3%,#2e6f8e 80%,#365d8d 86.7%,#414287 93.3%,#482173 100%)"></i>
<i style="left:223.3px;width:4.6px;background:linear-gradient(#44bf70 0%,#3bbb75 6.7%,#35b779 13.3%,#2eb37c 20%,#28ae80 26.7%,#24aa83 33.3%,#21a585 40%,#1fa188 46.7%,#1f9a8a 53.3%,#20928c 60%,#23888e 66.7%,#297b8e 73.3%,#2e6d8e 80%,#375b8d 86.7%,#424086 93.3%,#481f70 100%)"></i>
<i style="left:227.3px;width:4.6px;background:linear-gradient(#42be71 0%,#3aba76 6.7%,#34b679 13.3%,#2db27d 20%,#27ad81 26.7%,#23a983 33.3%,#20a486 40%,#1f9f88 46.7%,#1f998a 53.3%,#21918c 60%,#24868e 66.7%,#297a8e 73.3%,#2f6b8e 80%,#38598c 86.7%,#423f85 93.3%,#481d6f 100%)"></i>
<i style="left:231.3px;width:4.6px;background:linear-gradient(#40bd72 0%,#38b977 6.7%,#32b67a 13.3%,#2cb17e 20%,#26ad81 26.7%,#22a884 33.3%,#20a386 40%,#1f9e89 46.7%,#1f978b 53.3%,#21908d 60%,#25848e 66.7%,#2a788e 73.3%,#30698e 80%,#39568c 86.7%,#433d84 93.3%,#481c6e 100%)"></i>
<i style="left:235.3px;width:4.6px;background:linear-gradient(#3fbc73 0%,#38b977 6.7%,#31b57b 13.3%,#2ab07f 20%,#25ac82 26.7%,#22a785 33.3%,#1fa287 40%,#1e9d89 46.7%,#1f968b 53.3%,#218e8d 60%,#25838e 66.7%,#2a768e 73.3%,#31688e 80%,#39558c 86.7%,#443a83 93.3%,#481b6d 100%)"></i>
<i style="left:239.3px;width:4.6px;background:linear-gradient(#3dbc74 0%,#37b878 6.7%,#2fb47c 13.3%,#29af7f 20%,#25ab82 26.7%,#21a685 33.3%,#1fa188 40%,#1e9b8a 46.7%,#1f958b 53.3%,#228d8d 60%,#26828e 66.7%,#2b748e 73.3%,#31668e 80%,#3a538b 86.7%,#443983 93.3%,#481a6c 100%)"></i>
<i style="left:243.3px;width:4.6px;background:linear-gradient(#3bbb75 0%,#35b779 6.7%,#2eb37c 13.3%,#28ae80 20%,#24aa83 26.7%,#20a486 33.3%,#1fa088 40%,#1f9a8a 46.7%,#20938c 53.3%,#228b8d 60%,#26818e 66.7%,#2c738e 73.3%,#32648e 80%,#3b518b 86.7%,#453781 93.3%,#48186a 100%)"></i>
<i style="left:247.2px;width:4.6px;background:linear-gradient(#3aba76 0%,#34b679 6.7%,#2db27d 13.3%,#27ad81 20%,#23a983 26.7%,#20a386 33.3%,#1f9f88 40%,#1f998a 46.7%,#20928c 53.3%,#238a8d 60%,#277f8e 66.7%,#2c718e 73.3%,#33628d 80%,#3c4f8a 86.7%,#453581 93.3%,#481769 100%)"></i>
<i style="left:251.2px;width:4.6px;background:linear-gradient(#3aba76 0%,#32b67a 6.7%,#2cb17e 13.3%,#26ad81 20%,#22a884 26.7%,#1fa287 33.3%,#1f9e89 40%,#1f988b 46.7%,#20928c 53.3%,#23888e 60%,#277e8e 66.7%,#2d708e 73.3%,#34608d 80%,#3d4d8a 86.7%,#46337f 93.3%,#481668 100%)"></i>
<i style="left:255.2px;width:4.6px;background:linear-gradient(#38b977 0%,#31b57b 6.7%,#2ab07f 13.3%,#25ac82 20%,#22a785 26.7%,#1fa187 33.3%,#1e9d89 40%,#1f978b 46.7%,#21908d 53.3%,#24878e 60%,#287c8e 66.7%,#2e6f8e 73.3%,#355f8d 80%,#3e4c8a 86.7%,#46327e 93.3%,#481467 100%)"></i>
<i style="left:259.2px;width:4.6px;background:linear-gradient(#37b878 0%,#2fb47c 6.7%,#29af7f 13.3%,#25ab82 20%,#21a685 26.7%,#1fa188 33.3%,#1e9b8a 40%,#1f958b 46.7%,#218f8d 53.3%,#24868e 60%,#297a8e 66.7%,#2e6d8e 73.3%,#365d8d 80%,#3e4989 86.7%,#472f7d 93.3%,#471365 100%)"></i>
<i style="left:263.2px;width:4.6px;background:linear-gradient(#35b779 0%,#2fb47c 6.7%,#29af7f 13.3%,#24aa83 20%,#21a585 26.7%,#1fa088 33.3%,#1f9a8a 40%,#1f948c 46.7%,#218e8d 53.3%,#25848e 60%,#29798e 66.7%,#2f6b8e 73.3%,#375b8d 80%,#3f4788 86.7%,#472e7c 93.3%,#471164 100%)"></i>
<i style="left:267.2px;width:4.6px;background:linear-gradient(#34b679 0%,#2eb37c 6.7%,#28ae80 13.3%,#23a983 20%,#20a486 26.7%,#1f9f88 33.3%,#1f998a 40%,#20938c 46.7%,#228c8d 53.3%,#25838e 60%,#2a778e 66.7%,#306a8e 73.3%,#375a8c 80%,#404688 86.7%,#472c7a 93.3%,#471063 100%)"></i>
<i style="left:271.2px;width:4.6px;background:linear-gradient(#34b679 0%,#2db27d 6.7%,#27ad81 13.3%,#22a884 20%,#20a386 26.7%,#1f9e89 33.3%,#1f988b 40%,#20928c 46.7%,#228b8d 53.3%,#26828e 60%,#2a768e 66.7%,#31688e 73.3%,#38588c 80%,#414487 86.7%,#472a7a 93.3%,#470e61 100%)"></i>
<i style="left:275.2px;width:4.6px;background:linear-gradient(#32b67a 0%,#2cb17e 6.7%,#26ad81 13.3%,#22a785 20%,#1fa287 26.7%,#1e9d89 33.3%,#1f978b 40%,#21918c 46.7%,#238a8d 53.3%,#26818e 60%,#2b748e 66.7%,#31668e 73.3%,#39558c 80%,#424186 86.7%,#482878 93.3%,#470d60 100%)"></i>
<i style="left:279.2px;width:4.6px;background:linear-gradient(#31b57b 0%,#2ab07f 6.7%,#25ac82 13.3%,#22a785 20%,#1fa187 26.7%,#1e9c89 33.3%,#1f968b 40%,#21908d 46.7%,#23888e 53.3%,#277f8e 60%,#2c738e 66.7%,#32658e 73.3%,#3a548c 80%,#424086 86.7%,#482677 93.3%,#460b5e 100%)"></i>
<i style="left:283.1px;width:4.6px;background:linear-gradient(#2fb47c 0%,#29af7f 6.7%,#25ab82 13.3%,#21a685 20%,#1fa188 26.7%,#1e9b8a 33.3%,#1f958b 40%,#218f8d 46.7%,#24878e 53.3%,#277e8e 60%,#2c718e 66.7%,#33638d 73.3%,#3b528b 80%,#433e85 86.7%,#482475 93.3%,#460b5e 100%)"></i>
<i style="left:287.1px;width:4.6px;background:linear-gradient(#2fb47c 0%,#29af7f 6.7%,#24aa83 13.3%,#21a585 20%,#1fa088 26.7%,#1f9a8a 33.3%,#20938c 40%,#218e8d 46.7%,#24868e 53.3%,#287d8e 60%,#2d718e 66.7%,#33628d 73.3%,#3c508b 80%,#433d84 86.7%,#482374 93.3%,#460a5d 100%)"></i>
<i style="left:291.1px;width:4.6px;background:linear-gradient(#2eb37c 0%,#28ae80 6.7%,#24aa83 13.3%,#20a486 20%,#1f9f88 26.7%,#1f998a 33.3%,#20928c 40%,#228c8d 46.7%,#25848e 53.3%,#297b8e 60%,#2e6f8e 66.7%,#34608d 73.3%,#3c4f8a 80%,#443a83 86.7%,#482071 93.3%,#46085c 100%)"></i>
<i style="left:295.1px;width:4.6px;background:linear-gradient(#2db27d 0%,#27ad81 6.7%,#23a983 13.3%,#20a386 20%,#1f9e89 26.7%,#1f988b 33.3%,#20928c 40%,#228b8d 46.7%,#25838e 53.3%,#297a8e 60%,#2e6e8e 66.7%,#355e8d 73.3%,#3d4d8a 80%,#453882 86.7%,#481f70 93.3%,#46075a 100%)"></i>
<i style="left:299.1px;width:4.6px;background:linear-gradient(#2cb17e 0%,#26ad81 6.7%,#22a884 13.3%,#1fa287 20%,#1e9d89 26.7%,#1f968b 33.3%,#21918c 40%,#238a8d 46.7%,#26828e 53.3%,#2a788e 60%,#2f6c8e 66.7%,#365d8d 73.3%,#3e4a89 80%,#453781 86.7%,#481d6f 93.3%,#46075a 100%)"></i>
<i style="left:303.1px;width:4.6px;background:linear-gradient(#2cb17e 0%,#26ad81 6.7%,#22a785 13.3%,#1fa187 20%,#1e9c89 26.7%,#1f958b 33.3%,#21908d 40%,#23898e 46.7%,#26818e 53.3%,#2a778e 60%,#2f6b8e 66.7%,#375b8d 73.3%,#3e4989 80%,#463480 86.7%,#481b6d 93.3%,#450559 100%)"></i>
<i style="left:307.1px;width:4.6px;background:linear-gradient(#2ab07f 0%,#25ac82 6.7%,#21a685 13.3%,#1fa188 20%,#1e9b8a 26.7%,#1f948c 33.3%,#218f8d 40%,#24878e 46.7%,#27808e 53.3%,#2b758e 60%,#30698e 66.7%,#375a8c 73.3%,#3f4788 80%,#46337f 86.7%,#481a6c 93.3%,#450457 100%)"></i>
<i style="left:311.1px;width:4.6px;background:linear-gradient(#29af7f 0%,#25ab82 6.7%,#21a585 13.3%,#1fa088 20%,#1f9a8a 26.7%,#20938c 33.3%,#218e8d 40%,#24868e 46.7%,#277f8e 53.3%,#2b748e 60%,#31688e 66.7%,#38588c 73.3%,#404688 80%,#46307e 86.7%,#481769 93.3%,#450457 100%)"></i>
<i style="left:315.1px;width:4.6px;background:linear-gradient(#29af7f 0%,#24aa83 6.7%,#21a585 13.3%,#1f9f88 20%,#1f998a 26.7%,#20928c 33.3%,#228d8d 40%,#25858e 46.7%,#287d8e 53.3%,#2c738e 60%,#31668e 66.7%,#39568c 73.3%,#414487 80%,#472f7d 86.7%,#481668 93.3%,#440256 100%)"></i>
<i style="left:319px;width:4.6px;background:linear-gradient(#28ae80 0%,#24aa83 6.7%,#20a486 13.3%,#1f9f88 20%,#1f988b 26.7%,#20928c 33.3%,#228b8d 40%,#25848e 46.7%,#287c8e 53.3%,#2c718e 60%,#32658e 66.7%,#3a548c 73.3%,#414287 80%,#472d7b 86.7%,#481467 93.3%,#440256 100%)"></i>
<i style="left:323px;width:4.6px;background:linear-gradient(#27ad81 0%,#23a983 6.7%,#20a386 13.3%,#1f9e89 20%,#1f978b 26.7%,#21918c 33.3%,#238a8d 40%,#25838e 46.7%,#297b8e 53.3%,#2d718e 60%,#33638d 66.7%,#3a538b 73.3%,#424086 80%,#472c7a 86.7%,#471164 93.3%,#440154 100%)"></i>
<i style="left:327px;width:4.6px;background:linear-gradient(#27ad81 0%,#22a884 6.7%,#1fa287 13.3%,#1e9d89 20%,#1f968b 26.7%,#21908d 33.3%,#23898e 40%,#26828e 46.7%,#29798e 53.3%,#2e6f8e 60%,#33628d 66.7%,#3b518b 73.3%,#423f85 80%,#472a7a 86.7%,#471063 93.3%,#440154 100%)"></i>
</div>
<div class="hm" style="left:2014.5px;top:15px;width:15.7px;height:301.7px;background:linear-gradient(#fde725 0%,#d8e219 6.2%,#addc30 12.5%,#84d44b 18.8%,#5ec962 25%,#3fbc73 31.2%,#28ae80 37.5%,#1fa088 43.8%,#21918c 50%,#26828e 56.2%,#2c728e 62.5%,#33638d 68.8%,#3b528b 75%,#424086 81.2%,#472d7b 87.5%,#48186a 93.8%,#440154 100%)"></div>
<div class="hm" style="left:2014.5px;top:413px;width:15.7px;height:301.5px;background:linear-gradient(#fde725 0%,#d8e219 6.2%,#addc30 12.5%,#84d44b 18.8%,#5ec962 25%,#3fbc73 31.2%,#28ae80 37.5%,#1fa088 43.8%,#21918c 50%,#26828e 56.2%,#2c728e 62.5%,#33638d 68.8%,#3b528b 75%,#424086 81.2%,#472d7b 87.5%,#48186a 93.8%,#440154 100%)"></div>
<svg class="L" width="2101" height="762" viewBox="0 0 2101 762">
<svg x="470.0" y="320.9" width="151.5" height="138.7" viewBox="470.0 320.9 151.5 138.7" overflow="hidden"><path d="M470.0,459.6L470.9,460.5M470.0,445.7L470.9,446.8M470.0,431.9L470.9,433.4M470.0,418.0L471.0,420.5M470.0,404.1L470.8,408.4M470.0,390.2L470.0,397.0M470.0,376.4L468.0,386.2M470.0,362.5L464.5,376.2M470.0,348.6L461.8,362.4M470.0,334.8L460.0,347.3M470.0,320.9L458.7,332.2M485.1,459.6L486.2,460.4M485.1,445.7L486.1,446.6M485.1,431.9L485.9,432.9M485.1,418.0L485.8,419.4M485.1,404.1L485.6,406.1M485.1,390.2L485.1,393.2M485.1,376.4L484.1,380.7M485.1,362.5L482.0,368.8M485.1,348.6L478.2,357.9M485.1,334.8L473.8,346.1M485.1,320.9L472.7,330.9M500.3,459.6L501.4,460.3M500.3,445.7L501.3,446.5M500.3,431.9L501.2,432.8M500.3,418.0L501.0,419.1M500.3,404.1L500.7,405.4M500.3,390.2L500.3,391.6M500.3,376.4L499.8,377.9M500.3,362.5L498.8,364.8M500.3,348.6L496.3,352.7M500.3,334.8L491.0,341.7M500.3,320.9L486.6,329.1M515.5,459.6L516.9,460.2M515.5,445.7L516.6,446.3M515.5,431.9L516.5,432.6M515.5,418.0L516.4,418.9M515.5,404.1L516.0,405.3M515.5,390.2L515.5,391.6M515.5,376.4L514.9,377.5M515.5,362.5L514.5,363.4M515.5,348.6L513.1,350.2M515.5,334.8L509.2,337.9M515.5,320.9L501.7,326.4M530.6,459.6L532.7,460.0M530.6,445.7L531.9,446.0M530.6,431.9L531.8,432.3M530.6,418.0L531.8,418.6M530.6,404.1L531.5,405.0M530.6,390.2L530.6,391.6M530.6,376.4L529.7,377.3M530.6,362.5L529.4,363.1M530.6,348.6L529.1,349.1M530.6,334.8L526.3,335.9M530.6,320.9L520.8,322.9M545.8,459.6L549.0,459.6M545.8,445.7L547.2,445.7M545.8,431.9L547.0,431.9M545.8,418.0L547.0,418.0M545.8,404.1L547.0,404.1M545.8,376.4L544.5,376.4M545.8,362.5L544.5,362.5M545.8,348.6L544.4,348.6M545.8,334.8L542.8,334.8M545.8,320.9L539.0,320.9M560.9,459.6L565.7,458.6M560.9,445.7L562.7,445.3M560.9,431.9L562.1,431.4M560.9,418.0L562.1,417.4M560.9,404.1L561.8,403.2M560.9,390.2L560.9,388.9M560.9,376.4L560.0,375.5M560.9,362.5L559.7,361.9M560.9,348.6L559.7,348.2M560.9,334.8L558.9,334.3M560.9,320.9L556.7,320.1M576.0,459.6L583.1,456.8M576.0,445.7L578.6,444.4M576.0,431.9L577.1,431.1M576.0,418.0L577.0,417.1M576.0,404.1L576.6,403.0M576.0,390.2L576.0,388.9M576.0,376.4L575.5,375.2M576.0,362.5L575.1,361.6M576.0,348.6L575.0,347.9M576.0,334.8L574.7,334.1M576.0,320.9L573.5,319.9M591.2,459.6L602.1,453.1M591.2,445.7L595.4,442.6M591.2,431.9L592.7,430.4M591.2,418.0L591.9,416.9M591.2,404.1L591.6,402.9M591.2,390.2L591.2,388.9M591.2,376.4L590.8,375.1M591.2,362.5L590.5,361.4M591.2,348.6L590.3,347.7M591.2,334.8L590.1,334.0M591.2,320.9L589.7,320.0M606.4,459.6L618.8,449.6M606.4,445.7L614.1,438.0M606.4,431.9L609.5,427.6M606.4,418.0L607.6,415.4M606.4,404.1L606.8,402.3M606.4,390.2L606.4,388.8M606.4,376.4L606.0,375.1M606.4,362.5L605.8,361.3M606.4,348.6L605.6,347.6M606.4,334.8L605.4,333.9M606.4,320.9L605.3,320.0M621.5,459.6L632.8,448.3M621.5,445.7L631.5,433.2M621.5,431.9L628.0,421.0M621.5,418.0L624.3,411.0M621.5,404.1L622.5,399.3M621.5,390.2L621.5,387.0M621.5,376.4L621.1,374.3M621.5,362.5L620.9,361.1M621.5,348.6L620.8,347.5M621.5,334.8L620.7,333.8M621.5,320.9L620.6,320.0" stroke="#f0ecff" stroke-opacity="0.9" stroke-width="2.1" stroke-linecap="round" fill="none"/></svg>
<text x="468.7" y="326.5" font-family="DejaVu Sans, sans-serif" font-size="15" text-anchor="end">10</text>
<text x="468.7" y="361.2" font-family="DejaVu Sans, sans-serif" font-size="15" text-anchor="end">5</text>
<text x="468.7" y="395.9" font-family="DejaVu Sans, sans-serif" font-size="15" text-anchor="end">0</text>
<text x="468.7" y="430.5" font-family="DejaVu Sans, sans-serif" font-size="15" text-anchor="end">−5</text>
<text x="468.7" y="465.2" font-family="DejaVu Sans, sans-serif" font-size="15" text-anchor="end">−10</text>
<text x="470.0" y="471.6" font-family="DejaVu Sans, sans-serif" font-size="15" text-anchor="middle">−10</text>
<text x="545.8" y="471.6" font-family="DejaVu Sans, sans-serif" font-size="15" text-anchor="middle">0</text>
<text x="621.5" y="471.6" font-family="DejaVu Sans, sans-serif" font-size="15" text-anchor="middle">10</text>
<text x="545.8" y="490.6" font-family="DejaVu Sans, sans-serif" font-size="17.8" text-anchor="middle">a (mm)</text>
<text transform="translate(433.5,390.2) rotate(-90)" font-family="DejaVu Sans, sans-serif" font-size="17.5" text-anchor="middle">b (mm)</text>
<text x="640.8" y="465.9" font-family="DejaVu Sans, sans-serif" font-size="17.5">0</text>
<text x="640.8" y="431.2" font-family="DejaVu Sans, sans-serif" font-size="17.5">400</text>
<text x="640.8" y="396.6" font-family="DejaVu Sans, sans-serif" font-size="17.5">800</text>
<text x="640.8" y="361.9" font-family="DejaVu Sans, sans-serif" font-size="17.5">1200</text>
<text x="640.8" y="327.2" font-family="DejaVu Sans, sans-serif" font-size="17.5">1600</text>
<text transform="translate(703.5,390.2) rotate(-90)" font-family="DejaVu Sans, sans-serif" font-size="17.5" text-anchor="middle">|<tspan font-style="italic">B</tspan>| (G)</text>
<svg x="1079.5" y="33.9" width="432.0" height="280.2" viewBox="1079.5 33.9 432.0 280.2" overflow="hidden">
<path d="M1079.5,47.8 L1081.7,49.0 L1083.8,50.2 L1086.0,51.4 L1088.1,52.6 L1090.3,53.8 L1092.5,55.0 L1094.6,56.2 L1096.8,57.4 L1098.9,58.6 L1101.1,59.8 L1103.3,61.0 L1105.4,62.2 L1107.6,63.4 L1109.7,64.6 L1111.9,65.8 L1114.1,67.0 L1116.2,68.3 L1118.4,69.5 L1120.5,70.7 L1122.7,71.9 L1124.9,73.1 L1127.0,74.3 L1129.2,75.6 L1131.3,76.8 L1133.5,78.0 L1135.7,79.2 L1137.8,80.4 L1140.0,81.7 L1142.1,82.9 L1144.3,84.1 L1146.5,85.3 L1148.6,86.6 L1150.8,87.8 L1152.9,89.0 L1155.1,90.3 L1157.3,91.5 L1159.4,92.7 L1161.6,93.9 L1163.7,95.2 L1165.9,96.4 L1168.1,97.6 L1170.2,98.9 L1172.4,100.1 L1174.5,101.4 L1176.7,102.6 L1178.9,103.8 L1181.0,105.1 L1183.2,106.3 L1185.3,107.6 L1187.5,108.8 L1189.7,110.0 L1191.8,111.3 L1194.0,112.5 L1196.1,113.8 L1198.3,115.0 L1200.5,116.3 L1202.6,117.5 L1204.8,118.7 L1206.9,120.0 L1209.1,121.2 L1211.3,122.5 L1213.4,123.7 L1215.6,125.0 L1217.7,126.2 L1219.9,127.5 L1222.1,128.7 L1224.2,130.0 L1226.4,131.2 L1228.5,132.5 L1230.7,133.7 L1232.9,135.0 L1235.0,136.2 L1237.2,137.5 L1239.3,138.7 L1241.5,140.0 L1243.7,141.2 L1245.8,142.5 L1248.0,143.8 L1250.1,145.0 L1252.3,146.3 L1254.5,147.5 L1256.6,148.8 L1258.8,150.0 L1260.9,151.3 L1263.1,152.5 L1265.3,153.8 L1267.4,155.0 L1269.6,156.3 L1271.7,157.6 L1273.9,158.8 L1276.1,160.1 L1278.2,161.3 L1280.4,162.6 L1282.5,163.8 L1284.7,165.1 L1286.9,166.3 L1289.0,167.6 L1291.2,168.9 L1293.3,170.1 L1295.5,171.4 L1297.7,172.6 L1299.8,173.9 L1302.0,175.1 L1304.1,176.4 L1306.3,177.7 L1308.5,178.9 L1310.6,180.2 L1312.8,181.4 L1314.9,182.7 L1317.1,183.9 L1319.3,185.2 L1321.4,186.4 L1323.6,187.7 L1325.7,188.9 L1327.9,190.2 L1330.1,191.5 L1332.2,192.7 L1334.4,194.0 L1336.5,195.2 L1338.7,196.5 L1340.9,197.7 L1343.0,199.0 L1345.2,200.2 L1347.3,201.5 L1349.5,202.7 L1351.7,204.0 L1353.8,205.2 L1356.0,206.5 L1358.1,207.7 L1360.3,209.0 L1362.5,210.2 L1364.6,211.5 L1366.8,212.7 L1368.9,214.0 L1371.1,215.2 L1373.3,216.5 L1375.4,217.7 L1377.6,218.9 L1379.7,220.2 L1381.9,221.4 L1384.1,222.7 L1386.2,223.9 L1388.4,225.2 L1390.5,226.4 L1392.7,227.6 L1394.9,228.9 L1397.0,230.1 L1399.2,231.4 L1401.3,232.6 L1403.5,233.8 L1405.7,235.1 L1407.8,236.3 L1410.0,237.5 L1412.1,238.8 L1414.3,240.0 L1416.5,241.2 L1418.6,242.5 L1420.8,243.7 L1422.9,244.9 L1425.1,246.2 L1427.3,247.4 L1429.4,248.6 L1431.6,249.8 L1433.7,251.1 L1435.9,252.3 L1438.1,253.5 L1440.2,254.7 L1442.4,256.0 L1444.5,257.2 L1446.7,258.4 L1448.9,259.6 L1451.0,260.8 L1453.2,262.1 L1455.3,263.3 L1457.5,264.5 L1459.7,265.7 L1461.8,266.9 L1464.0,268.1 L1466.1,269.3 L1468.3,270.6 L1470.5,271.8 L1472.6,273.0 L1474.8,274.2 L1476.9,275.4 L1479.1,276.6 L1481.3,277.8 L1483.4,279.0 L1485.6,280.2 L1487.7,281.4 L1489.9,282.6 L1492.1,283.8 L1494.2,285.0 L1496.4,286.2 L1498.5,287.4 L1500.7,288.5 L1502.9,289.7 L1505.0,290.9 L1507.2,292.1 L1509.3,293.3 L1511.5,294.5" stroke="#1f77b4" stroke-width="2.3" fill="none" />
<path d="M1079.5,227.9 L1081.7,226.5 L1083.8,225.2 L1086.0,223.8 L1088.1,222.5 L1090.3,221.2 L1092.5,219.8 L1094.6,218.5 L1096.8,217.2 L1098.9,216.0 L1101.1,214.7 L1103.3,213.4 L1105.4,212.2 L1107.6,211.0 L1109.7,209.8 L1111.9,208.6 L1114.1,207.4 L1116.2,206.2 L1118.4,205.1 L1120.5,204.0 L1122.7,202.9 L1124.9,201.8 L1127.0,200.7 L1129.2,199.6 L1131.3,198.6 L1133.5,197.6 L1135.7,196.6 L1137.8,195.6 L1140.0,194.7 L1142.1,193.7 L1144.3,192.8 L1146.5,191.9 L1148.6,191.1 L1150.8,190.2 L1152.9,189.4 L1155.1,188.6 L1157.3,187.8 L1159.4,187.0 L1161.6,186.3 L1163.7,185.5 L1165.9,184.8 L1168.1,184.1 L1170.2,183.5 L1172.4,182.8 L1174.5,182.2 L1176.7,181.6 L1178.9,181.0 L1181.0,180.4 L1183.2,179.9 L1185.3,179.4 L1187.5,178.8 L1189.7,178.4 L1191.8,177.9 L1194.0,177.4 L1196.1,177.0 L1198.3,176.6 L1200.5,176.2 L1202.6,175.8 L1204.8,175.4 L1206.9,175.1 L1209.1,174.7 L1211.3,174.4 L1213.4,174.1 L1215.6,173.8 L1217.7,173.6 L1219.9,173.3 L1222.1,173.1 L1224.2,172.9 L1226.4,172.6 L1228.5,172.4 L1230.7,172.3 L1232.9,172.1 L1235.0,171.9 L1237.2,171.8 L1239.3,171.6 L1241.5,171.5 L1243.7,171.4 L1245.8,171.3 L1248.0,171.2 L1250.1,171.1 L1252.3,171.0 L1254.5,171.0 L1256.6,170.9 L1258.8,170.9 L1260.9,170.8 L1263.1,170.8 L1265.3,170.8 L1267.4,170.7 L1269.6,170.7 L1271.7,170.7 L1273.9,170.7 L1276.1,170.7 L1278.2,170.7 L1280.4,170.7 L1282.5,170.7 L1284.7,170.7 L1286.9,170.7 L1289.0,170.7 L1291.2,170.8 L1293.3,170.8 L1295.5,170.8 L1297.7,170.8 L1299.8,170.8 L1302.0,170.9 L1304.1,170.9 L1306.3,170.9 L1308.5,170.9 L1310.6,170.9 L1312.8,170.9 L1314.9,170.9 L1317.1,170.9 L1319.3,170.9 L1321.4,170.9 L1323.6,170.9 L1325.7,170.8 L1327.9,170.8 L1330.1,170.8 L1332.2,170.7 L1334.4,170.7 L1336.5,170.6 L1338.7,170.6 L1340.9,170.5 L1343.0,170.4 L1345.2,170.3 L1347.3,170.2 L1349.5,170.1 L1351.7,170.0 L1353.8,169.8 L1356.0,169.7 L1358.1,169.5 L1360.3,169.3 L1362.5,169.2 L1364.6,169.0 L1366.8,168.7 L1368.9,168.5 L1371.1,168.3 L1373.3,168.0 L1375.4,167.8 L1377.6,167.5 L1379.7,167.2 L1381.9,166.9 L1384.1,166.5 L1386.2,166.2 L1388.4,165.8 L1390.5,165.4 L1392.7,165.0 L1394.9,164.6 L1397.0,164.2 L1399.2,163.7 L1401.3,163.2 L1403.5,162.8 L1405.7,162.2 L1407.8,161.7 L1410.0,161.2 L1412.1,160.6 L1414.3,160.0 L1416.5,159.4 L1418.6,158.8 L1420.8,158.1 L1422.9,157.5 L1425.1,156.8 L1427.3,156.1 L1429.4,155.3 L1431.6,154.6 L1433.7,153.8 L1435.9,153.0 L1438.1,152.2 L1440.2,151.4 L1442.4,150.5 L1444.5,149.7 L1446.7,148.8 L1448.9,147.9 L1451.0,146.9 L1453.2,146.0 L1455.3,145.0 L1457.5,144.0 L1459.7,143.0 L1461.8,142.0 L1464.0,140.9 L1466.1,139.8 L1468.3,138.7 L1470.5,137.6 L1472.6,136.5 L1474.8,135.4 L1476.9,134.2 L1479.1,133.0 L1481.3,131.8 L1483.4,130.6 L1485.6,129.4 L1487.7,128.2 L1489.9,126.9 L1492.1,125.6 L1494.2,124.4 L1496.4,123.1 L1498.5,121.8 L1500.7,120.4 L1502.9,119.1 L1505.0,117.8 L1507.2,116.4 L1509.3,115.1 L1511.5,113.7" stroke="#ff7f0e" stroke-width="2.3" fill="none" />
<path d="M1079.5,170.8 L1081.7,170.8 L1083.8,170.8 L1086.0,170.8 L1088.1,170.8 L1090.3,170.8 L1092.5,170.8 L1094.6,170.8 L1096.8,170.8 L1098.9,170.8 L1101.1,170.8 L1103.3,170.8 L1105.4,170.8 L1107.6,170.8 L1109.7,170.8 L1111.9,170.8 L1114.1,170.8 L1116.2,170.8 L1118.4,170.8 L1120.5,170.8 L1122.7,170.8 L1124.9,170.8 L1127.0,170.8 L1129.2,170.8 L1131.3,170.8 L1133.5,170.8 L1135.7,170.8 L1137.8,170.8 L1140.0,170.8 L1142.1,170.8 L1144.3,170.8 L1146.5,170.8 L1148.6,170.8 L1150.8,170.8 L1152.9,170.8 L1155.1,170.8 L1157.3,170.8 L1159.4,170.8 L1161.6,170.8 L1163.7,170.8 L1165.9,170.8 L1168.1,170.8 L1170.2,170.8 L1172.4,170.8 L1174.5,170.8 L1176.7,170.8 L1178.9,170.8 L1181.0,170.8 L1183.2,170.8 L1185.3,170.8 L1187.5,170.8 L1189.7,170.8 L1191.8,170.8 L1194.0,170.8 L1196.1,170.8 L1198.3,170.8 L1200.5,170.8 L1202.6,170.8 L1204.8,170.8 L1206.9,170.8 L1209.1,170.8 L1211.3,170.8 L1213.4,170.8 L1215.6,170.8 L1217.7,170.8 L1219.9,170.8 L1222.1,170.8 L1224.2,170.8 L1226.4,170.8 L1228.5,170.8 L1230.7,170.8 L1232.9,170.8 L1235.0,170.8 L1237.2,170.8 L1239.3,170.8 L1241.5,170.8 L1243.7,170.8 L1245.8,170.8 L1248.0,170.8 L1250.1,170.8 L1252.3,170.8 L1254.5,170.8 L1256.6,170.8 L1258.8,170.8 L1260.9,170.8 L1263.1,170.8 L1265.3,170.8 L1267.4,170.8 L1269.6,170.8 L1271.7,170.8 L1273.9,170.8 L1276.1,170.8 L1278.2,170.8 L1280.4,170.8 L1282.5,170.8 L1284.7,170.8 L1286.9,170.8 L1289.0,170.8 L1291.2,170.8 L1293.3,170.8 L1295.5,170.8 L1297.7,170.8 L1299.8,170.8 L1302.0,170.8 L1304.1,170.8 L1306.3,170.8 L1308.5,170.8 L1310.6,170.8 L1312.8,170.8 L1314.9,170.8 L1317.1,170.8 L1319.3,170.8 L1321.4,170.8 L1323.6,170.8 L1325.7,170.8 L1327.9,170.8 L1330.1,170.8 L1332.2,170.8 L1334.4,170.8 L1336.5,170.8 L1338.7,170.8 L1340.9,170.8 L1343.0,170.8 L1345.2,170.8 L1347.3,170.8 L1349.5,170.8 L1351.7,170.8 L1353.8,170.8 L1356.0,170.8 L1358.1,170.8 L1360.3,170.8 L1362.5,170.8 L1364.6,170.8 L1366.8,170.8 L1368.9,170.8 L1371.1,170.8 L1373.3,170.8 L1375.4,170.8 L1377.6,170.8 L1379.7,170.8 L1381.9,170.8 L1384.1,170.8 L1386.2,170.8 L1388.4,170.8 L1390.5,170.8 L1392.7,170.8 L1394.9,170.8 L1397.0,170.8 L1399.2,170.8 L1401.3,170.8 L1403.5,170.8 L1405.7,170.8 L1407.8,170.8 L1410.0,170.8 L1412.1,170.8 L1414.3,170.8 L1416.5,170.8 L1418.6,170.8 L1420.8,170.8 L1422.9,170.8 L1425.1,170.8 L1427.3,170.8 L1429.4,170.8 L1431.6,170.8 L1433.7,170.8 L1435.9,170.8 L1438.1,170.8 L1440.2,170.8 L1442.4,170.8 L1444.5,170.8 L1446.7,170.8 L1448.9,170.8 L1451.0,170.8 L1453.2,170.8 L1455.3,170.8 L1457.5,170.8 L1459.7,170.8 L1461.8,170.8 L1464.0,170.8 L1466.1,170.8 L1468.3,170.8 L1470.5,170.8 L1472.6,170.8 L1474.8,170.8 L1476.9,170.8 L1479.1,170.8 L1481.3,170.8 L1483.4,170.8 L1485.6,170.8 L1487.7,170.8 L1489.9,170.8 L1492.1,170.8 L1494.2,170.8 L1496.4,170.8 L1498.5,170.8 L1500.7,170.8 L1502.9,170.8 L1505.0,170.8 L1507.2,170.8 L1509.3,170.8 L1511.5,170.8" stroke="#2ca02c" stroke-width="2.3" fill="none" />
<path d="M1079.5,266.8 L1081.7,268.7 L1083.8,270.4 L1086.0,272.1 L1088.1,273.8 L1090.3,275.3 L1092.5,276.8 L1094.6,278.1 L1096.8,279.4 L1098.9,280.6 L1101.1,281.7 L1103.3,282.7 L1105.4,283.7 L1107.6,284.7 L1109.7,285.6 L1111.9,286.6 L1114.1,287.5 L1116.2,288.5 L1118.4,289.4 L1120.5,290.3 L1122.7,291.3 L1124.9,292.2 L1127.0,293.1 L1129.2,293.9 L1131.3,294.7 L1133.5,295.5 L1135.7,296.3 L1137.8,297.1 L1140.0,297.9 L1142.1,298.7 L1144.3,299.3 L1146.5,299.9 L1148.6,300.4 L1150.8,300.7 L1152.9,300.9 L1155.1,301.1 L1157.3,301.3 L1159.4,301.4 L1161.6,301.6 L1163.7,301.7 L1165.9,301.8 L1168.1,301.9 L1170.2,302.0 L1172.4,302.0 L1174.5,302.0 L1176.7,302.0 L1178.9,302.0 L1181.0,302.0 L1183.2,302.0 L1185.3,301.9 L1187.5,301.9 L1189.7,301.9 L1191.8,301.8 L1194.0,301.8 L1196.1,301.8 L1198.3,301.7 L1200.5,301.7 L1202.6,301.6 L1204.8,301.5 L1206.9,301.4 L1209.1,301.2 L1211.3,301.0 L1213.4,300.9 L1215.6,300.7 L1217.7,300.4 L1219.9,300.2 L1222.1,300.0 L1224.2,299.8 L1226.4,299.5 L1228.5,299.3 L1230.7,299.0 L1232.9,298.7 L1235.0,298.3 L1237.2,298.0 L1239.3,297.6 L1241.5,297.2 L1243.7,296.9 L1245.8,296.5 L1248.0,296.2 L1250.1,295.9 L1252.3,295.7 L1254.5,295.5 L1256.6,295.2 L1258.8,295.0 L1260.9,294.8 L1263.1,294.6 L1265.3,294.4 L1267.4,294.2 L1269.6,294.0 L1271.7,293.9 L1273.9,293.8 L1276.1,293.6 L1278.2,293.5 L1280.4,293.4 L1282.5,293.3 L1284.7,293.2 L1286.9,293.1 L1289.0,293.0 L1291.2,292.9 L1293.3,292.9 L1295.5,292.9 L1297.7,292.9 L1299.8,292.9 L1302.0,293.0 L1304.1,293.1 L1306.3,293.2 L1308.5,293.3 L1310.6,293.4 L1312.8,293.5 L1314.9,293.6 L1317.1,293.8 L1319.3,293.9 L1321.4,294.1 L1323.6,294.2 L1325.7,294.4 L1327.9,294.6 L1330.1,294.8 L1332.2,295.1 L1334.4,295.3 L1336.5,295.5 L1338.7,295.7 L1340.9,295.9 L1343.0,296.1 L1345.2,296.4 L1347.3,296.6 L1349.5,296.8 L1351.7,297.0 L1353.8,297.2 L1356.0,297.4 L1358.1,297.7 L1360.3,297.9 L1362.5,298.1 L1364.6,298.3 L1366.8,298.5 L1368.9,298.8 L1371.1,299.0 L1373.3,299.3 L1375.4,299.6 L1377.6,299.9 L1379.7,300.2 L1381.9,300.5 L1384.1,300.8 L1386.2,301.1 L1388.4,301.3 L1390.5,301.5 L1392.7,301.7 L1394.9,301.9 L1397.0,302.0 L1399.2,302.0 L1401.3,302.0 L1403.5,302.0 L1405.7,302.0 L1407.8,302.0 L1410.0,302.0 L1412.1,302.0 L1414.3,302.0 L1416.5,302.0 L1418.6,302.0 L1420.8,302.0 L1422.9,302.0 L1425.1,301.9 L1427.3,301.8 L1429.4,301.7 L1431.6,301.5 L1433.7,301.3 L1435.9,301.1 L1438.1,300.9 L1440.2,300.6 L1442.4,300.3 L1444.5,299.8 L1446.7,299.3 L1448.9,298.6 L1451.0,298.0 L1453.2,297.2 L1455.3,296.5 L1457.5,295.7 L1459.7,295.0 L1461.8,294.2 L1464.0,293.4 L1466.1,292.6 L1468.3,291.8 L1470.5,290.9 L1472.6,290.0 L1474.8,289.1 L1476.9,288.1 L1479.1,287.2 L1481.3,286.1 L1483.4,285.1 L1485.6,284.0 L1487.7,282.8 L1489.9,281.6 L1492.1,280.4 L1494.2,279.1 L1496.4,277.7 L1498.5,276.3 L1500.7,274.8 L1502.9,273.3 L1505.0,271.7 L1507.2,270.1 L1509.3,268.5 L1511.5,266.8" stroke="#1f77b4" stroke-width="2.3" fill="none" stroke-dasharray="7.1,3.1"/>
<path d="M1177.8,100.9 l2.3,3.6 l-2.3,3.6 l-2.3,-3.6z M1179.3,101.8 l2.3,3.6 l-2.3,3.6 l-2.3,-3.6z M1191.2,108.6 l2.3,3.6 l-2.3,3.6 l-2.3,-3.6z M1202.6,115.2 l2.3,3.6 l-2.3,3.6 l-2.3,-3.6z M1214.1,121.8 l2.3,3.6 l-2.3,3.6 l-2.3,-3.6z M1224.7,127.9 l2.3,3.6 l-2.3,3.6 l-2.3,-3.6z M1235.0,133.9 l2.3,3.6 l-2.3,3.6 l-2.3,-3.6z M1245.6,140.1 l2.3,3.6 l-2.3,3.6 l-2.3,-3.6z M1257.1,146.7 l2.3,3.6 l-2.3,3.6 l-2.3,-3.6z M1266.3,150.2 l2.3,3.6 l-2.3,3.6 l-2.3,-3.6z M1268.5,151.4 l2.3,3.6 l-2.3,3.6 l-2.3,-3.6z M1270.7,152.7 l2.3,3.6 l-2.3,3.6 l-2.3,-3.6z M1272.8,153.9 l2.3,3.6 l-2.3,3.6 l-2.3,-3.6z M1275.0,155.2 l2.3,3.6 l-2.3,3.6 l-2.3,-3.6z M1277.1,156.4 l2.3,3.6 l-2.3,3.6 l-2.3,-3.6z M1279.3,157.7 l2.3,3.6 l-2.3,3.6 l-2.3,-3.6z M1281.5,159.0 l2.3,3.6 l-2.3,3.6 l-2.3,-3.6z M1283.6,160.2 l2.3,3.6 l-2.3,3.6 l-2.3,-3.6z M1285.8,161.5 l2.3,3.6 l-2.3,3.6 l-2.3,-3.6z M1287.9,162.7 l2.3,3.6 l-2.3,3.6 l-2.3,-3.6z M1290.1,164.0 l2.3,3.6 l-2.3,3.6 l-2.3,-3.6z M1292.3,165.2 l2.3,3.6 l-2.3,3.6 l-2.3,-3.6z M1294.4,166.5 l2.3,3.6 l-2.3,3.6 l-2.3,-3.6z M1296.6,167.7 l2.3,3.6 l-2.3,3.6 l-2.3,-3.6z M1298.7,169.0 l2.3,3.6 l-2.3,3.6 l-2.3,-3.6z M1300.9,170.3 l2.3,3.6 l-2.3,3.6 l-2.3,-3.6z M1303.1,171.5 l2.3,3.6 l-2.3,3.6 l-2.3,-3.6z M1305.2,172.8 l2.3,3.6 l-2.3,3.6 l-2.3,-3.6z M1307.4,174.0 l2.3,3.6 l-2.3,3.6 l-2.3,-3.6z M1309.5,175.3 l2.3,3.6 l-2.3,3.6 l-2.3,-3.6z M1311.7,176.5 l2.3,3.6 l-2.3,3.6 l-2.3,-3.6z M1313.9,177.8 l2.3,3.6 l-2.3,3.6 l-2.3,-3.6z M1316.0,179.0 l2.3,3.6 l-2.3,3.6 l-2.3,-3.6z M1318.2,180.3 l2.3,3.6 l-2.3,3.6 l-2.3,-3.6z M1320.3,181.6 l2.3,3.6 l-2.3,3.6 l-2.3,-3.6z M1322.5,182.8 l2.3,3.6 l-2.3,3.6 l-2.3,-3.6z M1324.7,184.1 l2.3,3.6 l-2.3,3.6 l-2.3,-3.6z M1326.8,185.3 l2.3,3.6 l-2.3,3.6 l-2.3,-3.6z M1329.0,186.6 l2.3,3.6 l-2.3,3.6 l-2.3,-3.6z M1331.1,187.8 l2.3,3.6 l-2.3,3.6 l-2.3,-3.6z M1333.3,189.1 l2.3,3.6 l-2.3,3.6 l-2.3,-3.6z M1335.5,190.3 l2.3,3.6 l-2.3,3.6 l-2.3,-3.6z M1337.6,191.6 l2.3,3.6 l-2.3,3.6 l-2.3,-3.6z M1339.8,192.8 l2.3,3.6 l-2.3,3.6 l-2.3,-3.6z M1341.9,194.1 l2.3,3.6 l-2.3,3.6 l-2.3,-3.6z M1344.1,195.3 l2.3,3.6 l-2.3,3.6 l-2.3,-3.6z M1346.3,196.6 l2.3,3.6 l-2.3,3.6 l-2.3,-3.6z M1348.4,197.8 l2.3,3.6 l-2.3,3.6 l-2.3,-3.6z M1350.6,199.1 l2.3,3.6 l-2.3,3.6 l-2.3,-3.6z M1352.7,200.3 l2.3,3.6 l-2.3,3.6 l-2.3,-3.6z M1354.9,201.6 l2.3,3.6 l-2.3,3.6 l-2.3,-3.6z M1357.1,202.8 l2.3,3.6 l-2.3,3.6 l-2.3,-3.6z M1359.2,204.1 l2.3,3.6 l-2.3,3.6 l-2.3,-3.6z M1361.4,205.3 l2.3,3.6 l-2.3,3.6 l-2.3,-3.6z M1363.5,206.6 l2.3,3.6 l-2.3,3.6 l-2.3,-3.6z M1375.6,207.6 l2.3,3.6 l-2.3,3.6 l-2.3,-3.6z M1386.0,212.8 l2.3,3.6 l-2.3,3.6 l-2.3,-3.6z M1397.2,217.8 l2.3,3.6 l-2.3,3.6 l-2.3,-3.6z" fill="#000" stroke="#000" stroke-width="0.8"/>
</svg>
<path d="M1079.5,314.1 v-9.5 M1079.5,33.9 v9.5 M1187.5,314.1 v-9.5 M1187.5,33.9 v9.5 M1295.5,314.1 v-9.5 M1295.5,33.9 v9.5 M1403.5,314.1 v-9.5 M1403.5,33.9 v9.5 M1511.5,314.1 v-9.5 M1511.5,33.9 v9.5 M1101.1,314.1 v-5.5 M1101.1,33.9 v5.5 M1122.7,314.1 v-5.5 M1122.7,33.9 v5.5 M1144.3,314.1 v-5.5 M1144.3,33.9 v5.5 M1165.9,314.1 v-5.5 M1165.9,33.9 v5.5 M1209.1,314.1 v-5.5 M1209.1,33.9 v5.5 M1230.7,314.1 v-5.5 M1230.7,33.9 v5.5 M1252.3,314.1 v-5.5 M1252.3,33.9 v5.5 M1273.9,314.1 v-5.5 M1273.9,33.9 v5.5 M1317.1,314.1 v-5.5 M1317.1,33.9 v5.5 M1338.7,314.1 v-5.5 M1338.7,33.9 v5.5 M1360.3,314.1 v-5.5 M1360.3,33.9 v5.5 M1381.9,314.1 v-5.5 M1381.9,33.9 v5.5 M1425.1,314.1 v-5.5 M1425.1,33.9 v5.5 M1446.7,314.1 v-5.5 M1446.7,33.9 v5.5 M1468.3,314.1 v-5.5 M1468.3,33.9 v5.5 M1489.9,314.1 v-5.5 M1489.9,33.9 v5.5 M1079.5,257.7 h9.5 M1511.5,257.7 h-9.5 M1079.5,170.8 h9.5 M1511.5,170.8 h-9.5 M1079.5,83.9 h9.5 M1511.5,83.9 h-9.5 M1079.5,301.1 h5.5 M1511.5,301.1 h-5.5 M1079.5,279.4 h5.5 M1511.5,279.4 h-5.5 M1079.5,236.0 h5.5 M1511.5,236.0 h-5.5 M1079.5,214.2 h5.5 M1511.5,214.2 h-5.5 M1079.5,192.5 h5.5 M1511.5,192.5 h-5.5 M1079.5,149.1 h5.5 M1511.5,149.1 h-5.5 M1079.5,127.4 h5.5 M1511.5,127.4 h-5.5 M1079.5,105.6 h5.5 M1511.5,105.6 h-5.5 M1079.5,62.2 h5.5 M1511.5,62.2 h-5.5 M1079.5,40.5 h5.5 M1511.5,40.5 h-5.5" stroke="#000" stroke-width="1.8" fill="none"/>
<rect x="1079.5" y="33.9" width="432.0" height="280.2" fill="none" stroke="#000" stroke-width="2.6"/>
<text x="1079.5" y="334.6" font-family="DejaVu Sans, sans-serif" font-size="23.1" text-anchor="middle">−10</text>
<text x="1187.5" y="334.6" font-family="DejaVu Sans, sans-serif" font-size="23.1" text-anchor="middle">−5</text>
<text x="1295.5" y="334.6" font-family="DejaVu Sans, sans-serif" font-size="23.1" text-anchor="middle">0</text>
<text x="1403.5" y="334.6" font-family="DejaVu Sans, sans-serif" font-size="23.1" text-anchor="middle">5</text>
<text x="1511.5" y="334.6" font-family="DejaVu Sans, sans-serif" font-size="23.1" text-anchor="middle">10</text>
<text x="1077.0" y="266.6" font-family="DejaVu Sans, sans-serif" font-size="23.1" text-anchor="end">−200</text>
<text x="1077.0" y="179.7" font-family="DejaVu Sans, sans-serif" font-size="23.1" text-anchor="end">0</text>
<text x="1077.0" y="92.8" font-family="DejaVu Sans, sans-serif" font-size="23.1" text-anchor="end">200</text>
<text x="1295.5" y="359.6" font-family="DejaVu Sans, sans-serif" font-size="23.1" text-anchor="middle">a (mm)</text>
<text transform="translate(1006,174.0) rotate(-90)" font-family="DejaVu Sans, sans-serif" font-size="23.1" text-anchor="middle">Magnetic Field (G)</text>
<text x="1295.5" y="28.5" font-family="DejaVu Sans, sans-serif" font-size="28" text-anchor="middle">Along MOT Axis a (b=0, z=0)</text>
<rect x="1256.8" y="45.0" width="243.4" height="66.2" rx="3" fill="#fff" fill-opacity="0.8" stroke="#ccc" stroke-width="1.2"/>
<line x1="1264.2" y1="61.0" x2="1307.2" y2="61.0" stroke="#1f77b4" stroke-width="2.3" />
<text x="1322.5" y="68.0" font-family="DejaVu Sans, sans-serif" font-size="19.3">B<tspan font-style="italic" font-size="13.5" dy="3.5">a</tspan></text>
<line x1="1264.2" y1="91.1" x2="1307.2" y2="91.1" stroke="#ff7f0e" stroke-width="2.3" />
<text x="1322.5" y="98.1" font-family="DejaVu Sans, sans-serif" font-size="19.3">B<tspan font-style="italic" font-size="13.5" dy="3.5">b</tspan></text>
<line x1="1388" y1="61.0" x2="1431" y2="61.0" stroke="#2ca02c" stroke-width="2.3" />
<text x="1446.3" y="68.0" font-family="DejaVu Sans, sans-serif" font-size="19.3">B<tspan font-style="italic" font-size="13.5" dy="3.5">z</tspan></text>
<line x1="1388" y1="91.1" x2="1431" y2="91.1" stroke="#1f77b4" stroke-width="2.3" stroke-dasharray="7.1,3.1"/>
<text x="1446.3" y="98.1" font-family="DejaVu Sans, sans-serif" font-size="19.3">∇<tspan font-style="italic" font-size="13.5" dy="3.5">a</tspan><tspan dy="-3.5">B</tspan><tspan font-style="italic" font-size="13.5" dy="3.5">a</tspan></text>
<svg x="1079.5" y="431.7" width="433.3" height="280.5" viewBox="1079.5 431.7 433.3 280.5" overflow="hidden">
<path d="M1079.5,518.0 L1081.7,519.0 L1083.8,520.0 L1086.0,521.0 L1088.2,522.1 L1090.3,523.1 L1092.5,524.1 L1094.7,525.2 L1096.8,526.2 L1099.0,527.3 L1101.2,528.3 L1103.3,529.4 L1105.5,530.4 L1107.7,531.5 L1109.8,532.5 L1112.0,533.6 L1114.2,534.6 L1116.3,535.7 L1118.5,536.7 L1120.7,537.8 L1122.8,538.8 L1125.0,539.8 L1127.2,540.8 L1129.3,541.8 L1131.5,542.8 L1133.7,543.8 L1135.8,544.8 L1138.0,545.7 L1140.2,546.7 L1142.3,547.6 L1144.5,548.5 L1146.7,549.5 L1148.8,550.4 L1151.0,551.3 L1153.2,552.1 L1155.3,553.0 L1157.5,553.8 L1159.7,554.7 L1161.8,555.5 L1164.0,556.3 L1166.2,557.1 L1168.3,557.8 L1170.5,558.6 L1172.7,559.3 L1174.8,560.1 L1177.0,560.8 L1179.2,561.4 L1181.3,562.1 L1183.5,562.8 L1185.7,563.4 L1187.8,564.0 L1190.0,564.6 L1192.2,565.2 L1194.3,565.8 L1196.5,566.3 L1198.7,566.9 L1200.8,567.4 L1203.0,567.9 L1205.2,568.4 L1207.3,568.8 L1209.5,569.3 L1211.7,569.7 L1213.8,570.1 L1216.0,570.5 L1218.2,570.9 L1220.3,571.3 L1222.5,571.6 L1224.7,572.0 L1226.8,572.3 L1229.0,572.6 L1231.2,572.9 L1233.3,573.2 L1235.5,573.4 L1237.7,573.7 L1239.8,573.9 L1242.0,574.1 L1244.2,574.3 L1246.3,574.5 L1248.5,574.7 L1250.7,574.9 L1252.8,575.0 L1255.0,575.2 L1257.2,575.3 L1259.3,575.5 L1261.5,575.6 L1263.7,575.7 L1265.8,575.8 L1268.0,575.8 L1270.2,575.9 L1272.3,576.0 L1274.5,576.1 L1276.7,576.1 L1278.8,576.1 L1281.0,576.2 L1283.2,576.2 L1285.3,576.2 L1287.5,576.3 L1289.7,576.3 L1291.8,576.3 L1294.0,576.3 L1296.2,576.3 L1298.3,576.3 L1300.5,576.3 L1302.6,576.3 L1304.8,576.3 L1307.0,576.3 L1309.1,576.3 L1311.3,576.3 L1313.5,576.3 L1315.6,576.3 L1317.8,576.3 L1320.0,576.3 L1322.1,576.3 L1324.3,576.3 L1326.5,576.3 L1328.6,576.3 L1330.8,576.3 L1333.0,576.3 L1335.1,576.4 L1337.3,576.4 L1339.5,576.4 L1341.6,576.5 L1343.8,576.5 L1346.0,576.6 L1348.1,576.7 L1350.3,576.8 L1352.5,576.8 L1354.6,576.9 L1356.8,577.1 L1359.0,577.2 L1361.1,577.3 L1363.3,577.5 L1365.5,577.6 L1367.6,577.8 L1369.8,578.0 L1372.0,578.2 L1374.1,578.4 L1376.3,578.6 L1378.5,578.8 L1380.6,579.1 L1382.8,579.4 L1385.0,579.6 L1387.1,580.0 L1389.3,580.3 L1391.5,580.6 L1393.6,581.0 L1395.8,581.3 L1398.0,581.7 L1400.1,582.1 L1402.3,582.6 L1404.5,583.0 L1406.6,583.5 L1408.8,584.0 L1411.0,584.5 L1413.1,585.0 L1415.3,585.5 L1417.5,586.1 L1419.6,586.7 L1421.8,587.3 L1424.0,588.0 L1426.1,588.6 L1428.3,589.3 L1430.5,590.0 L1432.6,590.7 L1434.8,591.4 L1437.0,592.2 L1439.1,593.0 L1441.3,593.8 L1443.5,594.6 L1445.6,595.5 L1447.8,596.4 L1450.0,597.3 L1452.1,598.2 L1454.3,599.1 L1456.5,600.1 L1458.6,601.1 L1460.8,602.1 L1463.0,603.2 L1465.1,604.2 L1467.3,605.3 L1469.5,606.4 L1471.6,607.6 L1473.8,608.7 L1476.0,609.9 L1478.1,611.1 L1480.3,612.3 L1482.5,613.5 L1484.6,614.8 L1486.8,616.1 L1489.0,617.4 L1491.1,618.7 L1493.3,620.0 L1495.5,621.4 L1497.6,622.8 L1499.8,624.1 L1502.0,625.6 L1504.1,627.0 L1506.3,628.4 L1508.5,629.9 L1510.6,631.4 L1512.8,632.9" stroke="#1f77b4" stroke-width="2.3" fill="none" />
<path d="M1079.5,700.0 L1081.7,698.9 L1083.8,697.8 L1086.0,696.7 L1088.2,695.6 L1090.3,694.5 L1092.5,693.3 L1094.7,692.2 L1096.8,691.1 L1099.0,690.0 L1101.2,688.8 L1103.3,687.7 L1105.5,686.6 L1107.7,685.4 L1109.8,684.3 L1112.0,683.1 L1114.2,682.0 L1116.3,680.8 L1118.5,679.6 L1120.7,678.5 L1122.8,677.3 L1125.0,676.1 L1127.2,674.9 L1129.3,673.7 L1131.5,672.5 L1133.7,671.4 L1135.8,670.2 L1138.0,669.0 L1140.2,667.7 L1142.3,666.5 L1144.5,665.3 L1146.7,664.1 L1148.8,662.9 L1151.0,661.7 L1153.2,660.5 L1155.3,659.2 L1157.5,658.0 L1159.7,656.8 L1161.8,655.5 L1164.0,654.3 L1166.2,653.0 L1168.3,651.8 L1170.5,650.6 L1172.7,649.3 L1174.8,648.1 L1177.0,646.8 L1179.2,645.5 L1181.3,644.3 L1183.5,643.0 L1185.7,641.7 L1187.8,640.5 L1190.0,639.2 L1192.2,637.9 L1194.3,636.7 L1196.5,635.4 L1198.7,634.1 L1200.8,632.8 L1203.0,631.5 L1205.2,630.3 L1207.3,629.0 L1209.5,627.7 L1211.7,626.4 L1213.8,625.1 L1216.0,623.8 L1218.2,622.5 L1220.3,621.2 L1222.5,619.9 L1224.7,618.6 L1226.8,617.3 L1229.0,616.0 L1231.2,614.7 L1233.3,613.4 L1235.5,612.1 L1237.7,610.8 L1239.8,609.5 L1242.0,608.1 L1244.2,606.8 L1246.3,605.5 L1248.5,604.2 L1250.7,602.9 L1252.8,601.6 L1255.0,600.3 L1257.2,598.9 L1259.3,597.6 L1261.5,596.3 L1263.7,595.0 L1265.8,593.7 L1268.0,592.3 L1270.2,591.0 L1272.3,589.7 L1274.5,588.4 L1276.7,587.0 L1278.8,585.7 L1281.0,584.4 L1283.2,583.1 L1285.3,581.7 L1287.5,580.4 L1289.7,579.1 L1291.8,577.8 L1294.0,576.5 L1296.2,575.1 L1298.3,573.8 L1300.5,572.5 L1302.6,571.2 L1304.8,569.8 L1307.0,568.5 L1309.1,567.2 L1311.3,565.9 L1313.5,564.5 L1315.6,563.2 L1317.8,561.9 L1320.0,560.6 L1322.1,559.3 L1324.3,557.9 L1326.5,556.6 L1328.6,555.3 L1330.8,554.0 L1333.0,552.7 L1335.1,551.4 L1337.3,550.1 L1339.5,548.8 L1341.6,547.4 L1343.8,546.1 L1346.0,544.8 L1348.1,543.5 L1350.3,542.2 L1352.5,540.9 L1354.6,539.6 L1356.8,538.3 L1359.0,537.0 L1361.1,535.7 L1363.3,534.4 L1365.5,533.1 L1367.6,531.8 L1369.8,530.5 L1372.0,529.3 L1374.1,528.0 L1376.3,526.7 L1378.5,525.4 L1380.6,524.1 L1382.8,522.8 L1385.0,521.6 L1387.1,520.3 L1389.3,519.0 L1391.5,517.8 L1393.6,516.5 L1395.8,515.2 L1398.0,514.0 L1400.1,512.7 L1402.3,511.4 L1404.5,510.2 L1406.6,508.9 L1408.8,507.7 L1411.0,506.4 L1413.1,505.2 L1415.3,504.0 L1417.5,502.7 L1419.6,501.5 L1421.8,500.3 L1424.0,499.0 L1426.1,497.8 L1428.3,496.6 L1430.5,495.4 L1432.6,494.2 L1434.8,492.9 L1437.0,491.7 L1439.1,490.5 L1441.3,489.3 L1443.5,488.1 L1445.6,486.9 L1447.8,485.7 L1450.0,484.6 L1452.1,483.4 L1454.3,482.2 L1456.5,481.0 L1458.6,479.8 L1460.8,478.7 L1463.0,477.5 L1465.1,476.4 L1467.3,475.2 L1469.5,474.0 L1471.6,472.9 L1473.8,471.8 L1476.0,470.6 L1478.1,469.5 L1480.3,468.3 L1482.5,467.2 L1484.6,466.1 L1486.8,465.0 L1489.0,463.9 L1491.1,462.8 L1493.3,461.7 L1495.5,460.6 L1497.6,459.5 L1499.8,458.4 L1502.0,457.3 L1504.1,456.2 L1506.3,455.1 L1508.5,454.1 L1510.6,453.0 L1512.8,452.0" stroke="#ff7f0e" stroke-width="2.3" fill="none" />
<path d="M1079.5,576.0 L1081.7,576.0 L1083.8,576.0 L1086.0,576.0 L1088.2,576.0 L1090.3,576.0 L1092.5,576.0 L1094.7,576.0 L1096.8,576.0 L1099.0,576.0 L1101.2,576.0 L1103.3,576.0 L1105.5,576.0 L1107.7,576.0 L1109.8,576.0 L1112.0,576.0 L1114.2,576.0 L1116.3,576.0 L1118.5,576.0 L1120.7,576.0 L1122.8,576.0 L1125.0,576.0 L1127.2,576.0 L1129.3,576.0 L1131.5,576.0 L1133.7,576.0 L1135.8,576.0 L1138.0,576.0 L1140.2,576.0 L1142.3,576.0 L1144.5,576.0 L1146.7,576.0 L1148.8,576.0 L1151.0,576.0 L1153.2,576.0 L1155.3,576.0 L1157.5,576.0 L1159.7,576.0 L1161.8,576.0 L1164.0,576.0 L1166.2,576.0 L1168.3,576.0 L1170.5,576.0 L1172.7,576.0 L1174.8,576.0 L1177.0,576.0 L1179.2,576.0 L1181.3,576.0 L1183.5,576.0 L1185.7,576.0 L1187.8,576.0 L1190.0,576.0 L1192.2,576.0 L1194.3,576.0 L1196.5,576.0 L1198.7,576.0 L1200.8,576.0 L1203.0,576.0 L1205.2,576.0 L1207.3,576.0 L1209.5,576.0 L1211.7,576.0 L1213.8,576.0 L1216.0,576.0 L1218.2,576.0 L1220.3,576.0 L1222.5,576.0 L1224.7,576.0 L1226.8,576.0 L1229.0,576.0 L1231.2,576.0 L1233.3,576.0 L1235.5,576.0 L1237.7,576.0 L1239.8,576.0 L1242.0,576.0 L1244.2,576.0 L1246.3,576.0 L1248.5,576.0 L1250.7,576.0 L1252.8,576.0 L1255.0,576.0 L1257.2,576.0 L1259.3,576.0 L1261.5,576.0 L1263.7,576.0 L1265.8,576.0 L1268.0,576.0 L1270.2,576.0 L1272.3,576.0 L1274.5,576.0 L1276.7,576.0 L1278.8,576.0 L1281.0,576.0 L1283.2,576.0 L1285.3,576.0 L1287.5,576.0 L1289.7,576.0 L1291.8,576.0 L1294.0,576.0 L1296.2,576.0 L1298.3,576.0 L1300.5,576.0 L1302.6,576.0 L1304.8,576.0 L1307.0,576.0 L1309.1,576.0 L1311.3,576.0 L1313.5,576.0 L1315.6,576.0 L1317.8,576.0 L1320.0,576.0 L1322.1,576.0 L1324.3,576.0 L1326.5,576.0 L1328.6,576.0 L1330.8,576.0 L1333.0,576.0 L1335.1,576.0 L1337.3,576.0 L1339.5,576.0 L1341.6,576.0 L1343.8,576.0 L1346.0,576.0 L1348.1,576.0 L1350.3,576.0 L1352.5,576.0 L1354.6,576.0 L1356.8,576.0 L1359.0,576.0 L1361.1,576.0 L1363.3,576.0 L1365.5,576.0 L1367.6,576.0 L1369.8,576.0 L1372.0,576.0 L1374.1,576.0 L1376.3,576.0 L1378.5,576.0 L1380.6,576.0 L1382.8,576.0 L1385.0,576.0 L1387.1,576.0 L1389.3,576.0 L1391.5,576.0 L1393.6,576.0 L1395.8,576.0 L1398.0,576.0 L1400.1,576.0 L1402.3,576.0 L1404.5,576.0 L1406.6,576.0 L1408.8,576.0 L1411.0,576.0 L1413.1,576.0 L1415.3,576.0 L1417.5,576.0 L1419.6,576.0 L1421.8,576.0 L1424.0,576.0 L1426.1,576.0 L1428.3,576.0 L1430.5,576.0 L1432.6,576.0 L1434.8,576.0 L1437.0,576.0 L1439.1,576.0 L1441.3,576.0 L1443.5,576.0 L1445.6,576.0 L1447.8,576.0 L1450.0,576.0 L1452.1,576.0 L1454.3,576.0 L1456.5,576.0 L1458.6,576.0 L1460.8,576.0 L1463.0,576.0 L1465.1,576.0 L1467.3,576.0 L1469.5,576.0 L1471.6,576.0 L1473.8,576.0 L1476.0,576.0 L1478.1,576.0 L1480.3,576.0 L1482.5,576.0 L1484.6,576.0 L1486.8,576.0 L1489.0,576.0 L1491.1,576.0 L1493.3,576.0 L1495.5,576.0 L1497.6,576.0 L1499.8,576.0 L1502.0,576.0 L1504.1,576.0 L1506.3,576.0 L1508.5,576.0 L1510.6,576.0 L1512.8,576.0" stroke="#2ca02c" stroke-width="2.3" fill="none" />
<path d="M1079.5,479.7 L1081.7,478.1 L1083.8,476.4 L1086.0,474.8 L1088.2,473.3 L1090.3,471.8 L1092.5,470.3 L1094.7,468.8 L1096.8,467.4 L1099.0,466.1 L1101.2,464.8 L1103.3,463.5 L1105.5,462.4 L1107.7,461.2 L1109.8,460.2 L1112.0,459.2 L1114.2,458.2 L1116.3,457.3 L1118.5,456.4 L1120.7,455.5 L1122.8,454.6 L1125.0,453.7 L1127.2,452.9 L1129.3,452.1 L1131.5,451.3 L1133.7,450.5 L1135.8,449.8 L1138.0,449.2 L1140.2,448.5 L1142.3,448.0 L1144.5,447.5 L1146.7,447.0 L1148.8,446.6 L1151.0,446.3 L1153.2,446.0 L1155.3,445.8 L1157.5,445.5 L1159.7,445.3 L1161.8,445.1 L1164.0,444.9 L1166.2,444.7 L1168.3,444.5 L1170.5,444.4 L1172.7,444.4 L1174.8,444.3 L1177.0,444.4 L1179.2,444.4 L1181.3,444.4 L1183.5,444.5 L1185.7,444.5 L1187.8,444.6 L1190.0,444.7 L1192.2,444.8 L1194.3,444.9 L1196.5,445.1 L1198.7,445.2 L1200.8,445.3 L1203.0,445.5 L1205.2,445.6 L1207.3,445.8 L1209.5,446.0 L1211.7,446.1 L1213.8,446.3 L1216.0,446.5 L1218.2,446.6 L1220.3,446.8 L1222.5,447.0 L1224.7,447.1 L1226.8,447.3 L1229.0,447.5 L1231.2,447.7 L1233.3,447.9 L1235.5,448.1 L1237.7,448.3 L1239.8,448.6 L1242.0,448.8 L1244.2,449.1 L1246.3,449.3 L1248.5,449.6 L1250.7,449.9 L1252.8,450.1 L1255.0,450.3 L1257.2,450.6 L1259.3,450.8 L1261.5,451.0 L1263.7,451.1 L1265.8,451.3 L1268.0,451.4 L1270.2,451.5 L1272.3,451.7 L1274.5,451.8 L1276.7,451.9 L1278.8,452.1 L1281.0,452.2 L1283.2,452.3 L1285.3,452.4 L1287.5,452.4 L1289.7,452.5 L1291.8,452.6 L1294.0,452.6 L1296.2,452.6 L1298.3,452.6 L1300.5,452.6 L1302.6,452.5 L1304.8,452.5 L1307.0,452.4 L1309.1,452.3 L1311.3,452.2 L1313.5,452.0 L1315.6,451.9 L1317.8,451.8 L1320.0,451.6 L1322.1,451.4 L1324.3,451.3 L1326.5,451.1 L1328.6,450.9 L1330.8,450.7 L1333.0,450.5 L1335.1,450.3 L1337.3,450.1 L1339.5,449.9 L1341.6,449.7 L1343.8,449.4 L1346.0,449.2 L1348.1,449.0 L1350.3,448.8 L1352.5,448.6 L1354.6,448.4 L1356.8,448.2 L1359.0,448.0 L1361.1,447.9 L1363.3,447.7 L1365.5,447.5 L1367.6,447.4 L1369.8,447.2 L1372.0,447.1 L1374.1,446.9 L1376.3,446.8 L1378.5,446.6 L1380.6,446.4 L1382.8,446.2 L1385.0,446.1 L1387.1,445.9 L1389.3,445.7 L1391.5,445.5 L1393.6,445.4 L1395.8,445.2 L1398.0,445.1 L1400.1,444.9 L1402.3,444.8 L1404.5,444.7 L1406.6,444.6 L1408.8,444.5 L1411.0,444.4 L1413.1,444.4 L1415.3,444.4 L1417.5,444.3 L1419.6,444.4 L1421.8,444.4 L1424.0,444.5 L1426.1,444.7 L1428.3,444.9 L1430.5,445.1 L1432.6,445.3 L1434.8,445.6 L1437.0,445.9 L1439.1,446.2 L1441.3,446.6 L1443.5,447.0 L1445.6,447.4 L1447.8,447.8 L1450.0,448.3 L1452.1,448.7 L1454.3,449.2 L1456.5,449.6 L1458.6,450.1 L1460.8,450.6 L1463.0,451.1 L1465.1,451.7 L1467.3,452.3 L1469.5,453.0 L1471.6,453.8 L1473.8,454.7 L1476.0,455.6 L1478.1,456.6 L1480.3,457.7 L1482.5,458.7 L1484.6,459.8 L1486.8,461.0 L1489.0,462.1 L1491.1,463.3 L1493.3,464.6 L1495.5,465.9 L1497.6,467.3 L1499.8,468.8 L1502.0,470.3 L1504.1,471.9 L1506.3,473.6 L1508.5,475.3 L1510.6,477.1 L1512.8,478.8" stroke="#ff7f0e" stroke-width="2.3" fill="none" stroke-dasharray="7.1,3.1"/>
<path d="M1225.1,611.3 l2.3,3.6 l-2.3,3.6 l-2.3,-3.6z M1227.3,609.9 l2.3,3.6 l-2.3,3.6 l-2.3,-3.6z M1229.6,608.6 l2.3,3.6 l-2.3,3.6 l-2.3,-3.6z M1231.8,607.2 l2.3,3.6 l-2.3,3.6 l-2.3,-3.6z M1234.1,605.9 l2.3,3.6 l-2.3,3.6 l-2.3,-3.6z M1236.3,604.5 l2.3,3.6 l-2.3,3.6 l-2.3,-3.6z M1238.6,603.1 l2.3,3.6 l-2.3,3.6 l-2.3,-3.6z M1240.8,601.8 l2.3,3.6 l-2.3,3.6 l-2.3,-3.6z M1243.1,600.4 l2.3,3.6 l-2.3,3.6 l-2.3,-3.6z M1245.3,599.1 l2.3,3.6 l-2.3,3.6 l-2.3,-3.6z M1247.5,597.7 l2.3,3.6 l-2.3,3.6 l-2.3,-3.6z M1249.8,596.3 l2.3,3.6 l-2.3,3.6 l-2.3,-3.6z M1252.0,595.0 l2.3,3.6 l-2.3,3.6 l-2.3,-3.6z M1254.3,593.6 l2.3,3.6 l-2.3,3.6 l-2.3,-3.6z M1256.5,592.2 l2.3,3.6 l-2.3,3.6 l-2.3,-3.6z M1258.8,590.9 l2.3,3.6 l-2.3,3.6 l-2.3,-3.6z M1261.0,589.5 l2.3,3.6 l-2.3,3.6 l-2.3,-3.6z M1263.3,588.1 l2.3,3.6 l-2.3,3.6 l-2.3,-3.6z M1265.5,586.8 l2.3,3.6 l-2.3,3.6 l-2.3,-3.6z M1267.8,585.4 l2.3,3.6 l-2.3,3.6 l-2.3,-3.6z M1270.0,584.0 l2.3,3.6 l-2.3,3.6 l-2.3,-3.6z M1272.3,582.6 l2.3,3.6 l-2.3,3.6 l-2.3,-3.6z M1274.5,581.3 l2.3,3.6 l-2.3,3.6 l-2.3,-3.6z M1276.7,579.9 l2.3,3.6 l-2.3,3.6 l-2.3,-3.6z M1279.0,578.5 l2.3,3.6 l-2.3,3.6 l-2.3,-3.6z M1281.2,577.2 l2.3,3.6 l-2.3,3.6 l-2.3,-3.6z M1283.5,575.8 l2.3,3.6 l-2.3,3.6 l-2.3,-3.6z M1285.7,574.4 l2.3,3.6 l-2.3,3.6 l-2.3,-3.6z M1288.0,573.0 l2.3,3.6 l-2.3,3.6 l-2.3,-3.6z M1290.2,571.7 l2.3,3.6 l-2.3,3.6 l-2.3,-3.6z M1292.5,570.3 l2.3,3.6 l-2.3,3.6 l-2.3,-3.6z M1294.7,568.9 l2.3,3.6 l-2.3,3.6 l-2.3,-3.6z M1297.0,567.6 l2.3,3.6 l-2.3,3.6 l-2.3,-3.6z M1299.2,566.2 l2.3,3.6 l-2.3,3.6 l-2.3,-3.6z M1301.5,564.8 l2.3,3.6 l-2.3,3.6 l-2.3,-3.6z M1303.7,563.4 l2.3,3.6 l-2.3,3.6 l-2.3,-3.6z M1305.9,562.1 l2.3,3.6 l-2.3,3.6 l-2.3,-3.6z M1308.2,560.7 l2.3,3.6 l-2.3,3.6 l-2.3,-3.6z M1310.4,559.3 l2.3,3.6 l-2.3,3.6 l-2.3,-3.6z M1312.7,558.0 l2.3,3.6 l-2.3,3.6 l-2.3,-3.6z M1314.9,556.6 l2.3,3.6 l-2.3,3.6 l-2.3,-3.6z M1317.2,555.2 l2.3,3.6 l-2.3,3.6 l-2.3,-3.6z M1319.4,553.8 l2.3,3.6 l-2.3,3.6 l-2.3,-3.6z M1321.7,552.5 l2.3,3.6 l-2.3,3.6 l-2.3,-3.6z M1323.9,551.1 l2.3,3.6 l-2.3,3.6 l-2.3,-3.6z M1326.2,549.8 l2.3,3.6 l-2.3,3.6 l-2.3,-3.6z M1328.4,548.4 l2.3,3.6 l-2.3,3.6 l-2.3,-3.6z M1330.7,547.0 l2.3,3.6 l-2.3,3.6 l-2.3,-3.6z M1332.9,545.7 l2.3,3.6 l-2.3,3.6 l-2.3,-3.6z M1335.1,544.3 l2.3,3.6 l-2.3,3.6 l-2.3,-3.6z M1336.2,545.4 l2.3,3.6 l-2.3,3.6 l-2.3,-3.6z M1338.8,543.8 l2.3,3.6 l-2.3,3.6 l-2.3,-3.6z M1341.6,542.1 l2.3,3.6 l-2.3,3.6 l-2.3,-3.6z M1344.9,540.1 l2.3,3.6 l-2.3,3.6 l-2.3,-3.6z M1348.1,538.2 l2.3,3.6 l-2.3,3.6 l-2.3,-3.6z M1359.0,531.7 l2.3,3.6 l-2.3,3.6 l-2.3,-3.6z M1366.6,532.9 l2.3,3.6 l-2.3,3.6 l-2.3,-3.6z M1377.0,525.5 l2.3,3.6 l-2.3,3.6 l-2.3,-3.6z M1388.2,518.3 l2.3,3.6 l-2.3,3.6 l-2.3,-3.6z M1398.4,509.0 l2.3,3.6 l-2.3,3.6 l-2.3,-3.6z M1400.1,508.1 l2.3,3.6 l-2.3,3.6 l-2.3,-3.6z M1402.3,506.8 l2.3,3.6 l-2.3,3.6 l-2.3,-3.6z M1404.5,505.5 l2.3,3.6 l-2.3,3.6 l-2.3,-3.6z M1405.6,504.6 l2.3,3.6 l-2.3,3.6 l-2.3,-3.6z" fill="#000" stroke="#000" stroke-width="0.8"/>
</svg>
<path d="M1079.5,712.2 v-9.5 M1079.5,431.7 v9.5 M1187.8,712.2 v-9.5 M1187.8,431.7 v9.5 M1296.2,712.2 v-9.5 M1296.2,431.7 v9.5 M1404.5,712.2 v-9.5 M1404.5,431.7 v9.5 M1512.8,712.2 v-9.5 M1512.8,431.7 v9.5 M1101.2,712.2 v-5.5 M1101.2,431.7 v5.5 M1122.8,712.2 v-5.5 M1122.8,431.7 v5.5 M1144.5,712.2 v-5.5 M1144.5,431.7 v5.5 M1166.2,712.2 v-5.5 M1166.2,431.7 v5.5 M1209.5,712.2 v-5.5 M1209.5,431.7 v5.5 M1231.2,712.2 v-5.5 M1231.2,431.7 v5.5 M1252.8,712.2 v-5.5 M1252.8,431.7 v5.5 M1274.5,712.2 v-5.5 M1274.5,431.7 v5.5 M1317.8,712.2 v-5.5 M1317.8,431.7 v5.5 M1339.5,712.2 v-5.5 M1339.5,431.7 v5.5 M1361.1,712.2 v-5.5 M1361.1,431.7 v5.5 M1382.8,712.2 v-5.5 M1382.8,431.7 v5.5 M1426.1,712.2 v-5.5 M1426.1,431.7 v5.5 M1447.8,712.2 v-5.5 M1447.8,431.7 v5.5 M1469.5,712.2 v-5.5 M1469.5,431.7 v5.5 M1491.1,712.2 v-5.5 M1491.1,431.7 v5.5 M1079.5,662.9 h9.5 M1512.8,662.9 h-9.5 M1079.5,576.0 h9.5 M1512.8,576.0 h-9.5 M1079.5,489.1 h9.5 M1512.8,489.1 h-9.5 M1079.5,706.4 h5.5 M1512.8,706.4 h-5.5 M1079.5,684.6 h5.5 M1512.8,684.6 h-5.5 M1079.5,641.2 h5.5 M1512.8,641.2 h-5.5 M1079.5,619.5 h5.5 M1512.8,619.5 h-5.5 M1079.5,597.7 h5.5 M1512.8,597.7 h-5.5 M1079.5,554.3 h5.5 M1512.8,554.3 h-5.5 M1079.5,532.5 h5.5 M1512.8,532.5 h-5.5 M1079.5,510.8 h5.5 M1512.8,510.8 h-5.5 M1079.5,467.4 h5.5 M1512.8,467.4 h-5.5 M1079.5,445.6 h5.5 M1512.8,445.6 h-5.5" stroke="#000" stroke-width="1.8" fill="none"/>
<rect x="1079.5" y="431.7" width="433.3" height="280.5" fill="none" stroke="#000" stroke-width="2.6"/>
<text x="1079.5" y="732.7" font-family="DejaVu Sans, sans-serif" font-size="23.1" text-anchor="middle">−10</text>
<text x="1187.8" y="732.7" font-family="DejaVu Sans, sans-serif" font-size="23.1" text-anchor="middle">−5</text>
<text x="1296.2" y="732.7" font-family="DejaVu Sans, sans-serif" font-size="23.1" text-anchor="middle">0</text>
<text x="1404.5" y="732.7" font-family="DejaVu Sans, sans-serif" font-size="23.1" text-anchor="middle">5</text>
<text x="1512.8" y="732.7" font-family="DejaVu Sans, sans-serif" font-size="23.1" text-anchor="middle">10</text>
<text x="1077.0" y="671.8" font-family="DejaVu Sans, sans-serif" font-size="23.1" text-anchor="end">−200</text>
<text x="1077.0" y="584.9" font-family="DejaVu Sans, sans-serif" font-size="23.1" text-anchor="end">0</text>
<text x="1077.0" y="498.0" font-family="DejaVu Sans, sans-serif" font-size="23.1" text-anchor="end">200</text>
<text x="1296.2" y="757.7" font-family="DejaVu Sans, sans-serif" font-size="23.1" text-anchor="middle">b (mm)</text>
<text transform="translate(1006,572.0) rotate(-90)" font-family="DejaVu Sans, sans-serif" font-size="23.1" text-anchor="middle">Magnetic Field (G)</text>
<text x="1296.2" y="426.3" font-family="DejaVu Sans, sans-serif" font-size="28" text-anchor="middle">Along MOT Axis b (a=0, z=0)</text>
<rect x="1255.5" y="634.6" width="246.9" height="68.6" rx="3" fill="#fff" fill-opacity="0.8" stroke="#ccc" stroke-width="1.2"/>
<line x1="1264.2" y1="651.8" x2="1307.2" y2="651.8" stroke="#1f77b4" stroke-width="2.3" />
<text x="1322.5" y="658.8" font-family="DejaVu Sans, sans-serif" font-size="19.3">B<tspan font-style="italic" font-size="13.5" dy="3.5">a</tspan></text>
<line x1="1264.2" y1="683.0" x2="1307.2" y2="683.0" stroke="#ff7f0e" stroke-width="2.3" />
<text x="1322.5" y="690.0" font-family="DejaVu Sans, sans-serif" font-size="19.3">B<tspan font-style="italic" font-size="13.5" dy="3.5">b</tspan></text>
<line x1="1388" y1="651.8" x2="1431" y2="651.8" stroke="#2ca02c" stroke-width="2.3" />
<text x="1446.3" y="658.8" font-family="DejaVu Sans, sans-serif" font-size="19.3">B<tspan font-style="italic" font-size="13.5" dy="3.5">z</tspan></text>
<line x1="1388" y1="683.0" x2="1431" y2="683.0" stroke="#ff7f0e" stroke-width="2.3" stroke-dasharray="7.1,3.1"/>
<text x="1446.3" y="690.0" font-family="DejaVu Sans, sans-serif" font-size="19.3">∇<tspan font-style="italic" font-size="13.5" dy="3.5">b</tspan><tspan dy="-3.5">B</tspan><tspan font-style="italic" font-size="13.5" dy="3.5">b</tspan></text>
<path d="M1663.3,316.7 v-9.5 M1663.3,15.0 v9.5 M1773.6,316.7 v-9.5 M1773.6,15.0 v9.5 M1884.0,316.7 v-9.5 M1884.0,15.0 v9.5 M1994.3,316.7 v-9.5 M1994.3,15.0 v9.5 M1685.4,316.7 v-5.5 M1685.4,15.0 v5.5 M1707.4,316.7 v-5.5 M1707.4,15.0 v5.5 M1729.5,316.7 v-5.5 M1729.5,15.0 v5.5 M1751.6,316.7 v-5.5 M1751.6,15.0 v5.5 M1795.7,316.7 v-5.5 M1795.7,15.0 v5.5 M1817.8,316.7 v-5.5 M1817.8,15.0 v5.5 M1839.8,316.7 v-5.5 M1839.8,15.0 v5.5 M1861.9,316.7 v-5.5 M1861.9,15.0 v5.5 M1906.0,316.7 v-5.5 M1906.0,15.0 v5.5 M1928.1,316.7 v-5.5 M1928.1,15.0 v5.5 M1950.2,316.7 v-5.5 M1950.2,15.0 v5.5 M1972.2,316.7 v-5.5 M1972.2,15.0 v5.5 M1663.3,266.4 h9.5 M1994.3,266.4 h-9.5 M1663.3,182.6 h9.5 M1994.3,182.6 h-9.5 M1663.3,98.8 h9.5 M1994.3,98.8 h-9.5 M1663.3,15.0 h9.5 M1994.3,15.0 h-9.5 M1663.3,299.9 h5.5 M1994.3,299.9 h-5.5 M1663.3,283.2 h5.5 M1994.3,283.2 h-5.5 M1663.3,249.7 h5.5 M1994.3,249.7 h-5.5 M1663.3,232.9 h5.5 M1994.3,232.9 h-5.5 M1663.3,216.1 h5.5 M1994.3,216.1 h-5.5 M1663.3,199.4 h5.5 M1994.3,199.4 h-5.5 M1663.3,165.8 h5.5 M1994.3,165.8 h-5.5 M1663.3,149.1 h5.5 M1994.3,149.1 h-5.5 M1663.3,132.3 h5.5 M1994.3,132.3 h-5.5 M1663.3,115.6 h5.5 M1994.3,115.6 h-5.5 M1663.3,82.0 h5.5 M1994.3,82.0 h-5.5 M1663.3,65.3 h5.5 M1994.3,65.3 h-5.5 M1663.3,48.5 h5.5 M1994.3,48.5 h-5.5 M1663.3,31.8 h5.5 M1994.3,31.8 h-5.5" stroke="#000" stroke-width="2.0" fill="none"/>
<rect x="1663.3" y="15.0" width="331.0" height="301.7" fill="none" stroke="#000" stroke-width="2.6"/>
<text x="1663.3" y="337.2" font-family="DejaVu Sans, sans-serif" font-size="23.1" text-anchor="middle">−3</text>
<text x="1773.6" y="337.2" font-family="DejaVu Sans, sans-serif" font-size="23.1" text-anchor="middle">−2</text>
<text x="1884.0" y="337.2" font-family="DejaVu Sans, sans-serif" font-size="23.1" text-anchor="middle">−1</text>
<text x="1994.3" y="337.2" font-family="DejaVu Sans, sans-serif" font-size="23.1" text-anchor="middle">0</text>
<text x="1661.5" y="275.0" font-family="DejaVu Sans, sans-serif" font-size="23.1" text-anchor="end">5</text>
<text x="1661.5" y="191.2" font-family="DejaVu Sans, sans-serif" font-size="23.1" text-anchor="end">10</text>
<text x="1661.5" y="107.4" font-family="DejaVu Sans, sans-serif" font-size="23.1" text-anchor="end">15</text>
<text x="1661.5" y="23.6" font-family="DejaVu Sans, sans-serif" font-size="23.1" text-anchor="end">20</text>
<text x="1828.8" y="359.7" font-family="DejaVu Sans, sans-serif" font-size="22.2" text-anchor="middle">Beam Detuning (Γ)</text>
<text transform="translate(1627.3,165.8) rotate(-90)" font-family="DejaVu Sans, sans-serif" font-size="22.2" text-anchor="middle">Beam Power (mW)</text>
<rect x="2014.5" y="15.0" width="15.7" height="301.7" fill="none" stroke="#222" stroke-width="0.8"/>
<text x="2033.7" y="325.6" font-family="DejaVu Sans, sans-serif" font-size="23.1">0</text>
<text x="2033.7" y="265.3" font-family="DejaVu Sans, sans-serif" font-size="23.1">20</text>
<text x="2033.7" y="204.9" font-family="DejaVu Sans, sans-serif" font-size="23.1">40</text>
<text x="2033.7" y="144.6" font-family="DejaVu Sans, sans-serif" font-size="23.1">60</text>
<text x="2033.7" y="84.2" font-family="DejaVu Sans, sans-serif" font-size="23.1">80</text>
<text x="2033.7" y="23.9" font-family="DejaVu Sans, sans-serif" font-size="23.1">100</text>
<text transform="translate(2095.6,165.8) rotate(-90)" font-family="DejaVu Sans, sans-serif" font-size="22.2" text-anchor="middle">Capture Velocity (m/s)</text>
<path d="M1663.3,714.5 v-9.5 M1663.3,413.0 v9.5 M1746.0,714.5 v-9.5 M1746.0,413.0 v9.5 M1828.8,714.5 v-9.5 M1828.8,413.0 v9.5 M1911.5,714.5 v-9.5 M1911.5,413.0 v9.5 M1994.3,714.5 v-9.5 M1994.3,413.0 v9.5 M1679.8,714.5 v-5.5 M1679.8,413.0 v5.5 M1696.4,714.5 v-5.5 M1696.4,413.0 v5.5 M1713.0,714.5 v-5.5 M1713.0,413.0 v5.5 M1729.5,714.5 v-5.5 M1729.5,413.0 v5.5 M1762.6,714.5 v-5.5 M1762.6,413.0 v5.5 M1779.2,714.5 v-5.5 M1779.2,413.0 v5.5 M1795.7,714.5 v-5.5 M1795.7,413.0 v5.5 M1812.2,714.5 v-5.5 M1812.2,413.0 v5.5 M1845.3,714.5 v-5.5 M1845.3,413.0 v5.5 M1861.9,714.5 v-5.5 M1861.9,413.0 v5.5 M1878.5,714.5 v-5.5 M1878.5,413.0 v5.5 M1895.0,714.5 v-5.5 M1895.0,413.0 v5.5 M1928.1,714.5 v-5.5 M1928.1,413.0 v5.5 M1944.7,714.5 v-5.5 M1944.7,413.0 v5.5 M1961.2,714.5 v-5.5 M1961.2,413.0 v5.5 M1977.8,714.5 v-5.5 M1977.8,413.0 v5.5 M1663.3,664.2 h9.5 M1994.3,664.2 h-9.5 M1663.3,580.5 h9.5 M1994.3,580.5 h-9.5 M1663.3,496.8 h9.5 M1994.3,496.8 h-9.5 M1663.3,413.0 h9.5 M1994.3,413.0 h-9.5 M1663.3,697.8 h5.5 M1994.3,697.8 h-5.5 M1663.3,681.0 h5.5 M1994.3,681.0 h-5.5 M1663.3,647.5 h5.5 M1994.3,647.5 h-5.5 M1663.3,630.8 h5.5 M1994.3,630.8 h-5.5 M1663.3,614.0 h5.5 M1994.3,614.0 h-5.5 M1663.3,597.2 h5.5 M1994.3,597.2 h-5.5 M1663.3,563.8 h5.5 M1994.3,563.8 h-5.5 M1663.3,547.0 h5.5 M1994.3,547.0 h-5.5 M1663.3,530.2 h5.5 M1994.3,530.2 h-5.5 M1663.3,513.5 h5.5 M1994.3,513.5 h-5.5 M1663.3,480.0 h5.5 M1994.3,480.0 h-5.5 M1663.3,463.2 h5.5 M1994.3,463.2 h-5.5 M1663.3,446.5 h5.5 M1994.3,446.5 h-5.5 M1663.3,429.8 h5.5 M1994.3,429.8 h-5.5" stroke="#000" stroke-width="2.0" fill="none"/>
<rect x="1663.3" y="413.0" width="331.0" height="301.5" fill="none" stroke="#000" stroke-width="2.6"/>
<text x="1663.3" y="735.0" font-family="DejaVu Sans, sans-serif" font-size="23.1" text-anchor="middle">1</text>
<text x="1746.0" y="735.0" font-family="DejaVu Sans, sans-serif" font-size="23.1" text-anchor="middle">2</text>
<text x="1828.8" y="735.0" font-family="DejaVu Sans, sans-serif" font-size="23.1" text-anchor="middle">3</text>
<text x="1911.5" y="735.0" font-family="DejaVu Sans, sans-serif" font-size="23.1" text-anchor="middle">4</text>
<text x="1994.3" y="735.0" font-family="DejaVu Sans, sans-serif" font-size="23.1" text-anchor="middle">5</text>
<text x="1661.5" y="672.9" font-family="DejaVu Sans, sans-serif" font-size="23.1" text-anchor="end">5</text>
<text x="1661.5" y="589.1" font-family="DejaVu Sans, sans-serif" font-size="23.1" text-anchor="end">10</text>
<text x="1661.5" y="505.4" font-family="DejaVu Sans, sans-serif" font-size="23.1" text-anchor="end">15</text>
<text x="1661.5" y="421.6" font-family="DejaVu Sans, sans-serif" font-size="23.1" text-anchor="end">20</text>
<text x="1828.8" y="757.5" font-family="DejaVu Sans, sans-serif" font-size="22.2" text-anchor="middle">Beam Radius (mm)</text>
<text transform="translate(1627.3,563.8) rotate(-90)" font-family="DejaVu Sans, sans-serif" font-size="22.2" text-anchor="middle">Beam Power (mW)</text>
<rect x="2014.5" y="413.0" width="15.7" height="301.5" fill="none" stroke="#222" stroke-width="0.8"/>
<text x="2033.7" y="723.4" font-family="DejaVu Sans, sans-serif" font-size="23.1">0</text>
<text x="2033.7" y="663.1" font-family="DejaVu Sans, sans-serif" font-size="23.1">20</text>
<text x="2033.7" y="602.8" font-family="DejaVu Sans, sans-serif" font-size="23.1">40</text>
<text x="2033.7" y="542.5" font-family="DejaVu Sans, sans-serif" font-size="23.1">60</text>
<text x="2033.7" y="482.2" font-family="DejaVu Sans, sans-serif" font-size="23.1">80</text>
<text x="2033.7" y="421.9" font-family="DejaVu Sans, sans-serif" font-size="23.1">100</text>
<text transform="translate(2095.6,563.8) rotate(-90)" font-family="DejaVu Sans, sans-serif" font-size="22.2" text-anchor="middle">Capture Velocity (m/s)</text>
<text x="954.5" y="28" font-family="Liberation Sans, Arial, sans-serif" font-size="35" font-weight="bold">(b)</text>
<text x="959.3" y="414" font-family="Liberation Sans, Arial, sans-serif" font-size="35" font-weight="bold">(c)</text>
<text x="1540" y="31.8" font-family="Liberation Sans, Arial, sans-serif" font-size="35" font-weight="bold">(d)</text>
<text x="1546.5" y="409" font-family="Liberation Sans, Arial, sans-serif" font-size="35" font-weight="bold">(e)</text>
</svg>
</div></body></html>
